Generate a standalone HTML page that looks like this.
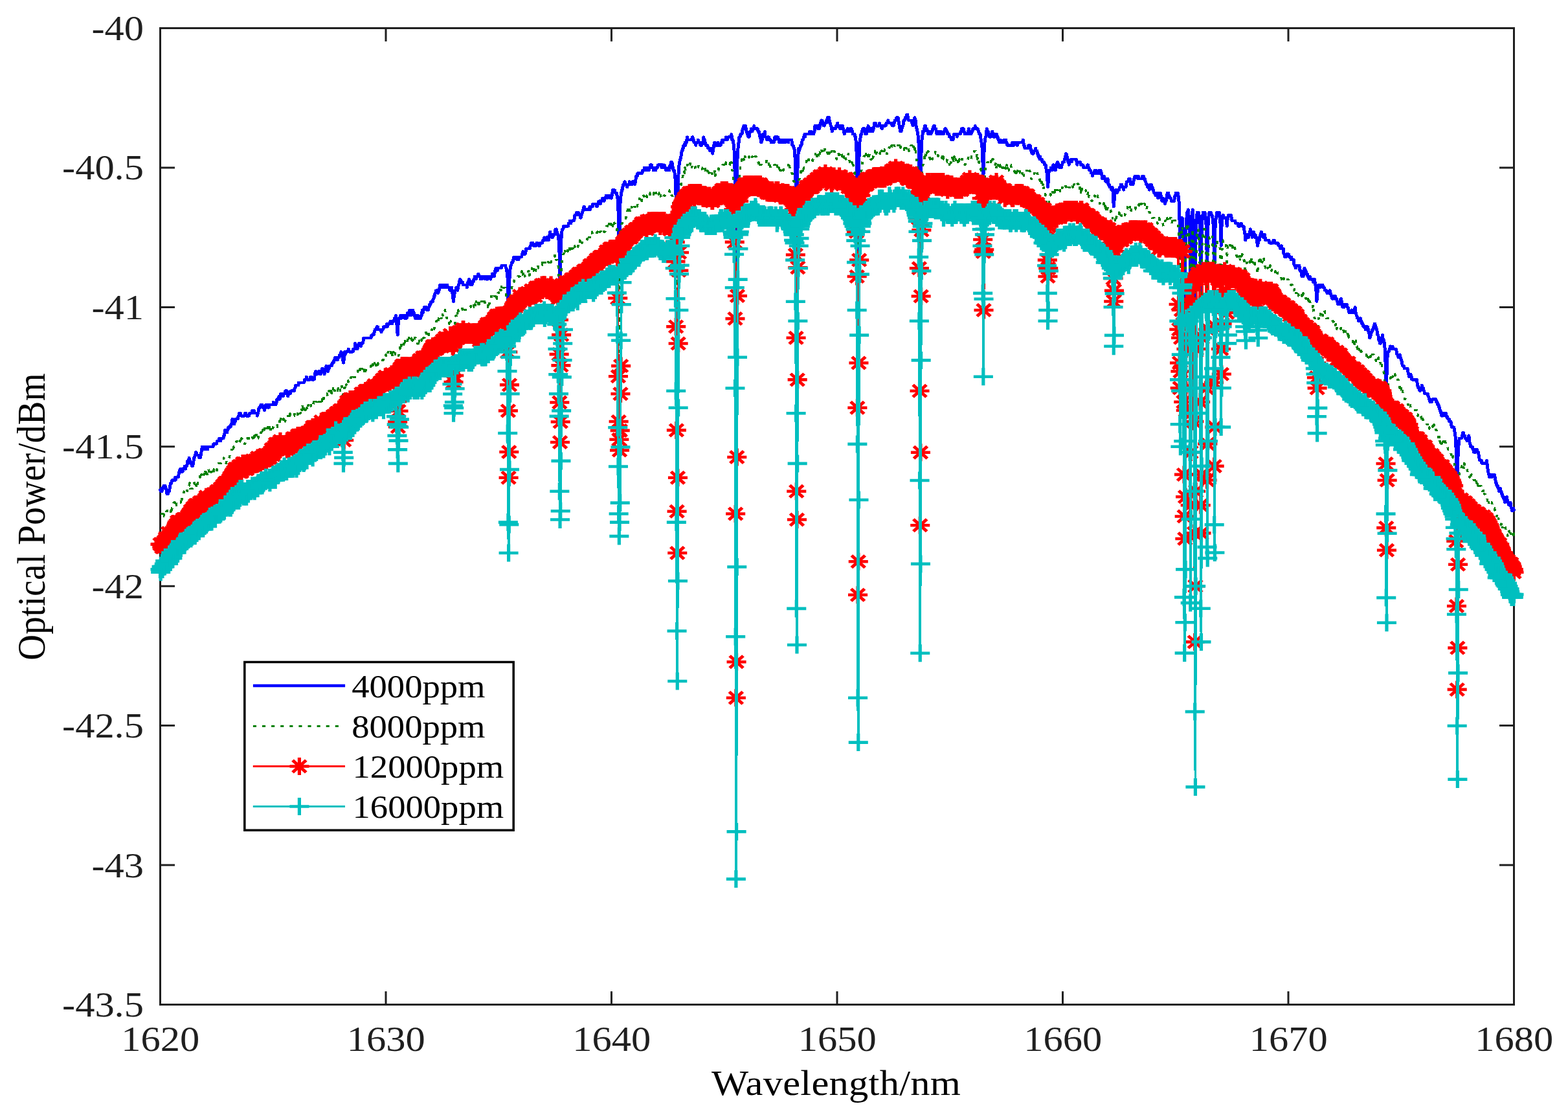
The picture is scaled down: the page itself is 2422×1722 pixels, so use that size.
<!DOCTYPE html>
<html lang="en"><head><meta charset="utf-8"><title>Optical Power vs Wavelength</title>
<style>html,body{margin:0;padding:0;background:#fff}svg{display:block}text{font-family:'Liberation Serif',serif}</style></head><body>
<svg width="2422" height="1722" viewBox="0 0 2422 1722">
<rect width="2422" height="1722" fill="#fff"/>
<g stroke="#1f1f1f" stroke-width="3" fill="none" stroke-linecap="butt">
<rect x="247.5" y="43.5" width="2091.0" height="1508.0"/>
<path d="M596.0 1551.5v-20.5M596.0 43.5v20.5M944.5 1551.5v-20.5M944.5 43.5v20.5M1293.0 1551.5v-20.5M1293.0 43.5v20.5M1641.5 1551.5v-20.5M1641.5 43.5v20.5M1990.0 1551.5v-20.5M1990.0 43.5v20.5M247.5 258.9h22.5M2338.5 258.9h-22.5M247.5 474.4h22.5M2338.5 474.4h-22.5M247.5 689.8h22.5M2338.5 689.8h-22.5M247.5 905.2h22.5M2338.5 905.2h-22.5M247.5 1120.6h22.5M2338.5 1120.6h-22.5M247.5 1336.1h22.5M2338.5 1336.1h-22.5"/>
</g>
<g fill="#1f1f1f" font-size="55">
<text transform="translate(247.8 1622.5) scale(1.100 1)" text-anchor="middle">1620</text>
<text transform="translate(596.3 1622.5) scale(1.100 1)" text-anchor="middle">1630</text>
<text transform="translate(944.8 1622.5) scale(1.100 1)" text-anchor="middle">1640</text>
<text transform="translate(1293.3 1622.5) scale(1.100 1)" text-anchor="middle">1650</text>
<text transform="translate(1641.8 1622.5) scale(1.100 1)" text-anchor="middle">1660</text>
<text transform="translate(1990.3 1622.5) scale(1.100 1)" text-anchor="middle">1670</text>
<text transform="translate(2338.8 1622.5) scale(1.100 1)" text-anchor="middle">1680</text>
<text transform="translate(222 62.0) scale(1.100 1)" text-anchor="end">-40</text>
<text transform="translate(222 277.4) scale(1.100 1)" text-anchor="end">-40.5</text>
<text transform="translate(222 492.9) scale(1.100 1)" text-anchor="end">-41</text>
<text transform="translate(222 708.3) scale(1.100 1)" text-anchor="end">-41.5</text>
<text transform="translate(222 923.7) scale(1.100 1)" text-anchor="end">-42</text>
<text transform="translate(222 1139.1) scale(1.100 1)" text-anchor="end">-42.5</text>
<text transform="translate(222 1354.6) scale(1.100 1)" text-anchor="end">-43</text>
<text transform="translate(222 1570.0) scale(1.100 1)" text-anchor="end">-43.5</text>
</g>
<g fill="#000" font-size="55">
<text transform="translate(1291.6 1691.3) scale(1.100 1)" text-anchor="middle" letter-spacing="0.25">Wavelength/nm</text>
<text transform="translate(69.2 798) scale(1.130 1) rotate(-90)" text-anchor="middle" letter-spacing="0.3">Optical Power/dBm</text>
</g>
<defs><g id="mP"><path d="M-13.3 0H13.3M0 -13.5V13.5" stroke="#00bfbf" stroke-width="4.6" fill="none"/></g><g id="mA"><path d="M-13.3 0H13.3M0 -13.5V13.5M-9.2 -9.4L9.2 9.4M-9.2 9.4L9.2 -9.4" stroke="#f00" stroke-width="4.6" fill="none"/></g><marker id="kP" markerUnits="userSpaceOnUse" markerWidth="34" markerHeight="32" refX="0" refY="0" viewBox="-17 -16 34 32" overflow="visible"><path d="M-13.3 0H13.3M0 -13.5V13.5" stroke="#00bfbf" stroke-width="4.6" fill="none"/></marker><marker id="kA" markerUnits="userSpaceOnUse" markerWidth="34" markerHeight="32" refX="0" refY="0" viewBox="-17 -16 34 32" overflow="visible"><path d="M-13.3 0H13.3M0 -13.5V13.5M-9.2 -9.4L9.2 9.4M-9.2 9.4L9.2 -9.4" stroke="#f00" stroke-width="4.6" fill="none"/></marker></defs>
<g fill="none" stroke-linejoin="round" shape-rendering="crispEdges" transform="scale(1.130 1)">
<polyline stroke="#00f" stroke-width="4.4" points="219.03,754.4 219.64,758.7 220.26,758.7 220.88,754.4 221.49,758.7 222.11,754.4 222.73,754.4 223.34,754.4 223.96,750.1 224.58,750.1 225.19,754.4 225.81,750.1 226.43,754.4 227.05,754.4 227.66,758.7 228.28,763.0 228.90,763.0 229.51,763.0 230.13,758.7 230.75,758.7 231.36,758.7 231.98,754.4 232.60,750.1 233.21,745.8 233.83,745.8 234.45,745.8 235.06,741.5 235.68,741.5 236.30,741.5 236.91,741.5 237.53,741.5 238.15,741.5 238.76,741.5 239.38,737.2 240.00,741.5 240.62,737.2 241.23,737.2 241.85,737.2 242.47,737.2 243.08,737.2 243.70,737.2 244.32,732.9 244.93,728.6 245.55,728.6 246.17,724.3 246.78,724.3 247.40,724.3 248.02,728.6 248.63,728.6 249.25,724.3 249.87,728.6 250.48,724.3 251.10,724.3 251.72,724.3 252.33,719.9 252.95,719.9 253.57,724.3 254.18,719.9 254.80,719.9 255.42,719.9 256.04,715.6 256.65,711.3 257.27,711.3 257.89,711.3 258.50,707.0 259.12,711.3 259.74,711.3 260.35,715.6 260.97,715.6 261.59,715.6 262.20,719.9 262.82,719.9 263.44,719.9 264.05,715.6 264.67,711.3 265.29,707.0 265.90,707.0 266.52,702.7 267.14,702.7 267.75,698.4 268.37,698.4 268.99,702.7 269.61,702.7 270.22,702.7 270.84,702.7 271.46,702.7 272.07,707.0 272.69,707.0 273.31,707.0 273.92,707.0 274.54,702.7 275.16,698.4 275.77,694.1 276.39,689.8 277.01,689.8 277.62,694.1 278.24,694.1 278.86,694.1 279.47,694.1 280.09,694.1 280.71,689.8 281.32,689.8 281.94,694.1 282.56,694.1 283.18,689.8 283.79,694.1 284.41,689.8 285.03,689.8 285.64,689.8 286.26,689.8 286.88,689.8 287.49,689.8 288.11,689.8 288.73,689.8 289.34,689.8 289.96,689.8 290.58,689.8 291.19,689.8 291.81,685.5 292.43,685.5 293.04,685.5 293.66,685.5 294.28,685.5 294.89,685.5 295.51,685.5 296.13,685.5 296.75,681.2 297.36,681.2 297.98,681.2 298.60,681.2 299.21,681.2 299.83,676.9 300.45,676.9 301.06,681.2 301.68,681.2 302.30,676.9 302.91,676.9 303.53,676.9 304.15,676.9 304.76,676.9 305.38,676.9 306.00,672.6 306.61,672.6 307.23,668.2 307.85,663.9 308.46,663.9 309.08,663.9 309.70,663.9 310.32,668.2 310.93,663.9 311.55,663.9 312.17,659.6 312.78,659.6 313.40,659.6 314.02,659.6 314.63,659.6 315.25,659.6 315.87,655.3 316.48,655.3 317.10,651.0 317.72,646.7 318.33,651.0 318.95,651.0 319.57,651.0 320.18,655.3 320.80,651.0 321.42,651.0 322.03,646.7 322.65,646.7 323.27,646.7 323.88,646.7 324.50,646.7 325.12,646.7 325.74,642.4 326.35,642.4 326.97,638.1 327.59,638.1 328.20,638.1 328.82,638.1 329.44,642.4 330.05,642.4 330.67,642.4 331.29,642.4 331.90,642.4 332.52,642.4 333.14,642.4 333.75,642.4 334.37,642.4 334.99,638.1 335.60,638.1 336.22,638.1 336.84,642.4 337.45,642.4 338.07,642.4 338.69,642.4 339.31,642.4 339.92,642.4 340.54,642.4 341.16,638.1 341.77,638.1 342.39,638.1 343.01,638.1 343.62,638.1 344.24,638.1 344.86,633.8 345.47,633.8 346.09,638.1 346.71,633.8 347.32,633.8 347.94,638.1 348.56,638.1 349.17,638.1 349.79,638.1 350.41,638.1 351.02,638.1 351.64,642.4 352.26,638.1 352.88,638.1 353.49,633.8 354.11,629.5 354.73,629.5 355.34,629.5 355.96,629.5 356.58,625.2 357.19,625.2 357.81,625.2 358.43,625.2 359.04,629.5 359.66,629.5 360.28,629.5 360.89,629.5 361.51,633.8 362.13,629.5 362.74,629.5 363.36,625.2 363.98,629.5 364.59,625.2 365.21,625.2 365.83,625.2 366.45,629.5 367.06,629.5 367.68,629.5 368.30,625.2 368.91,625.2 369.53,625.2 370.15,625.2 370.76,625.2 371.38,625.2 372.00,625.2 372.61,625.2 373.23,625.2 373.85,620.8 374.46,625.2 375.08,625.2 375.70,625.2 376.31,625.2 376.93,625.2 377.55,620.8 378.16,620.8 378.78,616.5 379.40,616.5 380.02,616.5 380.63,616.5 381.25,612.2 381.87,616.5 382.48,616.5 383.10,612.2 383.72,607.9 384.33,607.9 384.95,607.9 385.57,607.9 386.18,607.9 386.80,612.2 387.42,607.9 388.03,607.9 388.65,607.9 389.27,607.9 389.88,603.6 390.50,603.6 391.12,603.6 391.73,603.6 392.35,603.6 392.97,607.9 393.58,612.2 394.20,607.9 394.82,607.9 395.44,607.9 396.05,607.9 396.67,607.9 397.29,603.6 397.90,603.6 398.52,603.6 399.14,603.6 399.75,603.6 400.37,603.6 400.99,603.6 401.60,603.6 402.22,603.6 402.84,599.3 403.45,599.3 404.07,595.0 404.69,595.0 405.30,595.0 405.92,595.0 406.54,595.0 407.15,595.0 407.77,595.0 408.39,590.7 409.01,590.7 409.62,590.7 410.24,590.7 410.86,590.7 411.47,590.7 412.09,590.7 412.71,590.7 413.32,590.7 413.94,590.7 414.56,590.7 415.17,590.7 415.79,590.7 416.41,586.4 417.02,586.4 417.64,586.4 418.26,586.4 418.87,582.1 419.49,586.4 420.11,586.4 420.72,586.4 421.34,586.4 421.96,586.4 422.58,586.4 423.19,586.4 423.81,586.4 424.43,582.1 425.04,586.4 425.66,586.4 426.28,582.1 426.89,586.4 427.51,586.4 428.13,586.4 428.74,586.4 429.36,586.4 429.98,582.1 430.59,577.8 431.21,573.5 431.83,573.5 432.44,577.8 433.06,577.8 433.68,577.8 434.29,577.8 434.91,573.5 435.53,573.5 436.15,573.5 436.76,573.5 437.38,573.5 438.00,577.8 438.61,577.8 439.23,573.5 439.85,573.5 440.46,569.1 441.08,573.5 441.70,573.5 442.31,573.5 442.93,573.5 443.55,577.8 444.16,573.5 444.78,569.1 445.40,569.1 446.01,564.8 446.63,569.1 447.25,573.5 447.86,569.1 448.48,573.5 449.10,569.1 449.72,569.1 450.33,564.8 450.95,564.8 451.57,564.8 452.18,564.8 452.80,564.8 453.42,564.8 454.03,560.5 454.65,560.5 455.27,560.5 455.88,560.5 456.50,556.2 457.12,556.2 457.73,556.2 458.35,551.9 458.97,556.2 459.58,556.2 460.20,556.2 460.82,556.2 461.43,556.2 462.05,551.9 462.67,551.9 463.28,551.9 463.90,551.9 464.52,547.6 465.14,547.6 465.75,547.6 466.37,543.3 466.99,547.6 467.60,547.6 468.22,551.9 468.84,556.2 469.45,560.5 470.07,556.2 470.69,551.9 471.30,543.3 471.92,547.6 472.54,543.3 473.15,543.3 473.77,543.3 474.39,543.3 475.00,543.3 475.62,543.3 476.24,539.0 476.85,543.3 477.47,543.3 478.09,543.3 478.71,543.3 479.32,543.3 479.94,543.3 480.56,543.3 481.17,543.3 481.79,543.3 482.41,543.3 483.02,539.0 483.64,539.0 484.26,539.0 484.87,539.0 485.49,530.4 486.11,534.7 486.72,534.7 487.34,539.0 487.96,539.0 488.57,539.0 489.19,534.7 489.81,534.7 490.42,530.4 491.04,530.4 491.66,530.4 492.28,530.4 492.89,534.7 493.51,534.7 494.13,530.4 494.74,530.4 495.36,530.4 495.98,530.4 496.59,526.1 497.21,521.8 497.83,521.8 498.44,521.8 499.06,521.8 499.68,521.8 500.29,521.8 500.91,521.8 501.53,521.8 502.14,521.8 502.76,521.8 503.38,521.8 503.99,521.8 504.61,521.8 505.23,521.8 505.85,521.8 506.46,521.8 507.08,521.8 507.70,517.4 508.31,517.4 508.93,517.4 509.55,517.4 510.16,517.4 510.78,517.4 511.40,513.1 512.01,513.1 512.63,508.8 513.25,508.8 513.86,508.8 514.48,508.8 515.10,504.5 515.71,504.5 516.33,504.5 516.95,508.8 517.56,508.8 518.18,508.8 518.80,508.8 519.42,508.8 520.03,508.8 520.65,508.8 521.27,513.1 521.88,508.8 522.50,508.8 523.12,508.8 523.73,508.8 524.35,504.5 524.97,504.5 525.58,504.5 526.20,504.5 526.82,504.5 527.43,504.5 528.05,504.5 528.67,500.2 529.28,504.5 529.90,504.5 530.52,500.2 531.13,500.2 531.75,500.2 532.37,500.2 532.98,500.2 533.60,495.9 534.22,495.9 534.84,495.9 535.45,495.9 536.07,500.2 536.69,495.9 537.30,495.9 537.92,495.9 538.54,495.9 539.15,491.6 539.77,491.6 540.39,491.6 541.00,487.3 541.62,495.9 542.24,500.2 542.85,504.5 543.47,517.4 544.09,504.5 544.70,495.9 545.32,491.6 545.94,491.6 546.55,491.6 547.17,487.3 547.79,487.3 548.41,487.3 549.02,491.6 549.64,487.3 550.26,487.3 550.87,487.3 551.49,487.3 552.11,487.3 552.72,487.3 553.34,491.6 553.96,487.3 554.57,491.6 555.19,491.6 555.81,491.6 556.42,487.3 557.04,483.0 557.66,483.0 558.27,487.3 558.89,483.0 559.51,483.0 560.12,478.7 560.74,483.0 561.36,483.0 561.98,487.3 562.59,483.0 563.21,478.7 563.83,478.7 564.44,478.7 565.06,483.0 565.68,483.0 566.29,487.3 566.91,487.3 567.53,491.6 568.14,491.6 568.76,491.6 569.38,487.3 569.99,491.6 570.61,491.6 571.23,487.3 571.84,491.6 572.46,491.6 573.08,491.6 573.69,491.6 574.31,491.6 574.93,491.6 575.55,487.3 576.16,487.3 576.78,483.0 577.40,478.7 578.01,483.0 578.63,478.7 579.25,478.7 579.86,474.4 580.48,474.4 581.10,474.4 581.71,474.4 582.33,474.4 582.95,474.4 583.56,478.7 584.18,478.7 584.80,478.7 585.41,478.7 586.03,474.4 586.65,474.4 587.26,470.0 587.88,470.0 588.50,470.0 589.12,465.7 589.73,465.7 590.35,465.7 590.97,465.7 591.58,465.7 592.20,461.4 592.82,461.4 593.43,457.1 594.05,457.1 594.67,452.8 595.28,452.8 595.90,448.5 596.52,448.5 597.13,448.5 597.75,448.5 598.37,448.5 598.98,452.8 599.60,448.5 600.22,448.5 600.83,444.2 601.45,439.9 602.07,439.9 602.68,439.9 603.30,439.9 603.92,439.9 604.54,444.2 605.15,439.9 605.77,439.9 606.39,444.2 607.00,444.2 607.62,439.9 608.24,444.2 608.85,444.2 609.47,444.2 610.09,444.2 610.70,439.9 611.32,439.9 611.94,444.2 612.55,444.2 613.17,444.2 613.79,444.2 614.40,444.2 615.02,448.5 615.64,448.5 616.25,448.5 616.87,444.2 617.49,444.2 618.11,452.8 618.72,452.8 619.34,461.4 619.96,465.7 620.57,457.1 621.19,452.8 621.81,452.8 622.42,448.5 623.04,448.5 623.66,444.2 624.27,444.2 624.89,444.2 625.51,448.5 626.12,444.2 626.74,439.9 627.36,439.9 627.97,435.6 628.59,431.3 629.21,431.3 629.82,435.6 630.44,435.6 631.06,435.6 631.68,435.6 632.29,435.6 632.91,439.9 633.53,439.9 634.14,439.9 634.76,439.9 635.38,439.9 635.99,439.9 636.61,439.9 637.23,439.9 637.84,439.9 638.46,444.2 639.08,439.9 639.69,435.6 640.31,435.6 640.93,431.3 641.54,431.3 642.16,435.6 642.78,439.9 643.39,439.9 644.01,439.9 644.63,435.6 645.25,439.9 645.86,435.6 646.48,435.6 647.10,435.6 647.71,431.3 648.33,431.3 648.95,427.0 649.56,427.0 650.18,431.3 650.80,431.3 651.41,427.0 652.03,427.0 652.65,427.0 653.26,427.0 653.88,422.7 654.50,427.0 655.11,427.0 655.73,427.0 656.35,427.0 656.96,431.3 657.58,427.0 658.20,431.3 658.82,431.3 659.43,427.0 660.05,427.0 660.67,427.0 661.28,427.0 661.90,427.0 662.52,427.0 663.13,431.3 663.75,427.0 664.37,431.3 664.98,431.3 665.60,431.3 666.22,427.0 666.83,431.3 667.45,427.0 668.07,427.0 668.68,427.0 669.30,427.0 669.92,427.0 670.53,431.3 671.15,427.0 671.77,427.0 672.38,427.0 673.00,422.7 673.62,427.0 674.24,427.0 674.85,422.7 675.47,427.0 676.09,422.7 676.70,418.3 677.32,418.3 677.94,414.0 678.55,418.3 679.17,418.3 679.79,418.3 680.40,414.0 681.02,414.0 681.64,414.0 682.25,414.0 682.87,414.0 683.49,414.0 684.10,414.0 684.72,414.0 685.34,414.0 685.95,409.7 686.57,409.7 687.19,409.7 687.81,409.7 688.42,409.7 689.04,409.7 689.66,409.7 690.27,409.7 690.89,409.7 691.51,414.0 692.12,414.0 692.74,418.3 693.36,422.7 693.97,431.3 694.59,461.4 695.21,491.6 695.82,461.4 696.44,431.3 697.06,418.3 697.67,414.0 698.29,409.7 698.91,409.7 699.52,405.4 700.14,405.4 700.76,405.4 701.38,401.1 701.99,401.1 702.61,396.8 703.23,396.8 703.84,396.8 704.46,396.8 705.08,396.8 705.69,396.8 706.31,396.8 706.93,401.1 707.54,401.1 708.16,401.1 708.78,401.1 709.39,396.8 710.01,396.8 710.63,396.8 711.24,396.8 711.86,396.8 712.48,396.8 713.09,396.8 713.71,392.5 714.33,392.5 714.95,388.2 715.56,392.5 716.18,392.5 716.80,392.5 717.41,392.5 718.03,392.5 718.65,388.2 719.26,383.9 719.88,383.9 720.50,383.9 721.11,383.9 721.73,383.9 722.35,383.9 722.96,383.9 723.58,383.9 724.20,383.9 724.81,379.6 725.43,379.6 726.05,375.3 726.66,375.3 727.28,375.3 727.90,375.3 728.52,375.3 729.13,379.6 729.75,379.6 730.37,379.6 730.98,379.6 731.60,379.6 732.22,379.6 732.83,379.6 733.45,375.3 734.07,375.3 734.68,375.3 735.30,375.3 735.92,379.6 736.53,379.6 737.15,379.6 737.77,379.6 738.38,375.3 739.00,375.3 739.62,375.3 740.23,375.3 740.85,375.3 741.47,375.3 742.08,371.0 742.70,371.0 743.32,371.0 743.94,366.6 744.55,371.0 745.17,371.0 745.79,371.0 746.40,371.0 747.02,366.6 747.64,371.0 748.25,366.6 748.87,371.0 749.49,371.0 750.10,371.0 750.72,366.6 751.34,362.3 751.95,358.0 752.57,362.3 753.19,362.3 753.80,362.3 754.42,366.6 755.04,362.3 755.65,366.6 756.27,362.3 756.89,362.3 757.51,362.3 758.12,362.3 758.74,358.0 759.36,353.7 759.97,358.0 760.59,353.7 761.21,358.0 761.82,362.3 762.44,362.3 763.06,362.3 763.67,371.0 764.29,375.3 764.91,405.4 765.52,435.6 766.14,401.1 766.76,375.3 767.37,366.6 767.99,358.0 768.61,353.7 769.22,353.7 769.84,353.7 770.46,349.4 771.08,349.4 771.69,349.4 772.31,349.4 772.93,349.4 773.54,349.4 774.16,349.4 774.78,349.4 775.39,349.4 776.01,349.4 776.63,349.4 777.24,345.1 777.86,345.1 778.48,345.1 779.09,340.8 779.71,340.8 780.33,345.1 780.94,340.8 781.56,340.8 782.18,340.8 782.79,340.8 783.41,340.8 784.03,340.8 784.65,340.8 785.26,336.5 785.88,332.2 786.50,332.2 787.11,332.2 787.73,332.2 788.35,327.9 788.96,332.2 789.58,332.2 790.20,327.9 790.81,327.9 791.43,332.2 792.05,332.2 792.66,332.2 793.28,336.5 793.90,336.5 794.51,332.2 795.13,332.2 795.75,327.9 796.36,327.9 796.98,323.6 797.60,323.6 798.22,319.2 798.83,319.2 799.45,323.6 800.07,323.6 800.68,323.6 801.30,323.6 801.92,323.6 802.53,323.6 803.15,323.6 803.77,323.6 804.38,323.6 805.00,323.6 805.62,323.6 806.23,319.2 806.85,323.6 807.47,319.2 808.08,319.2 808.70,319.2 809.32,319.2 809.93,319.2 810.55,314.9 811.17,314.9 811.78,314.9 812.40,314.9 813.02,314.9 813.64,314.9 814.25,314.9 814.87,314.9 815.49,319.2 816.10,319.2 816.72,314.9 817.34,314.9 817.95,314.9 818.57,310.6 819.19,310.6 819.80,314.9 820.42,310.6 821.04,314.9 821.65,310.6 822.27,310.6 822.89,310.6 823.50,306.3 824.12,306.3 824.74,306.3 825.35,306.3 825.97,310.6 826.59,306.3 827.21,306.3 827.82,306.3 828.44,302.0 829.06,306.3 829.67,302.0 830.29,306.3 830.91,302.0 831.52,302.0 832.14,302.0 832.76,302.0 833.37,302.0 833.99,302.0 834.61,306.3 835.22,302.0 835.84,306.3 836.46,302.0 837.07,297.7 837.69,293.4 838.31,293.4 838.92,293.4 839.54,293.4 840.16,293.4 840.78,297.7 841.39,297.7 842.01,297.7 842.63,297.7 843.24,302.0 843.86,302.0 844.48,310.6 845.09,323.6 845.71,358.0 846.33,392.5 846.94,358.0 847.56,319.2 848.18,306.3 848.79,302.0 849.41,297.7 850.03,293.4 850.64,293.4 851.26,289.1 851.88,284.8 852.49,284.8 853.11,284.8 853.73,280.5 854.35,280.5 854.96,284.8 855.58,284.8 856.20,284.8 856.81,284.8 857.43,289.1 858.05,284.8 858.66,284.8 859.28,284.8 859.90,284.8 860.51,280.5 861.13,284.8 861.75,284.8 862.36,284.8 862.98,284.8 863.60,284.8 864.21,280.5 864.83,280.5 865.45,280.5 866.06,280.5 866.68,280.5 867.30,280.5 867.92,284.8 868.53,280.5 869.15,276.2 869.77,271.9 870.38,271.9 871.00,271.9 871.62,267.5 872.23,267.5 872.85,267.5 873.47,267.5 874.08,267.5 874.70,267.5 875.32,267.5 875.93,267.5 876.55,267.5 877.17,267.5 877.78,267.5 878.40,263.2 879.02,263.2 879.63,263.2 880.25,263.2 880.87,258.9 881.48,258.9 882.10,263.2 882.72,263.2 883.34,263.2 883.95,258.9 884.57,263.2 885.19,258.9 885.80,263.2 886.42,258.9 887.04,263.2 887.65,258.9 888.27,258.9 888.89,254.6 889.50,254.6 890.12,254.6 890.74,254.6 891.35,258.9 891.97,258.9 892.59,258.9 893.20,263.2 893.82,258.9 894.44,258.9 895.05,263.2 895.67,258.9 896.29,263.2 896.91,258.9 897.52,258.9 898.14,258.9 898.76,258.9 899.37,254.6 899.99,254.6 900.61,254.6 901.22,254.6 901.84,254.6 902.46,254.6 903.07,254.6 903.69,254.6 904.31,258.9 904.92,254.6 905.54,254.6 906.16,254.6 906.77,258.9 907.39,254.6 908.01,254.6 908.62,258.9 909.24,258.9 909.86,258.9 910.48,263.2 911.09,263.2 911.71,263.2 912.33,263.2 912.94,263.2 913.56,263.2 914.18,258.9 914.79,263.2 915.41,258.9 916.03,254.6 916.64,254.6 917.26,250.3 917.88,254.6 918.49,250.3 919.11,254.6 919.73,258.9 920.34,263.2 920.96,263.2 921.58,263.2 922.19,267.5 922.81,271.9 923.43,284.8 924.05,306.3 924.66,362.3 925.28,427.0 925.90,358.0 926.51,302.0 927.13,276.2 927.75,263.2 928.36,254.6 928.98,250.3 929.60,246.0 930.21,246.0 930.83,241.7 931.45,237.4 932.06,233.1 932.68,233.1 933.30,228.8 933.91,228.8 934.53,224.5 935.15,224.5 935.76,224.5 936.38,220.2 937.00,224.5 937.62,220.2 938.23,220.2 938.85,215.8 939.47,211.5 940.08,215.8 940.70,215.8 941.32,215.8 941.93,215.8 942.55,215.8 943.17,215.8 943.78,215.8 944.40,215.8 945.02,215.8 945.63,215.8 946.25,211.5 946.87,211.5 947.48,215.8 948.10,215.8 948.72,220.2 949.33,220.2 949.95,220.2 950.57,220.2 951.18,224.5 951.80,220.2 952.42,220.2 953.04,220.2 953.65,220.2 954.27,215.8 954.89,220.2 955.50,220.2 956.12,220.2 956.74,220.2 957.35,224.5 957.97,224.5 958.59,224.5 959.20,224.5 959.82,220.2 960.44,220.2 961.05,220.2 961.67,211.5 962.29,215.8 962.90,215.8 963.52,220.2 964.14,220.2 964.75,224.5 965.37,224.5 965.99,224.5 966.61,224.5 967.22,224.5 967.84,228.8 968.46,228.8 969.07,228.8 969.69,228.8 970.31,233.1 970.92,233.1 971.54,228.8 972.16,233.1 972.77,228.8 973.39,233.1 974.01,237.4 974.62,233.1 975.24,228.8 975.86,224.5 976.47,220.2 977.09,224.5 977.71,220.2 978.32,224.5 978.94,224.5 979.56,224.5 980.18,224.5 980.79,224.5 981.41,220.2 982.03,224.5 982.64,224.5 983.26,224.5 983.88,224.5 984.49,224.5 985.11,224.5 985.73,220.2 986.34,220.2 986.96,220.2 987.58,215.8 988.19,220.2 988.81,215.8 989.43,215.8 990.04,215.8 990.66,215.8 991.28,215.8 991.89,215.8 992.51,211.5 993.13,215.8 993.75,215.8 994.36,215.8 994.98,211.5 995.60,211.5 996.21,211.5 996.83,211.5 997.45,211.5 998.06,211.5 998.68,211.5 999.30,211.5 999.91,207.2 1000.53,215.8 1001.15,215.8 1001.76,215.8 1002.38,220.2 1003.00,224.5 1003.61,233.1 1004.23,250.3 1004.85,284.8 1005.46,366.6 1006.08,461.4 1006.70,366.6 1007.32,284.8 1007.93,246.0 1008.55,233.1 1009.17,224.5 1009.78,220.2 1010.40,211.5 1011.02,211.5 1011.63,211.5 1012.25,207.2 1012.87,207.2 1013.48,207.2 1014.10,207.2 1014.72,202.9 1015.33,198.6 1015.95,198.6 1016.57,194.3 1017.18,194.3 1017.80,194.3 1018.42,194.3 1019.03,194.3 1019.65,198.6 1020.27,202.9 1020.88,202.9 1021.50,207.2 1022.12,207.2 1022.74,211.5 1023.35,211.5 1023.97,211.5 1024.59,207.2 1025.20,202.9 1025.82,202.9 1026.44,202.9 1027.05,198.6 1027.67,202.9 1028.29,202.9 1028.90,198.6 1029.52,198.6 1030.14,198.6 1030.75,194.3 1031.37,198.6 1031.99,198.6 1032.60,198.6 1033.22,198.6 1033.84,198.6 1034.45,198.6 1035.07,198.6 1035.69,198.6 1036.31,202.9 1036.92,202.9 1037.54,202.9 1038.16,207.2 1038.77,211.5 1039.39,211.5 1040.01,215.8 1040.62,220.2 1041.24,215.8 1041.86,215.8 1042.47,211.5 1043.09,207.2 1043.71,207.2 1044.32,207.2 1044.94,207.2 1045.56,202.9 1046.17,211.5 1046.79,211.5 1047.41,211.5 1048.02,215.8 1048.64,215.8 1049.26,211.5 1049.88,211.5 1050.49,211.5 1051.11,211.5 1051.73,215.8 1052.34,215.8 1052.96,215.8 1053.58,215.8 1054.19,220.2 1054.81,220.2 1055.43,220.2 1056.04,220.2 1056.66,220.2 1057.28,220.2 1057.89,220.2 1058.51,215.8 1059.13,211.5 1059.74,215.8 1060.36,211.5 1060.98,211.5 1061.59,211.5 1062.21,211.5 1062.83,211.5 1063.45,211.5 1064.06,215.8 1064.68,215.8 1065.30,220.2 1065.91,215.8 1066.53,220.2 1067.15,215.8 1067.76,215.8 1068.38,215.8 1069.00,215.8 1069.61,215.8 1070.23,220.2 1070.85,215.8 1071.46,215.8 1072.08,215.8 1072.70,215.8 1073.31,220.2 1073.93,215.8 1074.55,215.8 1075.16,215.8 1075.78,215.8 1076.40,215.8 1077.02,215.8 1077.63,220.2 1078.25,215.8 1078.87,215.8 1079.48,215.8 1080.10,215.8 1080.72,215.8 1081.33,215.8 1081.95,215.8 1082.57,220.2 1083.18,224.5 1083.80,224.5 1084.42,224.5 1085.03,228.8 1085.65,228.8 1086.27,233.1 1086.88,246.0 1087.50,267.5 1088.12,323.6 1088.73,383.9 1089.35,323.6 1089.97,271.9 1090.58,250.3 1091.20,237.4 1091.82,228.8 1092.44,233.1 1093.05,228.8 1093.67,228.8 1094.29,224.5 1094.90,224.5 1095.52,224.5 1096.14,220.2 1096.75,215.8 1097.37,215.8 1097.99,215.8 1098.60,211.5 1099.22,211.5 1099.84,207.2 1100.45,211.5 1101.07,207.2 1101.69,207.2 1102.30,207.2 1102.92,207.2 1103.54,207.2 1104.15,207.2 1104.77,207.2 1105.39,207.2 1106.01,207.2 1106.62,202.9 1107.24,207.2 1107.86,202.9 1108.47,207.2 1109.09,202.9 1109.71,207.2 1110.32,207.2 1110.94,207.2 1111.56,207.2 1112.17,207.2 1112.79,202.9 1113.41,202.9 1114.02,194.3 1114.64,194.3 1115.26,194.3 1115.87,194.3 1116.49,194.3 1117.11,194.3 1117.72,198.6 1118.34,198.6 1118.96,198.6 1119.58,198.6 1120.19,198.6 1120.81,194.3 1121.43,190.0 1122.04,190.0 1122.66,185.7 1123.28,190.0 1123.89,185.7 1124.51,190.0 1125.13,190.0 1125.74,194.3 1126.36,190.0 1126.98,194.3 1127.59,190.0 1128.21,190.0 1128.83,190.0 1129.44,190.0 1130.06,185.7 1130.68,185.7 1131.29,181.4 1131.91,181.4 1132.53,181.4 1133.15,181.4 1133.76,185.7 1134.38,190.0 1135.00,190.0 1135.61,194.3 1136.23,194.3 1136.85,198.6 1137.46,202.9 1138.08,198.6 1138.70,198.6 1139.31,198.6 1139.93,198.6 1140.55,198.6 1141.16,198.6 1141.78,198.6 1142.40,198.6 1143.01,194.3 1143.63,194.3 1144.25,194.3 1144.86,190.0 1145.48,194.3 1146.10,194.3 1146.72,194.3 1147.33,194.3 1147.95,198.6 1148.57,198.6 1149.18,198.6 1149.80,194.3 1150.42,198.6 1151.03,194.3 1151.65,194.3 1152.27,198.6 1152.88,198.6 1153.50,202.9 1154.12,207.2 1154.73,202.9 1155.35,202.9 1155.97,202.9 1156.58,202.9 1157.20,202.9 1157.82,202.9 1158.43,198.6 1159.05,202.9 1159.67,202.9 1160.28,198.6 1160.90,198.6 1161.52,202.9 1162.14,198.6 1162.75,198.6 1163.37,198.6 1163.99,198.6 1164.60,202.9 1165.22,202.9 1165.84,207.2 1166.45,207.2 1167.07,207.2 1167.69,207.2 1168.30,207.2 1168.92,211.5 1169.54,211.5 1170.15,220.2 1170.77,233.1 1171.39,263.2 1172.00,327.9 1172.62,405.4 1173.24,327.9 1173.85,263.2 1174.47,237.4 1175.09,220.2 1175.71,215.8 1176.32,211.5 1176.94,207.2 1177.56,207.2 1178.17,202.9 1178.79,202.9 1179.41,198.6 1180.02,198.6 1180.64,198.6 1181.26,198.6 1181.87,198.6 1182.49,202.9 1183.11,207.2 1183.72,207.2 1184.34,207.2 1184.96,202.9 1185.57,198.6 1186.19,198.6 1186.81,194.3 1187.42,198.6 1188.04,198.6 1188.66,202.9 1189.28,202.9 1189.89,198.6 1190.51,198.6 1191.13,198.6 1191.74,198.6 1192.36,198.6 1192.98,202.9 1193.59,198.6 1194.21,198.6 1194.83,194.3 1195.44,190.0 1196.06,190.0 1196.68,190.0 1197.29,194.3 1197.91,194.3 1198.53,194.3 1199.14,194.3 1199.76,194.3 1200.38,194.3 1200.99,194.3 1201.61,194.3 1202.23,190.0 1202.85,194.3 1203.46,194.3 1204.08,194.3 1204.70,194.3 1205.31,198.6 1205.93,198.6 1206.55,194.3 1207.16,194.3 1207.78,194.3 1208.40,194.3 1209.01,194.3 1209.63,194.3 1210.25,194.3 1210.86,194.3 1211.48,190.0 1212.10,190.0 1212.71,190.0 1213.33,190.0 1213.95,185.7 1214.56,190.0 1215.18,190.0 1215.80,190.0 1216.42,190.0 1217.03,190.0 1217.65,190.0 1218.27,190.0 1218.88,190.0 1219.50,194.3 1220.12,190.0 1220.73,194.3 1221.35,194.3 1221.97,190.0 1222.58,190.0 1223.20,185.7 1223.82,185.7 1224.43,185.7 1225.05,185.7 1225.67,181.4 1226.28,185.7 1226.90,181.4 1227.52,181.4 1228.13,185.7 1228.75,190.0 1229.37,194.3 1229.98,198.6 1230.60,202.9 1231.22,202.9 1231.84,202.9 1232.45,198.6 1233.07,198.6 1233.69,194.3 1234.30,194.3 1234.92,190.0 1235.54,185.7 1236.15,185.7 1236.77,185.7 1237.39,181.4 1238.00,181.4 1238.62,181.4 1239.24,177.1 1239.85,181.4 1240.47,177.1 1241.09,181.4 1241.70,185.7 1242.32,185.7 1242.94,185.7 1243.55,185.7 1244.17,185.7 1244.79,185.7 1245.41,185.7 1246.02,185.7 1246.64,190.0 1247.26,190.0 1247.87,194.3 1248.49,190.0 1249.11,185.7 1249.72,185.7 1250.34,181.4 1250.96,185.7 1251.57,185.7 1252.19,194.3 1252.81,198.6 1253.42,198.6 1254.04,202.9 1254.66,207.2 1255.27,211.5 1255.89,224.5 1256.51,246.0 1257.12,306.3 1257.74,371.0 1258.36,306.3 1258.98,250.3 1259.59,224.5 1260.21,215.8 1260.83,211.5 1261.44,202.9 1262.06,202.9 1262.68,202.9 1263.29,202.9 1263.91,194.3 1264.53,198.6 1265.14,194.3 1265.76,198.6 1266.38,198.6 1266.99,198.6 1267.61,202.9 1268.23,202.9 1268.84,207.2 1269.46,202.9 1270.08,207.2 1270.69,202.9 1271.31,207.2 1271.93,207.2 1272.55,207.2 1273.16,202.9 1273.78,202.9 1274.40,202.9 1275.01,198.6 1275.63,198.6 1276.25,194.3 1276.86,198.6 1277.48,194.3 1278.10,198.6 1278.71,198.6 1279.33,198.6 1279.95,202.9 1280.56,207.2 1281.18,202.9 1281.80,202.9 1282.41,207.2 1283.03,202.9 1283.65,202.9 1284.26,207.2 1284.88,202.9 1285.50,207.2 1286.12,202.9 1286.73,207.2 1287.35,207.2 1287.97,207.2 1288.58,207.2 1289.20,207.2 1289.82,207.2 1290.43,202.9 1291.05,202.9 1291.67,198.6 1292.28,198.6 1292.90,198.6 1293.52,202.9 1294.13,202.9 1294.75,202.9 1295.37,207.2 1295.98,207.2 1296.60,207.2 1297.22,207.2 1297.83,211.5 1298.45,211.5 1299.07,211.5 1299.68,211.5 1300.30,215.8 1300.92,215.8 1301.54,215.8 1302.15,215.8 1302.77,215.8 1303.39,211.5 1304.00,207.2 1304.62,207.2 1305.24,207.2 1305.85,207.2 1306.47,207.2 1307.09,207.2 1307.70,207.2 1308.32,211.5 1308.94,207.2 1309.55,207.2 1310.17,207.2 1310.79,207.2 1311.40,207.2 1312.02,207.2 1312.64,207.2 1313.25,202.9 1313.87,202.9 1314.49,198.6 1315.11,202.9 1315.72,198.6 1316.34,198.6 1316.96,198.6 1317.57,202.9 1318.19,202.9 1318.81,207.2 1319.42,207.2 1320.04,207.2 1320.66,207.2 1321.27,207.2 1321.89,207.2 1322.51,207.2 1323.12,202.9 1323.74,202.9 1324.36,198.6 1324.97,202.9 1325.59,207.2 1326.21,207.2 1326.82,207.2 1327.44,207.2 1328.06,202.9 1328.68,202.9 1329.29,202.9 1329.91,198.6 1330.53,198.6 1331.14,198.6 1331.76,198.6 1332.38,198.6 1332.99,194.3 1333.61,198.6 1334.23,198.6 1334.84,198.6 1335.46,198.6 1336.08,198.6 1336.69,198.6 1337.31,202.9 1337.93,202.9 1338.54,207.2 1339.16,207.2 1339.78,207.2 1340.39,211.5 1341.01,215.8 1341.63,220.2 1342.25,224.5 1342.86,233.1 1343.48,254.6 1344.10,276.2 1344.71,250.3 1345.33,228.8 1345.95,220.2 1346.56,215.8 1347.18,211.5 1347.80,211.5 1348.41,202.9 1349.03,198.6 1349.65,202.9 1350.26,202.9 1350.88,202.9 1351.50,207.2 1352.11,207.2 1352.73,211.5 1353.35,211.5 1353.96,211.5 1354.58,211.5 1355.20,207.2 1355.82,207.2 1356.43,202.9 1357.05,207.2 1357.67,207.2 1358.28,211.5 1358.90,211.5 1359.52,211.5 1360.13,207.2 1360.75,207.2 1361.37,211.5 1361.98,211.5 1362.60,207.2 1363.22,211.5 1363.83,211.5 1364.45,215.8 1365.07,215.8 1365.68,215.8 1366.30,220.2 1366.92,220.2 1367.53,215.8 1368.15,220.2 1368.77,220.2 1369.38,220.2 1370.00,220.2 1370.62,220.2 1371.24,220.2 1371.85,220.2 1372.47,215.8 1373.09,215.8 1373.70,220.2 1374.32,215.8 1374.94,215.8 1375.55,220.2 1376.17,220.2 1376.79,224.5 1377.40,224.5 1378.02,224.5 1378.64,224.5 1379.25,224.5 1379.87,224.5 1380.49,224.5 1381.10,224.5 1381.72,224.5 1382.34,224.5 1382.95,224.5 1383.57,220.2 1384.19,224.5 1384.81,220.2 1385.42,224.5 1386.04,224.5 1386.66,220.2 1387.27,220.2 1387.89,220.2 1388.51,220.2 1389.12,220.2 1389.74,220.2 1390.36,224.5 1390.97,224.5 1391.59,220.2 1392.21,220.2 1392.82,220.2 1393.44,220.2 1394.06,220.2 1394.67,220.2 1395.29,220.2 1395.91,220.2 1396.52,220.2 1397.14,220.2 1397.76,220.2 1398.38,215.8 1398.99,220.2 1399.61,224.5 1400.23,224.5 1400.84,228.8 1401.46,228.8 1402.08,228.8 1402.69,228.8 1403.31,228.8 1403.93,228.8 1404.54,228.8 1405.16,228.8 1405.78,224.5 1406.39,224.5 1407.01,224.5 1407.63,224.5 1408.24,224.5 1408.86,228.8 1409.48,233.1 1410.09,233.1 1410.71,237.4 1411.33,237.4 1411.95,237.4 1412.56,237.4 1413.18,233.1 1413.80,233.1 1414.41,233.1 1415.03,233.1 1415.65,228.8 1416.26,233.1 1416.88,233.1 1417.50,233.1 1418.11,237.4 1418.73,237.4 1419.35,241.7 1419.96,241.7 1420.58,241.7 1421.20,246.0 1421.81,241.7 1422.43,246.0 1423.05,246.0 1423.66,246.0 1424.28,246.0 1424.90,250.3 1425.52,250.3 1426.13,250.3 1426.75,250.3 1427.37,250.3 1427.98,254.6 1428.60,254.6 1429.22,254.6 1429.83,258.9 1430.45,263.2 1431.07,267.5 1431.68,276.2 1432.30,289.1 1432.92,280.5 1433.53,267.5 1434.15,263.2 1434.77,263.2 1435.38,263.2 1436.00,263.2 1436.62,258.9 1437.23,258.9 1437.85,263.2 1438.47,258.9 1439.08,258.9 1439.70,254.6 1440.32,254.6 1440.94,258.9 1441.55,258.9 1442.17,263.2 1442.79,263.2 1443.40,258.9 1444.02,258.9 1444.64,254.6 1445.25,250.3 1445.87,250.3 1446.49,254.6 1447.10,254.6 1447.72,254.6 1448.34,258.9 1448.95,258.9 1449.57,258.9 1450.19,258.9 1450.80,258.9 1451.42,254.6 1452.04,254.6 1452.65,250.3 1453.27,250.3 1453.89,250.3 1454.51,250.3 1455.12,246.0 1455.74,246.0 1456.36,241.7 1456.97,237.4 1457.59,237.4 1458.21,241.7 1458.82,241.7 1459.44,246.0 1460.06,250.3 1460.67,250.3 1461.29,254.6 1461.91,250.3 1462.52,250.3 1463.14,250.3 1463.76,250.3 1464.37,246.0 1464.99,250.3 1465.61,246.0 1466.22,246.0 1466.84,246.0 1467.46,246.0 1468.08,246.0 1468.69,246.0 1469.31,246.0 1469.93,246.0 1470.54,246.0 1471.16,246.0 1471.78,250.3 1472.39,254.6 1473.01,250.3 1473.63,250.3 1474.24,250.3 1474.86,250.3 1475.48,250.3 1476.09,250.3 1476.71,250.3 1477.33,254.6 1477.94,254.6 1478.56,254.6 1479.18,254.6 1479.79,254.6 1480.41,254.6 1481.03,258.9 1481.65,258.9 1482.26,258.9 1482.88,258.9 1483.50,258.9 1484.11,258.9 1484.73,258.9 1485.35,258.9 1485.96,258.9 1486.58,254.6 1487.20,254.6 1487.81,258.9 1488.43,258.9 1489.05,263.2 1489.66,263.2 1490.28,263.2 1490.90,263.2 1491.51,267.5 1492.13,267.5 1492.75,267.5 1493.36,271.9 1493.98,267.5 1494.60,267.5 1495.22,267.5 1495.83,267.5 1496.45,263.2 1497.07,267.5 1497.68,267.5 1498.30,267.5 1498.92,263.2 1499.53,267.5 1500.15,267.5 1500.77,267.5 1501.38,267.5 1502.00,267.5 1502.62,263.2 1503.23,267.5 1503.85,263.2 1504.47,263.2 1505.08,267.5 1505.70,267.5 1506.32,271.9 1506.93,276.2 1507.55,271.9 1508.17,271.9 1508.78,271.9 1509.40,271.9 1510.02,276.2 1510.64,276.2 1511.25,280.5 1511.87,280.5 1512.49,280.5 1513.10,280.5 1513.72,280.5 1514.34,276.2 1514.95,284.8 1515.57,284.8 1516.19,284.8 1516.80,289.1 1517.42,289.1 1518.04,289.1 1518.65,289.1 1519.27,293.4 1519.89,289.1 1520.50,289.1 1521.12,293.4 1521.74,306.3 1522.35,319.2 1522.97,310.6 1523.59,302.0 1524.21,297.7 1524.82,293.4 1525.44,293.4 1526.06,297.7 1526.67,297.7 1527.29,297.7 1527.91,293.4 1528.52,293.4 1529.14,293.4 1529.76,293.4 1530.37,289.1 1530.99,289.1 1531.61,289.1 1532.22,284.8 1532.84,289.1 1533.46,284.8 1534.07,289.1 1534.69,289.1 1535.31,289.1 1535.92,293.4 1536.54,289.1 1537.16,289.1 1537.78,289.1 1538.39,289.1 1539.01,289.1 1539.63,284.8 1540.24,280.5 1540.86,280.5 1541.48,280.5 1542.09,280.5 1542.71,276.2 1543.33,276.2 1543.94,280.5 1544.56,276.2 1545.18,280.5 1545.79,284.8 1546.41,280.5 1547.03,284.8 1547.64,284.8 1548.26,284.8 1548.88,284.8 1549.49,280.5 1550.11,276.2 1550.73,276.2 1551.35,271.9 1551.96,271.9 1552.58,271.9 1553.20,271.9 1553.81,271.9 1554.43,271.9 1555.05,271.9 1555.66,276.2 1556.28,271.9 1556.90,276.2 1557.51,276.2 1558.13,276.2 1558.75,276.2 1559.36,276.2 1559.98,276.2 1560.60,276.2 1561.21,276.2 1561.83,271.9 1562.45,276.2 1563.06,271.9 1563.68,276.2 1564.30,276.2 1564.92,276.2 1565.53,280.5 1566.15,280.5 1566.77,284.8 1567.38,284.8 1568.00,284.8 1568.62,289.1 1569.23,289.1 1569.85,289.1 1570.47,289.1 1571.08,293.4 1571.70,289.1 1572.32,284.8 1572.93,284.8 1573.55,284.8 1574.17,289.1 1574.78,289.1 1575.40,289.1 1576.02,293.4 1576.63,293.4 1577.25,297.7 1577.87,297.7 1578.48,297.7 1579.10,297.7 1579.72,302.0 1580.34,302.0 1580.95,297.7 1581.57,297.7 1582.19,302.0 1582.80,306.3 1583.42,306.3 1584.04,302.0 1584.65,302.0 1585.27,297.7 1585.89,297.7 1586.50,302.0 1587.12,302.0 1587.74,306.3 1588.35,310.6 1588.97,310.6 1589.59,310.6 1590.20,306.3 1590.82,310.6 1591.44,310.6 1592.05,310.6 1592.67,314.9 1593.29,310.6 1593.91,310.6 1594.52,306.3 1595.14,302.0 1595.76,297.7 1596.37,297.7 1596.99,297.7 1597.61,302.0 1598.22,302.0 1598.84,306.3 1599.46,306.3 1600.07,306.3 1600.69,306.3 1601.31,310.6 1601.92,310.6 1602.54,310.6 1603.16,310.6 1603.77,310.6 1604.39,310.6 1605.01,310.6 1605.62,306.3 1606.24,302.0 1606.86,302.0 1607.48,297.7 1608.09,297.7 1608.71,297.7 1609.33,297.7 1609.94,297.7 1610.56,302.0 1611.18,306.3 1611.79,314.9 1612.41,340.8 1613.03,375.3 1613.64,349.4 1614.26,336.5 1614.88,336.5 1615.49,340.8 1616.11,336.5 1616.73,349.4 1617.34,358.0 1617.96,375.3 1618.58,414.0 1619.19,483.0 1619.81,414.0 1620.43,375.3 1621.05,358.0 1621.66,349.4 1622.28,332.2 1622.90,327.9 1623.51,327.9 1624.13,323.6 1624.75,332.2 1625.36,336.5 1625.98,345.1 1626.60,379.6 1627.21,435.6 1627.83,379.6 1628.45,345.1 1629.06,336.5 1629.68,332.2 1630.30,323.6 1630.91,336.5 1631.53,345.1 1632.15,362.3 1632.76,418.3 1633.38,508.8 1634.00,418.3 1634.62,362.3 1635.23,345.1 1635.85,336.5 1636.47,327.9 1637.08,327.9 1637.70,327.9 1638.32,327.9 1638.93,332.2 1639.55,340.8 1640.17,353.7 1640.78,392.5 1641.40,457.1 1642.02,392.5 1642.63,353.7 1643.25,340.8 1643.87,336.5 1644.48,327.9 1645.10,327.9 1645.72,327.9 1646.33,327.9 1646.95,327.9 1647.57,332.2 1648.18,336.5 1648.80,349.4 1649.42,375.3 1650.04,427.0 1650.65,375.3 1651.27,349.4 1651.89,336.5 1652.50,332.2 1653.12,327.9 1653.74,327.9 1654.35,327.9 1654.97,327.9 1655.59,332.2 1656.20,332.2 1656.82,332.2 1657.44,336.5 1658.05,340.8 1658.67,349.4 1659.29,379.6 1659.90,427.0 1660.52,379.6 1661.14,349.4 1661.75,340.8 1662.37,336.5 1662.99,332.2 1663.61,327.9 1664.22,327.9 1664.84,327.9 1665.46,327.9 1666.07,327.9 1666.69,327.9 1667.31,336.5 1667.92,340.8 1668.54,353.7 1669.16,379.6 1669.77,353.7 1670.39,340.8 1671.01,336.5 1671.62,332.2 1672.24,332.2 1672.86,336.5 1673.47,336.5 1674.09,336.5 1674.71,336.5 1675.32,336.5 1675.94,336.5 1676.56,340.8 1677.18,349.4 1677.79,340.8 1678.41,336.5 1679.03,332.2 1679.64,332.2 1680.26,332.2 1680.88,332.2 1681.49,332.2 1682.11,332.2 1682.73,332.2 1683.34,336.5 1683.96,340.8 1684.58,340.8 1685.19,340.8 1685.81,340.8 1686.43,340.8 1687.04,340.8 1687.66,340.8 1688.28,340.8 1688.89,345.1 1689.51,345.1 1690.13,345.1 1690.75,345.1 1691.36,345.1 1691.98,345.1 1692.60,349.4 1693.21,349.4 1693.83,349.4 1694.45,349.4 1695.06,349.4 1695.68,349.4 1696.30,345.1 1696.91,345.1 1697.53,349.4 1698.15,349.4 1698.76,349.4 1699.38,349.4 1700.00,349.4 1700.61,353.7 1701.23,358.0 1701.85,362.3 1702.46,371.0 1703.08,366.6 1703.70,366.6 1704.32,362.3 1704.93,362.3 1705.55,362.3 1706.17,366.6 1706.78,366.6 1707.40,362.3 1708.02,362.3 1708.63,358.0 1709.25,353.7 1709.87,358.0 1710.48,358.0 1711.10,362.3 1711.72,366.6 1712.33,362.3 1712.95,362.3 1713.57,358.0 1714.18,362.3 1714.80,362.3 1715.42,366.6 1716.03,362.3 1716.65,366.6 1717.27,366.6 1717.88,366.6 1718.50,375.3 1719.12,379.6 1719.74,375.3 1720.35,366.6 1720.97,366.6 1721.59,371.0 1722.20,366.6 1722.82,362.3 1723.44,362.3 1724.05,358.0 1724.67,362.3 1725.29,362.3 1725.90,362.3 1726.52,366.6 1727.14,366.6 1727.75,366.6 1728.37,366.6 1728.99,362.3 1729.60,371.0 1730.22,371.0 1730.84,371.0 1731.45,371.0 1732.07,371.0 1732.69,371.0 1733.31,371.0 1733.92,371.0 1734.54,371.0 1735.16,375.3 1735.77,375.3 1736.39,375.3 1737.01,375.3 1737.62,375.3 1738.24,375.3 1738.86,375.3 1739.47,375.3 1740.09,375.3 1740.71,371.0 1741.32,375.3 1741.94,371.0 1742.56,375.3 1743.17,375.3 1743.79,375.3 1744.41,375.3 1745.02,375.3 1745.64,375.3 1746.26,375.3 1746.88,375.3 1747.49,379.6 1748.11,379.6 1748.73,379.6 1749.34,379.6 1749.96,383.9 1750.58,379.6 1751.19,383.9 1751.81,379.6 1752.43,383.9 1753.04,383.9 1753.66,383.9 1754.28,383.9 1754.89,392.5 1755.51,392.5 1756.13,396.8 1756.74,396.8 1757.36,396.8 1757.98,396.8 1758.59,392.5 1759.21,392.5 1759.83,392.5 1760.45,392.5 1761.06,392.5 1761.68,392.5 1762.30,396.8 1762.91,396.8 1763.53,396.8 1764.15,396.8 1764.76,401.1 1765.38,396.8 1766.00,401.1 1766.61,401.1 1767.23,401.1 1767.85,401.1 1768.46,401.1 1769.08,409.7 1769.70,409.7 1770.31,409.7 1770.93,414.0 1771.55,414.0 1772.16,409.7 1772.78,409.7 1773.40,409.7 1774.02,409.7 1774.63,409.7 1775.25,409.7 1775.87,409.7 1776.48,414.0 1777.10,418.3 1777.72,418.3 1778.33,418.3 1778.95,422.7 1779.57,427.0 1780.18,427.0 1780.80,427.0 1781.42,427.0 1782.03,422.7 1782.65,418.3 1783.27,414.0 1783.88,418.3 1784.50,418.3 1785.12,418.3 1785.73,422.7 1786.35,422.7 1786.97,422.7 1787.58,427.0 1788.20,427.0 1788.82,427.0 1789.44,431.3 1790.05,431.3 1790.67,427.0 1791.29,431.3 1791.90,431.3 1792.52,431.3 1793.14,431.3 1793.75,431.3 1794.37,431.3 1794.99,435.6 1795.60,435.6 1796.22,435.6 1796.84,431.3 1797.45,435.6 1798.07,439.9 1798.69,444.2 1799.30,452.8 1799.92,465.7 1800.54,457.1 1801.15,448.5 1801.77,444.2 1802.39,439.9 1803.01,444.2 1803.62,439.9 1804.24,444.2 1804.86,439.9 1805.47,439.9 1806.09,439.9 1806.71,439.9 1807.32,439.9 1807.94,439.9 1808.56,444.2 1809.17,444.2 1809.79,444.2 1810.41,444.2 1811.02,448.5 1811.64,448.5 1812.26,448.5 1812.87,448.5 1813.49,448.5 1814.11,452.8 1814.72,452.8 1815.34,452.8 1815.96,452.8 1816.58,452.8 1817.19,452.8 1817.81,448.5 1818.43,452.8 1819.04,452.8 1819.66,457.1 1820.28,457.1 1820.89,461.4 1821.51,461.4 1822.13,461.4 1822.74,461.4 1823.36,457.1 1823.98,461.4 1824.59,457.1 1825.21,457.1 1825.83,461.4 1826.44,461.4 1827.06,461.4 1827.68,465.7 1828.29,465.7 1828.91,470.0 1829.53,470.0 1830.15,470.0 1830.76,470.0 1831.38,465.7 1832.00,465.7 1832.61,461.4 1833.23,461.4 1833.85,465.7 1834.46,470.0 1835.08,474.4 1835.70,470.0 1836.31,474.4 1836.93,474.4 1837.55,474.4 1838.16,470.0 1838.78,470.0 1839.40,470.0 1840.01,470.0 1840.63,470.0 1841.25,470.0 1841.86,474.4 1842.48,474.4 1843.10,478.7 1843.72,478.7 1844.33,483.0 1844.95,483.0 1845.57,483.0 1846.18,483.0 1846.80,483.0 1847.42,478.7 1848.03,483.0 1848.65,483.0 1849.27,483.0 1849.88,483.0 1850.50,478.7 1851.12,478.7 1851.73,478.7 1852.35,474.4 1852.97,483.0 1853.58,483.0 1854.20,487.3 1854.82,487.3 1855.43,491.6 1856.05,491.6 1856.67,491.6 1857.28,495.9 1857.90,495.9 1858.52,491.6 1859.14,491.6 1859.75,491.6 1860.37,495.9 1860.99,495.9 1861.60,500.2 1862.22,500.2 1862.84,500.2 1863.45,504.5 1864.07,504.5 1864.69,504.5 1865.30,504.5 1865.92,504.5 1866.54,508.8 1867.15,504.5 1867.77,504.5 1868.39,504.5 1869.00,504.5 1869.62,504.5 1870.24,508.8 1870.85,513.1 1871.47,513.1 1872.09,521.8 1872.71,521.8 1873.32,517.4 1873.94,517.4 1874.56,513.1 1875.17,513.1 1875.79,508.8 1876.41,508.8 1877.02,508.8 1877.64,504.5 1878.26,504.5 1878.87,500.2 1879.49,500.2 1880.11,504.5 1880.72,504.5 1881.34,508.8 1881.96,508.8 1882.57,513.1 1883.19,517.4 1883.81,517.4 1884.42,521.8 1885.04,526.1 1885.66,526.1 1886.28,530.4 1886.89,530.4 1887.51,530.4 1888.13,526.1 1888.74,521.8 1889.36,521.8 1889.98,517.4 1890.59,526.1 1891.21,526.1 1891.83,526.1 1892.44,530.4 1893.06,539.0 1893.68,551.9 1894.29,582.1 1894.91,607.9 1895.53,582.1 1896.14,556.2 1896.76,547.6 1897.38,543.3 1897.99,543.3 1898.61,543.3 1899.23,539.0 1899.85,539.0 1900.46,534.7 1901.08,539.0 1901.70,534.7 1902.31,534.7 1902.93,534.7 1903.55,534.7 1904.16,539.0 1904.78,539.0 1905.40,539.0 1906.01,539.0 1906.63,539.0 1907.25,539.0 1907.86,539.0 1908.48,539.0 1909.10,543.3 1909.71,547.6 1910.33,547.6 1910.95,547.6 1911.56,551.9 1912.18,551.9 1912.80,551.9 1913.42,547.6 1914.03,551.9 1914.65,551.9 1915.27,556.2 1915.88,556.2 1916.50,560.5 1917.12,564.8 1917.73,564.8 1918.35,564.8 1918.97,564.8 1919.58,569.1 1920.20,569.1 1920.82,569.1 1921.43,569.1 1922.05,569.1 1922.67,569.1 1923.28,569.1 1923.90,569.1 1924.52,573.5 1925.13,577.8 1925.75,577.8 1926.37,582.1 1926.98,582.1 1927.60,582.1 1928.22,577.8 1928.84,582.1 1929.45,582.1 1930.07,586.4 1930.69,586.4 1931.30,586.4 1931.92,586.4 1932.54,586.4 1933.15,586.4 1933.77,586.4 1934.39,586.4 1935.00,586.4 1935.62,586.4 1936.24,586.4 1936.85,586.4 1937.47,595.0 1938.09,595.0 1938.70,599.3 1939.32,599.3 1939.94,599.3 1940.55,603.6 1941.17,603.6 1941.79,603.6 1942.41,599.3 1943.02,599.3 1943.64,595.0 1944.26,599.3 1944.87,599.3 1945.49,599.3 1946.11,603.6 1946.72,603.6 1947.34,607.9 1947.96,607.9 1948.57,607.9 1949.19,607.9 1949.81,607.9 1950.42,607.9 1951.04,607.9 1951.66,607.9 1952.27,612.2 1952.89,612.2 1953.51,616.5 1954.12,616.5 1954.74,620.8 1955.36,616.5 1955.98,620.8 1956.59,620.8 1957.21,620.8 1957.83,616.5 1958.44,616.5 1959.06,616.5 1959.68,616.5 1960.29,616.5 1960.91,616.5 1961.53,616.5 1962.14,616.5 1962.76,616.5 1963.38,620.8 1963.99,620.8 1964.61,620.8 1965.23,625.2 1965.84,625.2 1966.46,625.2 1967.08,629.5 1967.69,629.5 1968.31,633.8 1968.93,633.8 1969.55,638.1 1970.16,638.1 1970.78,642.4 1971.40,638.1 1972.01,642.4 1972.63,638.1 1973.25,638.1 1973.86,638.1 1974.48,638.1 1975.10,638.1 1975.71,642.4 1976.33,638.1 1976.95,642.4 1977.56,642.4 1978.18,642.4 1978.80,646.7 1979.41,646.7 1980.03,646.7 1980.65,646.7 1981.26,651.0 1981.88,651.0 1982.50,651.0 1983.12,651.0 1983.73,655.3 1984.35,659.6 1984.97,659.6 1985.58,659.6 1986.20,659.6 1986.82,659.6 1987.43,659.6 1988.05,663.9 1988.67,668.2 1989.28,672.6 1989.90,681.2 1990.52,698.4 1991.13,732.9 1991.75,771.6 1992.37,737.2 1992.98,702.7 1993.60,689.8 1994.22,685.5 1994.83,676.9 1995.45,676.9 1996.07,676.9 1996.68,676.9 1997.30,676.9 1997.92,676.9 1998.54,672.6 1999.15,672.6 1999.77,668.2 2000.39,668.2 2001.00,672.6 2001.62,672.6 2002.24,672.6 2002.85,676.9 2003.47,676.9 2004.09,676.9 2004.70,676.9 2005.32,681.2 2005.94,676.9 2006.55,676.9 2007.17,676.9 2007.79,672.6 2008.40,676.9 2009.02,685.5 2009.64,685.5 2010.25,689.8 2010.87,689.8 2011.49,689.8 2012.11,689.8 2012.72,689.8 2013.34,694.1 2013.96,694.1 2014.57,698.4 2015.19,698.4 2015.81,698.4 2016.42,698.4 2017.04,698.4 2017.66,694.1 2018.27,694.1 2018.89,694.1 2019.51,698.4 2020.12,698.4 2020.74,698.4 2021.36,702.7 2021.97,707.0 2022.59,711.3 2023.21,711.3 2023.82,711.3 2024.44,711.3 2025.06,711.3 2025.68,715.6 2026.29,715.6 2026.91,715.6 2027.53,715.6 2028.14,715.6 2028.76,715.6 2029.38,715.6 2029.99,715.6 2030.61,715.6 2031.23,715.6 2031.84,715.6 2032.46,711.3 2033.08,719.9 2033.69,724.3 2034.31,728.6 2034.93,732.9 2035.54,732.9 2036.16,737.2 2036.78,737.2 2037.39,732.9 2038.01,732.9 2038.63,732.9 2039.25,737.2 2039.86,732.9 2040.48,732.9 2041.10,732.9 2041.71,732.9 2042.33,732.9 2042.95,732.9 2043.56,737.2 2044.18,741.5 2044.80,745.8 2045.41,745.8 2046.03,750.1 2046.65,750.1 2047.26,750.1 2047.88,754.4 2048.50,754.4 2049.11,758.7 2049.73,754.4 2050.35,758.7 2050.96,754.4 2051.58,758.7 2052.20,758.7 2052.82,763.0 2053.43,763.0 2054.05,767.3 2054.67,767.3 2055.28,767.3 2055.90,771.6 2056.52,771.6 2057.13,776.0 2057.75,771.6 2058.37,771.6 2058.98,771.6 2059.60,767.3 2060.22,771.6 2060.83,776.0 2061.45,776.0 2062.07,776.0 2062.68,780.3 2063.30,776.0 2063.92,776.0 2064.53,776.0 2065.15,780.3 2065.77,784.6 2066.38,784.6 2067.00,788.9 2067.62,788.9 2068.24,788.9 2068.85,784.6 2069.47,788.9"/>
<polyline stroke="#008000" stroke-width="3.2" stroke-dasharray="4.5 8" points="219.03,793.2 219.64,793.2 220.26,793.2 220.88,793.2 221.49,793.2 222.11,793.2 222.73,793.2 223.34,797.5 223.96,793.2 224.58,797.5 225.19,797.5 225.81,793.2 226.43,793.2 227.05,793.2 227.66,788.9 228.28,788.9 228.90,788.9 229.51,788.9 230.13,788.9 230.75,788.9 231.36,788.9 231.98,788.9 232.60,788.9 233.21,793.2 233.83,784.6 234.45,788.9 235.06,784.6 235.68,784.6 236.30,780.3 236.91,780.3 237.53,776.0 238.15,776.0 238.76,776.0 239.38,776.0 240.00,780.3 240.62,776.0 241.23,780.3 241.85,780.3 242.47,780.3 243.08,780.3 243.70,780.3 244.32,780.3 244.93,776.0 245.55,776.0 246.17,776.0 246.78,776.0 247.40,776.0 248.02,767.3 248.63,771.6 249.25,767.3 249.87,763.0 250.48,763.0 251.10,763.0 251.72,758.7 252.33,754.4 252.95,754.4 253.57,754.4 254.18,754.4 254.80,754.4 255.42,754.4 256.04,758.7 256.65,754.4 257.27,750.1 257.89,750.1 258.50,750.1 259.12,745.8 259.74,754.4 260.35,754.4 260.97,754.4 261.59,754.4 262.20,754.4 262.82,754.4 263.44,754.4 264.05,750.1 264.67,750.1 265.29,745.8 265.90,745.8 266.52,750.1 267.14,745.8 267.75,750.1 268.37,750.1 268.99,754.4 269.61,750.1 270.22,745.8 270.84,745.8 271.46,745.8 272.07,741.5 272.69,741.5 273.31,737.2 273.92,732.9 274.54,737.2 275.16,732.9 275.77,732.9 276.39,732.9 277.01,732.9 277.62,728.6 278.24,732.9 278.86,732.9 279.47,732.9 280.09,724.3 280.71,728.6 281.32,728.6 281.94,732.9 282.56,728.6 283.18,732.9 283.79,728.6 284.41,728.6 285.03,724.3 285.64,728.6 286.26,724.3 286.88,724.3 287.49,724.3 288.11,728.6 288.73,728.6 289.34,728.6 289.96,732.9 290.58,728.6 291.19,728.6 291.81,728.6 292.43,724.3 293.04,724.3 293.66,724.3 294.28,724.3 294.89,724.3 295.51,724.3 296.13,728.6 296.75,724.3 297.36,719.9 297.98,719.9 298.60,715.6 299.21,715.6 299.83,715.6 300.45,715.6 301.06,715.6 301.68,715.6 302.30,715.6 302.91,711.3 303.53,711.3 304.15,711.3 304.76,711.3 305.38,711.3 306.00,707.0 306.61,711.3 307.23,711.3 307.85,711.3 308.46,711.3 309.08,715.6 309.70,711.3 310.32,711.3 310.93,707.0 311.55,707.0 312.17,707.0 312.78,707.0 313.40,707.0 314.02,702.7 314.63,702.7 315.25,698.4 315.87,698.4 316.48,694.1 317.10,694.1 317.72,694.1 318.33,689.8 318.95,694.1 319.57,689.8 320.18,689.8 320.80,689.8 321.42,689.8 322.03,689.8 322.65,685.5 323.27,681.2 323.88,681.2 324.50,681.2 325.12,685.5 325.74,685.5 326.35,685.5 326.97,685.5 327.59,685.5 328.20,681.2 328.82,676.9 329.44,681.2 330.05,676.9 330.67,676.9 331.29,681.2 331.90,681.2 332.52,681.2 333.14,681.2 333.75,681.2 334.37,685.5 334.99,685.5 335.60,681.2 336.22,681.2 336.84,681.2 337.45,676.9 338.07,676.9 338.69,676.9 339.31,676.9 339.92,676.9 340.54,676.9 341.16,676.9 341.77,676.9 342.39,676.9 343.01,676.9 343.62,676.9 344.24,672.6 344.86,672.6 345.47,676.9 346.09,676.9 346.71,672.6 347.32,676.9 347.94,672.6 348.56,676.9 349.17,672.6 349.79,672.6 350.41,672.6 351.02,668.2 351.64,672.6 352.26,672.6 352.88,672.6 353.49,676.9 354.11,676.9 354.73,676.9 355.34,672.6 355.96,672.6 356.58,668.2 357.19,668.2 357.81,663.9 358.43,668.2 359.04,663.9 359.66,663.9 360.28,668.2 360.89,663.9 361.51,663.9 362.13,659.6 362.74,663.9 363.36,663.9 363.98,663.9 364.59,663.9 365.21,663.9 365.83,659.6 366.45,663.9 367.06,663.9 367.68,663.9 368.30,659.6 368.91,663.9 369.53,668.2 370.15,663.9 370.76,659.6 371.38,659.6 372.00,659.6 372.61,663.9 373.23,659.6 373.85,659.6 374.46,655.3 375.08,655.3 375.70,655.3 376.31,655.3 376.93,655.3 377.55,655.3 378.16,655.3 378.78,655.3 379.40,659.6 380.02,655.3 380.63,655.3 381.25,655.3 381.87,655.3 382.48,646.7 383.10,651.0 383.72,646.7 384.33,646.7 384.95,646.7 385.57,642.4 386.18,642.4 386.80,646.7 387.42,646.7 388.03,651.0 388.65,651.0 389.27,646.7 389.88,651.0 390.50,646.7 391.12,646.7 391.73,642.4 392.35,642.4 392.97,642.4 393.58,642.4 394.20,642.4 394.82,642.4 395.44,642.4 396.05,646.7 396.67,638.1 397.29,638.1 397.90,638.1 398.52,638.1 399.14,638.1 399.75,638.1 400.37,642.4 400.99,642.4 401.60,642.4 402.22,642.4 402.84,638.1 403.45,638.1 404.07,638.1 404.69,638.1 405.30,638.1 405.92,638.1 406.54,642.4 407.15,638.1 407.77,638.1 408.39,638.1 409.01,642.4 409.62,642.4 410.24,638.1 410.86,638.1 411.47,633.8 412.09,629.5 412.71,633.8 413.32,625.2 413.94,629.5 414.56,625.2 415.17,625.2 415.79,633.8 416.41,629.5 417.02,629.5 417.64,633.8 418.26,629.5 418.87,633.8 419.49,629.5 420.11,633.8 420.72,629.5 421.34,625.2 421.96,625.2 422.58,625.2 423.19,625.2 423.81,625.2 424.43,629.5 425.04,625.2 425.66,629.5 426.28,629.5 426.89,629.5 427.51,625.2 428.13,625.2 428.74,620.8 429.36,625.2 429.98,625.2 430.59,620.8 431.21,620.8 431.83,620.8 432.44,620.8 433.06,620.8 433.68,620.8 434.29,616.5 434.91,616.5 435.53,616.5 436.15,616.5 436.76,620.8 437.38,620.8 438.00,620.8 438.61,620.8 439.23,616.5 439.85,620.8 440.46,616.5 441.08,616.5 441.70,612.2 442.31,616.5 442.93,612.2 443.55,612.2 444.16,612.2 444.78,612.2 445.40,612.2 446.01,607.9 446.63,607.9 447.25,607.9 447.86,612.2 448.48,607.9 449.10,607.9 449.72,603.6 450.33,603.6 450.95,603.6 451.57,603.6 452.18,607.9 452.80,603.6 453.42,607.9 454.03,603.6 454.65,603.6 455.27,599.3 455.88,603.6 456.50,599.3 457.12,603.6 457.73,603.6 458.35,599.3 458.97,603.6 459.58,603.6 460.20,603.6 460.82,603.6 461.43,603.6 462.05,595.0 462.67,603.6 463.28,599.3 463.90,599.3 464.52,599.3 465.14,603.6 465.75,599.3 466.37,595.0 466.99,595.0 467.60,599.3 468.22,603.6 468.84,607.9 469.45,616.5 470.07,607.9 470.69,599.3 471.30,599.3 471.92,595.0 472.54,590.7 473.15,595.0 473.77,590.7 474.39,590.7 475.00,590.7 475.62,586.4 476.24,590.7 476.85,590.7 477.47,590.7 478.09,586.4 478.71,586.4 479.32,586.4 479.94,582.1 480.56,582.1 481.17,582.1 481.79,582.1 482.41,577.8 483.02,582.1 483.64,582.1 484.26,582.1 484.87,582.1 485.49,582.1 486.11,582.1 486.72,582.1 487.34,582.1 487.96,577.8 488.57,577.8 489.19,573.5 489.81,569.1 490.42,569.1 491.04,569.1 491.66,573.5 492.28,569.1 492.89,573.5 493.51,569.1 494.13,569.1 494.74,569.1 495.36,569.1 495.98,573.5 496.59,573.5 497.21,569.1 497.83,573.5 498.44,569.1 499.06,569.1 499.68,573.5 500.29,569.1 500.91,569.1 501.53,569.1 502.14,569.1 502.76,569.1 503.38,569.1 503.99,569.1 504.61,569.1 505.23,569.1 505.85,569.1 506.46,569.1 507.08,564.8 507.70,564.8 508.31,569.1 508.93,564.8 509.55,564.8 510.16,560.5 510.78,564.8 511.40,564.8 512.01,560.5 512.63,564.8 513.25,560.5 513.86,564.8 514.48,564.8 515.10,560.5 515.71,564.8 516.33,564.8 516.95,560.5 517.56,560.5 518.18,560.5 518.80,560.5 519.42,560.5 520.03,556.2 520.65,556.2 521.27,556.2 521.88,556.2 522.50,556.2 523.12,556.2 523.73,556.2 524.35,551.9 524.97,551.9 525.58,551.9 526.20,551.9 526.82,551.9 527.43,547.6 528.05,551.9 528.67,551.9 529.28,547.6 529.90,547.6 530.52,543.3 531.13,547.6 531.75,547.6 532.37,547.6 532.98,543.3 533.60,543.3 534.22,543.3 534.84,547.6 535.45,543.3 536.07,547.6 536.69,551.9 537.30,547.6 537.92,543.3 538.54,547.6 539.15,547.6 539.77,543.3 540.39,547.6 541.00,547.6 541.62,547.6 542.24,556.2 542.85,573.5 543.47,590.7 544.09,569.1 544.70,551.9 545.32,543.3 545.94,539.0 546.55,539.0 547.17,534.7 547.79,530.4 548.41,534.7 549.02,530.4 549.64,530.4 550.26,530.4 550.87,530.4 551.49,534.7 552.11,530.4 552.72,534.7 553.34,530.4 553.96,526.1 554.57,526.1 555.19,526.1 555.81,530.4 556.42,530.4 557.04,526.1 557.66,521.8 558.27,526.1 558.89,521.8 559.51,521.8 560.12,526.1 560.74,526.1 561.36,521.8 561.98,521.8 562.59,526.1 563.21,521.8 563.83,526.1 564.44,526.1 565.06,521.8 565.68,526.1 566.29,526.1 566.91,521.8 567.53,521.8 568.14,521.8 568.76,526.1 569.38,526.1 569.99,526.1 570.61,530.4 571.23,530.4 571.84,530.4 572.46,534.7 573.08,526.1 573.69,530.4 574.31,526.1 574.93,526.1 575.55,526.1 576.16,526.1 576.78,521.8 577.40,521.8 578.01,526.1 578.63,521.8 579.25,521.8 579.86,521.8 580.48,521.8 581.10,517.4 581.71,517.4 582.33,513.1 582.95,517.4 583.56,517.4 584.18,517.4 584.80,517.4 585.41,513.1 586.03,517.4 586.65,513.1 587.26,513.1 587.88,513.1 588.50,513.1 589.12,513.1 589.73,513.1 590.35,508.8 590.97,513.1 591.58,513.1 592.20,513.1 592.82,508.8 593.43,508.8 594.05,504.5 594.67,500.2 595.28,500.2 595.90,500.2 596.52,495.9 597.13,495.9 597.75,491.6 598.37,491.6 598.98,495.9 599.60,491.6 600.22,491.6 600.83,487.3 601.45,491.6 602.07,491.6 602.68,491.6 603.30,491.6 603.92,487.3 604.54,483.0 605.15,487.3 605.77,483.0 606.39,483.0 607.00,483.0 607.62,483.0 608.24,478.7 608.85,483.0 609.47,483.0 610.09,487.3 610.70,491.6 611.32,491.6 611.94,491.6 612.55,491.6 613.17,491.6 613.79,500.2 614.40,495.9 615.02,495.9 615.64,500.2 616.25,495.9 616.87,500.2 617.49,500.2 618.11,504.5 618.72,508.8 619.34,521.8 619.96,534.7 620.57,521.8 621.19,504.5 621.81,500.2 622.42,495.9 623.04,487.3 623.66,487.3 624.27,491.6 624.89,487.3 625.51,483.0 626.12,487.3 626.74,478.7 627.36,478.7 627.97,478.7 628.59,478.7 629.21,478.7 629.82,478.7 630.44,474.4 631.06,474.4 631.68,474.4 632.29,478.7 632.91,478.7 633.53,474.4 634.14,474.4 634.76,478.7 635.38,478.7 635.99,478.7 636.61,478.7 637.23,478.7 637.84,478.7 638.46,478.7 639.08,478.7 639.69,478.7 640.31,478.7 640.93,478.7 641.54,474.4 642.16,474.4 642.78,474.4 643.39,474.4 644.01,470.0 644.63,470.0 645.25,470.0 645.86,470.0 646.48,474.4 647.10,474.4 647.71,470.0 648.33,474.4 648.95,470.0 649.56,470.0 650.18,474.4 650.80,465.7 651.41,470.0 652.03,470.0 652.65,470.0 653.26,465.7 653.88,470.0 654.50,465.7 655.11,470.0 655.73,465.7 656.35,465.7 656.96,465.7 657.58,461.4 658.20,465.7 658.82,465.7 659.43,465.7 660.05,465.7 660.67,465.7 661.28,470.0 661.90,465.7 662.52,465.7 663.13,470.0 663.75,470.0 664.37,470.0 664.98,470.0 665.60,470.0 666.22,470.0 666.83,474.4 667.45,470.0 668.07,465.7 668.68,470.0 669.30,465.7 669.92,465.7 670.53,461.4 671.15,461.4 671.77,457.1 672.38,457.1 673.00,457.1 673.62,461.4 674.24,457.1 674.85,457.1 675.47,457.1 676.09,457.1 676.70,457.1 677.32,457.1 677.94,461.4 678.55,457.1 679.17,461.4 679.79,457.1 680.40,452.8 681.02,452.8 681.64,452.8 682.25,448.5 682.87,448.5 683.49,444.2 684.10,448.5 684.72,448.5 685.34,439.9 685.95,448.5 686.57,444.2 687.19,444.2 687.81,444.2 688.42,444.2 689.04,444.2 689.66,444.2 690.27,444.2 690.89,448.5 691.51,452.8 692.12,457.1 692.74,461.4 693.36,470.0 693.97,495.9 694.59,551.9 695.21,612.2 695.82,547.6 696.44,491.6 697.06,470.0 697.67,457.1 698.29,452.8 698.91,448.5 699.52,444.2 700.14,439.9 700.76,439.9 701.38,435.6 701.99,435.6 702.61,435.6 703.23,431.3 703.84,431.3 704.46,431.3 705.08,431.3 705.69,431.3 706.31,431.3 706.93,431.3 707.54,427.0 708.16,427.0 708.78,427.0 709.39,427.0 710.01,427.0 710.63,427.0 711.24,422.7 711.86,418.3 712.48,418.3 713.09,418.3 713.71,422.7 714.33,418.3 714.95,422.7 715.56,427.0 716.18,427.0 716.80,422.7 717.41,427.0 718.03,422.7 718.65,422.7 719.26,422.7 719.88,422.7 720.50,422.7 721.11,422.7 721.73,422.7 722.35,418.3 722.96,418.3 723.58,427.0 724.20,418.3 724.81,418.3 725.43,418.3 726.05,418.3 726.66,418.3 727.28,414.0 727.90,418.3 728.52,414.0 729.13,414.0 729.75,418.3 730.37,418.3 730.98,422.7 731.60,418.3 732.22,418.3 732.83,414.0 733.45,409.7 734.07,409.7 734.68,409.7 735.30,409.7 735.92,414.0 736.53,409.7 737.15,409.7 737.77,409.7 738.38,409.7 739.00,409.7 739.62,409.7 740.23,409.7 740.85,409.7 741.47,405.4 742.08,409.7 742.70,409.7 743.32,405.4 743.94,405.4 744.55,405.4 745.17,405.4 745.79,405.4 746.40,405.4 747.02,405.4 747.64,405.4 748.25,405.4 748.87,401.1 749.49,405.4 750.10,405.4 750.72,405.4 751.34,405.4 751.95,401.1 752.57,401.1 753.19,405.4 753.80,401.1 754.42,401.1 755.04,401.1 755.65,401.1 756.27,396.8 756.89,396.8 757.51,396.8 758.12,396.8 758.74,392.5 759.36,396.8 759.97,401.1 760.59,401.1 761.21,401.1 761.82,401.1 762.44,405.4 763.06,409.7 763.67,418.3 764.29,439.9 764.91,491.6 765.52,551.9 766.14,491.6 766.76,439.9 767.37,418.3 767.99,405.4 768.61,401.1 769.22,396.8 769.84,392.5 770.46,392.5 771.08,388.2 771.69,383.9 772.31,388.2 772.93,388.2 773.54,388.2 774.16,392.5 774.78,392.5 775.39,388.2 776.01,388.2 776.63,383.9 777.24,383.9 777.86,388.2 778.48,388.2 779.09,379.6 779.71,383.9 780.33,383.9 780.94,383.9 781.56,383.9 782.18,383.9 782.79,383.9 783.41,383.9 784.03,379.6 784.65,379.6 785.26,383.9 785.88,379.6 786.50,379.6 787.11,379.6 787.73,379.6 788.35,379.6 788.96,379.6 789.58,383.9 790.20,379.6 790.81,375.3 791.43,375.3 792.05,375.3 792.66,371.0 793.28,375.3 793.90,371.0 794.51,371.0 795.13,371.0 795.75,375.3 796.36,371.0 796.98,371.0 797.60,371.0 798.22,371.0 798.83,371.0 799.45,371.0 800.07,371.0 800.68,371.0 801.30,371.0 801.92,371.0 802.53,371.0 803.15,366.6 803.77,371.0 804.38,371.0 805.00,366.6 805.62,366.6 806.23,366.6 806.85,366.6 807.47,366.6 808.08,366.6 808.70,362.3 809.32,358.0 809.93,362.3 810.55,362.3 811.17,362.3 811.78,362.3 812.40,362.3 813.02,362.3 813.64,362.3 814.25,362.3 814.87,362.3 815.49,362.3 816.10,358.0 816.72,358.0 817.34,358.0 817.95,358.0 818.57,353.7 819.19,358.0 819.80,358.0 820.42,358.0 821.04,358.0 821.65,353.7 822.27,353.7 822.89,353.7 823.50,353.7 824.12,353.7 824.74,353.7 825.35,358.0 825.97,358.0 826.59,358.0 827.21,358.0 827.82,353.7 828.44,353.7 829.06,349.4 829.67,349.4 830.29,349.4 830.91,345.1 831.52,349.4 832.14,349.4 832.76,345.1 833.37,349.4 833.99,349.4 834.61,349.4 835.22,345.1 835.84,349.4 836.46,349.4 837.07,345.1 837.69,349.4 838.31,340.8 838.92,340.8 839.54,345.1 840.16,345.1 840.78,345.1 841.39,349.4 842.01,349.4 842.63,349.4 843.24,353.7 843.86,362.3 844.48,375.3 845.09,401.1 845.71,470.0 846.33,543.3 846.94,470.0 847.56,401.1 848.18,371.0 848.79,358.0 849.41,349.4 850.03,345.1 850.64,345.1 851.26,340.8 851.88,340.8 852.49,340.8 853.11,340.8 853.73,340.8 854.35,340.8 854.96,340.8 855.58,336.5 856.20,332.2 856.81,327.9 857.43,327.9 858.05,323.6 858.66,327.9 859.28,327.9 859.90,323.6 860.51,323.6 861.13,327.9 861.75,323.6 862.36,323.6 862.98,323.6 863.60,319.2 864.21,323.6 864.83,323.6 865.45,323.6 866.06,323.6 866.68,323.6 867.30,319.2 867.92,319.2 868.53,319.2 869.15,323.6 869.77,319.2 870.38,319.2 871.00,319.2 871.62,314.9 872.23,310.6 872.85,310.6 873.47,310.6 874.08,306.3 874.70,310.6 875.32,310.6 875.93,310.6 876.55,306.3 877.17,310.6 877.78,306.3 878.40,306.3 879.02,306.3 879.63,302.0 880.25,302.0 880.87,306.3 881.48,302.0 882.10,302.0 882.72,302.0 883.34,302.0 883.95,302.0 884.57,306.3 885.19,302.0 885.80,302.0 886.42,302.0 887.04,302.0 887.65,302.0 888.27,302.0 888.89,297.7 889.50,297.7 890.12,297.7 890.74,297.7 891.35,297.7 891.97,297.7 892.59,302.0 893.20,302.0 893.82,297.7 894.44,302.0 895.05,302.0 895.67,302.0 896.29,302.0 896.91,297.7 897.52,302.0 898.14,302.0 898.76,297.7 899.37,297.7 899.99,297.7 900.61,297.7 901.22,302.0 901.84,297.7 902.46,297.7 903.07,302.0 903.69,306.3 904.31,306.3 904.92,306.3 905.54,306.3 906.16,306.3 906.77,306.3 907.39,302.0 908.01,302.0 908.62,302.0 909.24,302.0 909.86,297.7 910.48,297.7 911.09,297.7 911.71,297.7 912.33,297.7 912.94,297.7 913.56,297.7 914.18,297.7 914.79,297.7 915.41,293.4 916.03,293.4 916.64,297.7 917.26,297.7 917.88,302.0 918.49,302.0 919.11,302.0 919.73,310.6 920.34,314.9 920.96,319.2 921.58,319.2 922.19,327.9 922.81,336.5 923.43,353.7 924.05,401.1 924.66,517.4 925.28,642.4 925.90,513.1 926.51,396.8 927.13,349.4 927.75,323.6 928.36,310.6 928.98,306.3 929.60,302.0 930.21,293.4 930.83,289.1 931.45,280.5 932.06,280.5 932.68,276.2 933.30,271.9 933.91,267.5 934.53,267.5 935.15,263.2 935.76,267.5 936.38,258.9 937.00,263.2 937.62,258.9 938.23,258.9 938.85,258.9 939.47,254.6 940.08,254.6 940.70,258.9 941.32,258.9 941.93,254.6 942.55,254.6 943.17,254.6 943.78,250.3 944.40,254.6 945.02,254.6 945.63,258.9 946.25,254.6 946.87,258.9 947.48,258.9 948.10,258.9 948.72,258.9 949.33,258.9 949.95,258.9 950.57,258.9 951.18,254.6 951.80,258.9 952.42,258.9 953.04,258.9 953.65,258.9 954.27,258.9 954.89,254.6 955.50,254.6 956.12,254.6 956.74,254.6 957.35,254.6 957.97,258.9 958.59,258.9 959.20,258.9 959.82,258.9 960.44,263.2 961.05,258.9 961.67,258.9 962.29,258.9 962.90,258.9 963.52,258.9 964.14,263.2 964.75,258.9 965.37,258.9 965.99,258.9 966.61,263.2 967.22,263.2 967.84,267.5 968.46,263.2 969.07,267.5 969.69,267.5 970.31,267.5 970.92,271.9 971.54,267.5 972.16,267.5 972.77,267.5 973.39,267.5 974.01,271.9 974.62,271.9 975.24,271.9 975.86,267.5 976.47,267.5 977.09,263.2 977.71,271.9 978.32,267.5 978.94,267.5 979.56,267.5 980.18,267.5 980.79,267.5 981.41,263.2 982.03,263.2 982.64,258.9 983.26,258.9 983.88,258.9 984.49,258.9 985.11,258.9 985.73,258.9 986.34,258.9 986.96,258.9 987.58,254.6 988.19,254.6 988.81,254.6 989.43,254.6 990.04,254.6 990.66,250.3 991.28,254.6 991.89,254.6 992.51,250.3 993.13,250.3 993.75,250.3 994.36,254.6 994.98,254.6 995.60,254.6 996.21,254.6 996.83,254.6 997.45,254.6 998.06,250.3 998.68,254.6 999.30,250.3 999.91,250.3 1000.53,263.2 1001.15,263.2 1001.76,267.5 1002.38,276.2 1003.00,284.8 1003.61,302.0 1004.23,336.5 1004.85,405.4 1005.46,577.8 1006.08,767.3 1006.70,577.8 1007.32,409.7 1007.93,336.5 1008.55,306.3 1009.17,289.1 1009.78,284.8 1010.40,276.2 1011.02,271.9 1011.63,267.5 1012.25,254.6 1012.87,254.6 1013.48,250.3 1014.10,246.0 1014.72,250.3 1015.33,246.0 1015.95,246.0 1016.57,246.0 1017.18,246.0 1017.80,250.3 1018.42,241.7 1019.03,246.0 1019.65,246.0 1020.27,246.0 1020.88,246.0 1021.50,246.0 1022.12,246.0 1022.74,246.0 1023.35,246.0 1023.97,241.7 1024.59,246.0 1025.20,246.0 1025.82,246.0 1026.44,246.0 1027.05,246.0 1027.67,246.0 1028.29,241.7 1028.90,241.7 1029.52,241.7 1030.14,237.4 1030.75,241.7 1031.37,241.7 1031.99,241.7 1032.60,241.7 1033.22,241.7 1033.84,241.7 1034.45,246.0 1035.07,246.0 1035.69,246.0 1036.31,250.3 1036.92,250.3 1037.54,254.6 1038.16,250.3 1038.77,254.6 1039.39,254.6 1040.01,254.6 1040.62,254.6 1041.24,250.3 1041.86,250.3 1042.47,250.3 1043.09,250.3 1043.71,250.3 1044.32,250.3 1044.94,250.3 1045.56,250.3 1046.17,250.3 1046.79,250.3 1047.41,250.3 1048.02,246.0 1048.64,246.0 1049.26,246.0 1049.88,250.3 1050.49,250.3 1051.11,254.6 1051.73,250.3 1052.34,250.3 1052.96,258.9 1053.58,258.9 1054.19,258.9 1054.81,258.9 1055.43,258.9 1056.04,258.9 1056.66,258.9 1057.28,258.9 1057.89,258.9 1058.51,254.6 1059.13,254.6 1059.74,254.6 1060.36,254.6 1060.98,254.6 1061.59,250.3 1062.21,254.6 1062.83,258.9 1063.45,263.2 1064.06,263.2 1064.68,258.9 1065.30,263.2 1065.91,258.9 1066.53,263.2 1067.15,263.2 1067.76,263.2 1068.38,258.9 1069.00,258.9 1069.61,258.9 1070.23,258.9 1070.85,263.2 1071.46,258.9 1072.08,258.9 1072.70,258.9 1073.31,258.9 1073.93,258.9 1074.55,258.9 1075.16,258.9 1075.78,258.9 1076.40,258.9 1077.02,258.9 1077.63,254.6 1078.25,258.9 1078.87,254.6 1079.48,258.9 1080.10,263.2 1080.72,263.2 1081.33,263.2 1081.95,263.2 1082.57,267.5 1083.18,267.5 1083.80,271.9 1084.42,276.2 1085.03,280.5 1085.65,280.5 1086.27,297.7 1086.88,314.9 1087.50,362.3 1088.12,465.7 1088.73,590.7 1089.35,465.7 1089.97,358.0 1090.58,314.9 1091.20,297.7 1091.82,284.8 1092.44,276.2 1093.05,276.2 1093.67,271.9 1094.29,271.9 1094.90,263.2 1095.52,263.2 1096.14,263.2 1096.75,267.5 1097.37,263.2 1097.99,267.5 1098.60,258.9 1099.22,258.9 1099.84,258.9 1100.45,258.9 1101.07,254.6 1101.69,254.6 1102.30,250.3 1102.92,246.0 1103.54,246.0 1104.15,246.0 1104.77,250.3 1105.39,246.0 1106.01,250.3 1106.62,250.3 1107.24,250.3 1107.86,250.3 1108.47,250.3 1109.09,250.3 1109.71,250.3 1110.32,250.3 1110.94,246.0 1111.56,246.0 1112.17,241.7 1112.79,241.7 1113.41,241.7 1114.02,241.7 1114.64,237.4 1115.26,241.7 1115.87,237.4 1116.49,241.7 1117.11,241.7 1117.72,237.4 1118.34,241.7 1118.96,237.4 1119.58,233.1 1120.19,237.4 1120.81,237.4 1121.43,233.1 1122.04,233.1 1122.66,228.8 1123.28,233.1 1123.89,233.1 1124.51,237.4 1125.13,237.4 1125.74,237.4 1126.36,237.4 1126.98,233.1 1127.59,228.8 1128.21,228.8 1128.83,228.8 1129.44,228.8 1130.06,233.1 1130.68,233.1 1131.29,237.4 1131.91,233.1 1132.53,233.1 1133.15,237.4 1133.76,237.4 1134.38,233.1 1135.00,233.1 1135.61,233.1 1136.23,237.4 1136.85,233.1 1137.46,233.1 1138.08,228.8 1138.70,233.1 1139.31,233.1 1139.93,233.1 1140.55,233.1 1141.16,237.4 1141.78,237.4 1142.40,241.7 1143.01,241.7 1143.63,246.0 1144.25,241.7 1144.86,241.7 1145.48,241.7 1146.10,237.4 1146.72,237.4 1147.33,241.7 1147.95,237.4 1148.57,237.4 1149.18,237.4 1149.80,237.4 1150.42,237.4 1151.03,241.7 1151.65,241.7 1152.27,241.7 1152.88,237.4 1153.50,246.0 1154.12,241.7 1154.73,241.7 1155.35,241.7 1155.97,246.0 1156.58,246.0 1157.20,241.7 1157.82,241.7 1158.43,241.7 1159.05,241.7 1159.67,237.4 1160.28,246.0 1160.90,246.0 1161.52,250.3 1162.14,250.3 1162.75,254.6 1163.37,254.6 1163.99,254.6 1164.60,250.3 1165.22,254.6 1165.84,258.9 1166.45,254.6 1167.07,258.9 1167.69,263.2 1168.30,267.5 1168.92,271.9 1169.54,280.5 1170.15,293.4 1170.77,319.2 1171.39,371.0 1172.00,513.1 1172.62,659.6 1173.24,508.8 1173.85,375.3 1174.47,319.2 1175.09,293.4 1175.71,280.5 1176.32,271.9 1176.94,267.5 1177.56,263.2 1178.17,258.9 1178.79,250.3 1179.41,246.0 1180.02,246.0 1180.64,241.7 1181.26,241.7 1181.87,241.7 1182.49,237.4 1183.11,241.7 1183.72,237.4 1184.34,241.7 1184.96,237.4 1185.57,237.4 1186.19,241.7 1186.81,241.7 1187.42,237.4 1188.04,241.7 1188.66,237.4 1189.28,241.7 1189.89,246.0 1190.51,246.0 1191.13,246.0 1191.74,246.0 1192.36,241.7 1192.98,246.0 1193.59,241.7 1194.21,241.7 1194.83,237.4 1195.44,237.4 1196.06,233.1 1196.68,237.4 1197.29,233.1 1197.91,237.4 1198.53,233.1 1199.14,233.1 1199.76,233.1 1200.38,233.1 1200.99,233.1 1201.61,233.1 1202.23,233.1 1202.85,237.4 1203.46,233.1 1204.08,228.8 1204.70,233.1 1205.31,233.1 1205.93,233.1 1206.55,233.1 1207.16,233.1 1207.78,233.1 1208.40,228.8 1209.01,233.1 1209.63,228.8 1210.25,233.1 1210.86,233.1 1211.48,233.1 1212.10,237.4 1212.71,237.4 1213.33,233.1 1213.95,233.1 1214.56,233.1 1215.18,228.8 1215.80,228.8 1216.42,224.5 1217.03,224.5 1217.65,228.8 1218.27,228.8 1218.88,224.5 1219.50,224.5 1220.12,224.5 1220.73,224.5 1221.35,228.8 1221.97,224.5 1222.58,224.5 1223.20,228.8 1223.82,228.8 1224.43,224.5 1225.05,224.5 1225.67,224.5 1226.28,224.5 1226.90,224.5 1227.52,224.5 1228.13,224.5 1228.75,224.5 1229.37,224.5 1229.98,228.8 1230.60,224.5 1231.22,228.8 1231.84,228.8 1232.45,228.8 1233.07,233.1 1233.69,233.1 1234.30,233.1 1234.92,233.1 1235.54,233.1 1236.15,228.8 1236.77,233.1 1237.39,228.8 1238.00,228.8 1238.62,228.8 1239.24,228.8 1239.85,233.1 1240.47,233.1 1241.09,228.8 1241.70,228.8 1242.32,233.1 1242.94,228.8 1243.55,228.8 1244.17,228.8 1244.79,228.8 1245.41,224.5 1246.02,224.5 1246.64,224.5 1247.26,228.8 1247.87,224.5 1248.49,224.5 1249.11,228.8 1249.72,233.1 1250.34,228.8 1250.96,233.1 1251.57,228.8 1252.19,241.7 1252.81,246.0 1253.42,250.3 1254.04,254.6 1254.66,263.2 1255.27,271.9 1255.89,293.4 1256.51,340.8 1257.12,457.1 1257.74,582.1 1258.36,457.1 1258.98,340.8 1259.59,297.7 1260.21,276.2 1260.83,263.2 1261.44,258.9 1262.06,250.3 1262.68,250.3 1263.29,250.3 1263.91,241.7 1264.53,246.0 1265.14,241.7 1265.76,237.4 1266.38,241.7 1266.99,233.1 1267.61,237.4 1268.23,237.4 1268.84,233.1 1269.46,241.7 1270.08,241.7 1270.69,241.7 1271.31,246.0 1271.93,241.7 1272.55,241.7 1273.16,241.7 1273.78,241.7 1274.40,246.0 1275.01,241.7 1275.63,241.7 1276.25,237.4 1276.86,237.4 1277.48,237.4 1278.10,237.4 1278.71,233.1 1279.33,233.1 1279.95,237.4 1280.56,237.4 1281.18,237.4 1281.80,237.4 1282.41,241.7 1283.03,241.7 1283.65,241.7 1284.26,241.7 1284.88,241.7 1285.50,241.7 1286.12,241.7 1286.73,246.0 1287.35,246.0 1287.97,241.7 1288.58,246.0 1289.20,241.7 1289.82,246.0 1290.43,246.0 1291.05,246.0 1291.67,250.3 1292.28,250.3 1292.90,250.3 1293.52,250.3 1294.13,250.3 1294.75,246.0 1295.37,246.0 1295.98,250.3 1296.60,250.3 1297.22,250.3 1297.83,254.6 1298.45,250.3 1299.07,254.6 1299.68,250.3 1300.30,250.3 1300.92,246.0 1301.54,241.7 1302.15,246.0 1302.77,241.7 1303.39,250.3 1304.00,246.0 1304.62,241.7 1305.24,246.0 1305.85,250.3 1306.47,246.0 1307.09,250.3 1307.70,250.3 1308.32,250.3 1308.94,246.0 1309.55,250.3 1310.17,246.0 1310.79,250.3 1311.40,246.0 1312.02,246.0 1312.64,246.0 1313.25,246.0 1313.87,246.0 1314.49,241.7 1315.11,246.0 1315.72,250.3 1316.34,250.3 1316.96,250.3 1317.57,250.3 1318.19,250.3 1318.81,254.6 1319.42,254.6 1320.04,250.3 1320.66,250.3 1321.27,250.3 1321.89,246.0 1322.51,246.0 1323.12,246.0 1323.74,241.7 1324.36,246.0 1324.97,246.0 1325.59,246.0 1326.21,246.0 1326.82,246.0 1327.44,246.0 1328.06,241.7 1328.68,241.7 1329.29,241.7 1329.91,237.4 1330.53,237.4 1331.14,237.4 1331.76,233.1 1332.38,233.1 1332.99,233.1 1333.61,233.1 1334.23,237.4 1334.84,241.7 1335.46,237.4 1336.08,246.0 1336.69,241.7 1337.31,246.0 1337.93,246.0 1338.54,254.6 1339.16,254.6 1339.78,258.9 1340.39,258.9 1341.01,263.2 1341.63,263.2 1342.25,276.2 1342.86,293.4 1343.48,332.2 1344.10,379.6 1344.71,332.2 1345.33,289.1 1345.95,271.9 1346.56,263.2 1347.18,258.9 1347.80,254.6 1348.41,254.6 1349.03,254.6 1349.65,250.3 1350.26,250.3 1350.88,250.3 1351.50,250.3 1352.11,250.3 1352.73,250.3 1353.35,250.3 1353.96,246.0 1354.58,250.3 1355.20,246.0 1355.82,250.3 1356.43,246.0 1357.05,246.0 1357.67,246.0 1358.28,246.0 1358.90,250.3 1359.52,250.3 1360.13,254.6 1360.75,254.6 1361.37,250.3 1361.98,258.9 1362.60,254.6 1363.22,254.6 1363.83,258.9 1364.45,254.6 1365.07,258.9 1365.68,258.9 1366.30,254.6 1366.92,254.6 1367.53,258.9 1368.15,254.6 1368.77,254.6 1369.38,258.9 1370.00,258.9 1370.62,258.9 1371.24,258.9 1371.85,258.9 1372.47,258.9 1373.09,263.2 1373.70,258.9 1374.32,258.9 1374.94,263.2 1375.55,258.9 1376.17,254.6 1376.79,263.2 1377.40,258.9 1378.02,263.2 1378.64,258.9 1379.25,263.2 1379.87,258.9 1380.49,254.6 1381.10,254.6 1381.72,254.6 1382.34,258.9 1382.95,258.9 1383.57,263.2 1384.19,263.2 1384.81,263.2 1385.42,263.2 1386.04,263.2 1386.66,263.2 1387.27,267.5 1387.89,263.2 1388.51,267.5 1389.12,267.5 1389.74,263.2 1390.36,267.5 1390.97,263.2 1391.59,267.5 1392.21,267.5 1392.82,267.5 1393.44,267.5 1394.06,263.2 1394.67,267.5 1395.29,267.5 1395.91,267.5 1396.52,271.9 1397.14,267.5 1397.76,267.5 1398.38,271.9 1398.99,267.5 1399.61,271.9 1400.23,267.5 1400.84,267.5 1401.46,267.5 1402.08,267.5 1402.69,267.5 1403.31,263.2 1403.93,263.2 1404.54,263.2 1405.16,263.2 1405.78,258.9 1406.39,263.2 1407.01,263.2 1407.63,263.2 1408.24,271.9 1408.86,271.9 1409.48,276.2 1410.09,276.2 1410.71,276.2 1411.33,276.2 1411.95,276.2 1412.56,276.2 1413.18,276.2 1413.80,267.5 1414.41,267.5 1415.03,267.5 1415.65,271.9 1416.26,271.9 1416.88,271.9 1417.50,271.9 1418.11,267.5 1418.73,271.9 1419.35,276.2 1419.96,276.2 1420.58,276.2 1421.20,276.2 1421.81,280.5 1422.43,284.8 1423.05,284.8 1423.66,280.5 1424.28,289.1 1424.90,289.1 1425.52,284.8 1426.13,293.4 1426.75,289.1 1427.37,293.4 1427.98,297.7 1428.60,297.7 1429.22,302.0 1429.83,302.0 1430.45,310.6 1431.07,319.2 1431.68,336.5 1432.30,362.3 1432.92,340.8 1433.53,319.2 1434.15,310.6 1434.77,306.3 1435.38,302.0 1436.00,302.0 1436.62,297.7 1437.23,293.4 1437.85,293.4 1438.47,293.4 1439.08,297.7 1439.70,297.7 1440.32,302.0 1440.94,297.7 1441.55,297.7 1442.17,293.4 1442.79,293.4 1443.40,289.1 1444.02,293.4 1444.64,293.4 1445.25,293.4 1445.87,293.4 1446.49,293.4 1447.10,289.1 1447.72,293.4 1448.34,293.4 1448.95,293.4 1449.57,297.7 1450.19,293.4 1450.80,293.4 1451.42,293.4 1452.04,289.1 1452.65,289.1 1453.27,289.1 1453.89,289.1 1454.51,289.1 1455.12,289.1 1455.74,289.1 1456.36,284.8 1456.97,289.1 1457.59,289.1 1458.21,293.4 1458.82,293.4 1459.44,293.4 1460.06,289.1 1460.67,289.1 1461.29,289.1 1461.91,289.1 1462.52,289.1 1463.14,289.1 1463.76,289.1 1464.37,284.8 1464.99,284.8 1465.61,284.8 1466.22,289.1 1466.84,284.8 1467.46,289.1 1468.08,284.8 1468.69,284.8 1469.31,284.8 1469.93,284.8 1470.54,284.8 1471.16,284.8 1471.78,280.5 1472.39,280.5 1473.01,284.8 1473.63,284.8 1474.24,284.8 1474.86,289.1 1475.48,293.4 1476.09,289.1 1476.71,293.4 1477.33,297.7 1477.94,293.4 1478.56,297.7 1479.18,289.1 1479.79,293.4 1480.41,293.4 1481.03,293.4 1481.65,293.4 1482.26,293.4 1482.88,293.4 1483.50,293.4 1484.11,293.4 1484.73,297.7 1485.35,297.7 1485.96,302.0 1486.58,302.0 1487.20,297.7 1487.81,306.3 1488.43,302.0 1489.05,306.3 1489.66,306.3 1490.28,306.3 1490.90,306.3 1491.51,306.3 1492.13,310.6 1492.75,310.6 1493.36,306.3 1493.98,306.3 1494.60,306.3 1495.22,306.3 1495.83,306.3 1496.45,302.0 1497.07,306.3 1497.68,302.0 1498.30,302.0 1498.92,302.0 1499.53,302.0 1500.15,302.0 1500.77,306.3 1501.38,310.6 1502.00,310.6 1502.62,310.6 1503.23,314.9 1503.85,310.6 1504.47,310.6 1505.08,310.6 1505.70,310.6 1506.32,310.6 1506.93,310.6 1507.55,310.6 1508.17,310.6 1508.78,314.9 1509.40,319.2 1510.02,314.9 1510.64,319.2 1511.25,314.9 1511.87,323.6 1512.49,323.6 1513.10,319.2 1513.72,323.6 1514.34,319.2 1514.95,319.2 1515.57,323.6 1516.19,323.6 1516.80,323.6 1517.42,323.6 1518.04,323.6 1518.65,327.9 1519.27,327.9 1519.89,332.2 1520.50,332.2 1521.12,345.1 1521.74,366.6 1522.35,388.2 1522.97,366.6 1523.59,345.1 1524.21,340.8 1524.82,336.5 1525.44,332.2 1526.06,336.5 1526.67,332.2 1527.29,332.2 1527.91,332.2 1528.52,332.2 1529.14,332.2 1529.76,327.9 1530.37,332.2 1530.99,336.5 1531.61,332.2 1532.22,332.2 1532.84,332.2 1533.46,336.5 1534.07,336.5 1534.69,332.2 1535.31,332.2 1535.92,332.2 1536.54,332.2 1537.16,332.2 1537.78,332.2 1538.39,327.9 1539.01,327.9 1539.63,323.6 1540.24,323.6 1540.86,323.6 1541.48,319.2 1542.09,319.2 1542.71,319.2 1543.33,319.2 1543.94,323.6 1544.56,319.2 1545.18,323.6 1545.79,327.9 1546.41,323.6 1547.03,323.6 1547.64,323.6 1548.26,323.6 1548.88,319.2 1549.49,319.2 1550.11,319.2 1550.73,319.2 1551.35,319.2 1551.96,319.2 1552.58,323.6 1553.20,323.6 1553.81,323.6 1554.43,323.6 1555.05,323.6 1555.66,319.2 1556.28,319.2 1556.90,314.9 1557.51,314.9 1558.13,310.6 1558.75,314.9 1559.36,314.9 1559.98,314.9 1560.60,314.9 1561.21,314.9 1561.83,319.2 1562.45,319.2 1563.06,319.2 1563.68,314.9 1564.30,314.9 1564.92,314.9 1565.53,319.2 1566.15,319.2 1566.77,323.6 1567.38,323.6 1568.00,319.2 1568.62,323.6 1569.23,323.6 1569.85,323.6 1570.47,323.6 1571.08,327.9 1571.70,327.9 1572.32,332.2 1572.93,332.2 1573.55,332.2 1574.17,332.2 1574.78,336.5 1575.40,336.5 1576.02,336.5 1576.63,336.5 1577.25,336.5 1577.87,336.5 1578.48,340.8 1579.10,340.8 1579.72,340.8 1580.34,340.8 1580.95,340.8 1581.57,340.8 1582.19,345.1 1582.80,340.8 1583.42,340.8 1584.04,340.8 1584.65,336.5 1585.27,340.8 1585.89,340.8 1586.50,345.1 1587.12,345.1 1587.74,345.1 1588.35,345.1 1588.97,345.1 1589.59,345.1 1590.20,349.4 1590.82,345.1 1591.44,345.1 1592.05,345.1 1592.67,340.8 1593.29,340.8 1593.91,336.5 1594.52,340.8 1595.14,340.8 1595.76,336.5 1596.37,336.5 1596.99,336.5 1597.61,336.5 1598.22,336.5 1598.84,340.8 1599.46,336.5 1600.07,336.5 1600.69,336.5 1601.31,340.8 1601.92,345.1 1602.54,340.8 1603.16,340.8 1603.77,345.1 1604.39,340.8 1605.01,340.8 1605.62,340.8 1606.24,340.8 1606.86,340.8 1607.48,340.8 1608.09,340.8 1608.71,340.8 1609.33,340.8 1609.94,340.8 1610.56,349.4 1611.18,358.0 1611.79,371.0 1612.41,409.7 1613.03,478.7 1613.64,414.0 1614.26,375.3 1614.88,362.3 1615.49,353.7 1616.11,349.4 1616.73,366.6 1617.34,375.3 1617.96,405.4 1618.58,487.3 1619.19,620.8 1619.81,487.3 1620.43,405.4 1621.05,379.6 1621.66,366.6 1622.28,349.4 1622.90,349.4 1623.51,349.4 1624.13,345.1 1624.75,366.6 1625.36,375.3 1625.98,396.8 1626.60,461.4 1627.21,573.5 1627.83,461.4 1628.45,396.8 1629.06,375.3 1629.68,366.6 1630.30,353.7 1630.91,375.3 1631.53,392.5 1632.15,427.0 1632.76,539.0 1633.38,724.3 1634.00,539.0 1634.62,431.3 1635.23,392.5 1635.85,379.6 1636.47,358.0 1637.08,353.7 1637.70,353.7 1638.32,358.0 1638.93,375.3 1639.55,383.9 1640.17,409.7 1640.78,487.3 1641.40,616.5 1642.02,487.3 1642.63,409.7 1643.25,383.9 1643.87,375.3 1644.48,358.0 1645.10,358.0 1645.72,353.7 1646.33,353.7 1646.95,353.7 1647.57,371.0 1648.18,379.6 1648.80,401.1 1649.42,461.4 1650.04,560.5 1650.65,461.4 1651.27,401.1 1651.89,383.9 1652.50,375.3 1653.12,366.6 1653.74,366.6 1654.35,366.6 1654.97,366.6 1655.59,366.6 1656.20,362.3 1656.82,362.3 1657.44,375.3 1658.05,383.9 1658.67,405.4 1659.29,465.7 1659.90,560.5 1660.52,465.7 1661.14,405.4 1661.75,388.2 1662.37,379.6 1662.99,371.0 1663.61,371.0 1664.22,375.3 1664.84,375.3 1665.46,375.3 1666.07,375.3 1666.69,375.3 1667.31,379.6 1667.92,388.2 1668.54,418.3 1669.16,465.7 1669.77,418.3 1670.39,388.2 1671.01,379.6 1671.62,375.3 1672.24,371.0 1672.86,371.0 1673.47,375.3 1674.09,375.3 1674.71,375.3 1675.32,375.3 1675.94,379.6 1676.56,388.2 1677.18,405.4 1677.79,388.2 1678.41,379.6 1679.03,379.6 1679.64,375.3 1680.26,375.3 1680.88,375.3 1681.49,379.6 1682.11,379.6 1682.73,379.6 1683.34,383.9 1683.96,379.6 1684.58,379.6 1685.19,383.9 1685.81,383.9 1686.43,379.6 1687.04,379.6 1687.66,379.6 1688.28,383.9 1688.89,388.2 1689.51,392.5 1690.13,392.5 1690.75,396.8 1691.36,396.8 1691.98,401.1 1692.60,401.1 1693.21,396.8 1693.83,396.8 1694.45,392.5 1695.06,401.1 1695.68,392.5 1696.30,396.8 1696.91,392.5 1697.53,396.8 1698.15,392.5 1698.76,396.8 1699.38,396.8 1700.00,401.1 1700.61,401.1 1701.23,405.4 1701.85,418.3 1702.46,422.7 1703.08,418.3 1703.70,409.7 1704.32,405.4 1704.93,405.4 1705.55,401.1 1706.17,401.1 1706.78,405.4 1707.40,405.4 1708.02,405.4 1708.63,405.4 1709.25,401.1 1709.87,405.4 1710.48,401.1 1711.10,396.8 1711.72,401.1 1712.33,405.4 1712.95,401.1 1713.57,401.1 1714.18,405.4 1714.80,405.4 1715.42,409.7 1716.03,409.7 1716.65,409.7 1717.27,409.7 1717.88,414.0 1718.50,418.3 1719.12,422.7 1719.74,414.0 1720.35,409.7 1720.97,405.4 1721.59,401.1 1722.20,405.4 1722.82,405.4 1723.44,401.1 1724.05,409.7 1724.67,405.4 1725.29,405.4 1725.90,401.1 1726.52,401.1 1727.14,396.8 1727.75,401.1 1728.37,405.4 1728.99,405.4 1729.60,414.0 1730.22,414.0 1730.84,414.0 1731.45,409.7 1732.07,414.0 1732.69,414.0 1733.31,414.0 1733.92,409.7 1734.54,409.7 1735.16,414.0 1735.77,414.0 1736.39,409.7 1737.01,414.0 1737.62,414.0 1738.24,418.3 1738.86,414.0 1739.47,414.0 1740.09,414.0 1740.71,418.3 1741.32,418.3 1741.94,418.3 1742.56,418.3 1743.17,418.3 1743.79,422.7 1744.41,418.3 1745.02,418.3 1745.64,418.3 1746.26,422.7 1746.88,422.7 1747.49,422.7 1748.11,422.7 1748.73,422.7 1749.34,422.7 1749.96,422.7 1750.58,427.0 1751.19,427.0 1751.81,431.3 1752.43,431.3 1753.04,427.0 1753.66,427.0 1754.28,427.0 1754.89,431.3 1755.51,427.0 1756.13,427.0 1756.74,427.0 1757.36,431.3 1757.98,431.3 1758.59,431.3 1759.21,431.3 1759.83,431.3 1760.45,431.3 1761.06,431.3 1761.68,435.6 1762.30,435.6 1762.91,435.6 1763.53,435.6 1764.15,439.9 1764.76,439.9 1765.38,439.9 1766.00,439.9 1766.61,439.9 1767.23,444.2 1767.85,444.2 1768.46,448.5 1769.08,448.5 1769.70,444.2 1770.31,448.5 1770.93,448.5 1771.55,452.8 1772.16,452.8 1772.78,452.8 1773.40,457.1 1774.02,457.1 1774.63,452.8 1775.25,457.1 1775.87,457.1 1776.48,457.1 1777.10,457.1 1777.72,457.1 1778.33,457.1 1778.95,452.8 1779.57,457.1 1780.18,452.8 1780.80,457.1 1781.42,452.8 1782.03,457.1 1782.65,457.1 1783.27,457.1 1783.88,457.1 1784.50,457.1 1785.12,461.4 1785.73,461.4 1786.35,461.4 1786.97,461.4 1787.58,465.7 1788.20,461.4 1788.82,470.0 1789.44,465.7 1790.05,465.7 1790.67,465.7 1791.29,470.0 1791.90,474.4 1792.52,474.4 1793.14,474.4 1793.75,474.4 1794.37,474.4 1794.99,470.0 1795.60,478.7 1796.22,487.3 1796.84,491.6 1797.45,491.6 1798.07,495.9 1798.69,504.5 1799.30,526.1 1799.92,547.6 1800.54,526.1 1801.15,508.8 1801.77,500.2 1802.39,491.6 1803.01,491.6 1803.62,487.3 1804.24,483.0 1804.86,483.0 1805.47,487.3 1806.09,487.3 1806.71,487.3 1807.32,491.6 1807.94,487.3 1808.56,483.0 1809.17,478.7 1809.79,478.7 1810.41,478.7 1811.02,483.0 1811.64,483.0 1812.26,483.0 1812.87,491.6 1813.49,491.6 1814.11,491.6 1814.72,491.6 1815.34,491.6 1815.96,491.6 1816.58,491.6 1817.19,491.6 1817.81,491.6 1818.43,491.6 1819.04,491.6 1819.66,491.6 1820.28,491.6 1820.89,491.6 1821.51,495.9 1822.13,495.9 1822.74,495.9 1823.36,500.2 1823.98,500.2 1824.59,504.5 1825.21,504.5 1825.83,500.2 1826.44,508.8 1827.06,508.8 1827.68,504.5 1828.29,504.5 1828.91,504.5 1829.53,508.8 1830.15,508.8 1830.76,508.8 1831.38,508.8 1832.00,508.8 1832.61,508.8 1833.23,504.5 1833.85,504.5 1834.46,504.5 1835.08,504.5 1835.70,504.5 1836.31,508.8 1836.93,513.1 1837.55,513.1 1838.16,513.1 1838.78,517.4 1839.40,508.8 1840.01,513.1 1840.63,513.1 1841.25,513.1 1841.86,513.1 1842.48,517.4 1843.10,513.1 1843.72,521.8 1844.33,521.8 1844.95,521.8 1845.57,521.8 1846.18,521.8 1846.80,521.8 1847.42,526.1 1848.03,526.1 1848.65,526.1 1849.27,526.1 1849.88,530.4 1850.50,530.4 1851.12,534.7 1851.73,526.1 1852.35,530.4 1852.97,530.4 1853.58,526.1 1854.20,534.7 1854.82,534.7 1855.43,539.0 1856.05,534.7 1856.67,539.0 1857.28,539.0 1857.90,539.0 1858.52,543.3 1859.14,543.3 1859.75,539.0 1860.37,543.3 1860.99,543.3 1861.60,543.3 1862.22,547.6 1862.84,547.6 1863.45,547.6 1864.07,547.6 1864.69,547.6 1865.30,547.6 1865.92,547.6 1866.54,547.6 1867.15,547.6 1867.77,547.6 1868.39,551.9 1869.00,547.6 1869.62,551.9 1870.24,551.9 1870.85,551.9 1871.47,551.9 1872.09,547.6 1872.71,547.6 1873.32,551.9 1873.94,547.6 1874.56,547.6 1875.17,543.3 1875.79,547.6 1876.41,547.6 1877.02,547.6 1877.64,547.6 1878.26,551.9 1878.87,551.9 1879.49,551.9 1880.11,551.9 1880.72,556.2 1881.34,560.5 1881.96,556.2 1882.57,556.2 1883.19,556.2 1883.81,556.2 1884.42,551.9 1885.04,556.2 1885.66,556.2 1886.28,556.2 1886.89,560.5 1887.51,564.8 1888.13,560.5 1888.74,560.5 1889.36,569.1 1889.98,569.1 1890.59,573.5 1891.21,573.5 1891.83,577.8 1892.44,586.4 1893.06,595.0 1893.68,620.8 1894.29,672.6 1894.91,728.6 1895.53,672.6 1896.14,620.8 1896.76,603.6 1897.38,595.0 1897.99,590.7 1898.61,586.4 1899.23,586.4 1899.85,586.4 1900.46,586.4 1901.08,582.1 1901.70,582.1 1902.31,586.4 1902.93,582.1 1903.55,582.1 1904.16,582.1 1904.78,577.8 1905.40,577.8 1906.01,577.8 1906.63,582.1 1907.25,577.8 1907.86,577.8 1908.48,577.8 1909.10,577.8 1909.71,582.1 1910.33,586.4 1910.95,586.4 1911.56,586.4 1912.18,590.7 1912.80,595.0 1913.42,599.3 1914.03,595.0 1914.65,599.3 1915.27,599.3 1915.88,603.6 1916.50,607.9 1917.12,603.6 1917.73,607.9 1918.35,607.9 1918.97,612.2 1919.58,612.2 1920.20,616.5 1920.82,616.5 1921.43,616.5 1922.05,616.5 1922.67,620.8 1923.28,620.8 1923.90,620.8 1924.52,625.2 1925.13,620.8 1925.75,625.2 1926.37,625.2 1926.98,625.2 1927.60,625.2 1928.22,629.5 1928.84,629.5 1929.45,629.5 1930.07,629.5 1930.69,629.5 1931.30,629.5 1931.92,629.5 1932.54,629.5 1933.15,629.5 1933.77,629.5 1934.39,633.8 1935.00,633.8 1935.62,633.8 1936.24,633.8 1936.85,633.8 1937.47,638.1 1938.09,642.4 1938.70,638.1 1939.32,642.4 1939.94,642.4 1940.55,642.4 1941.17,642.4 1941.79,642.4 1942.41,642.4 1943.02,646.7 1943.64,642.4 1944.26,646.7 1944.87,646.7 1945.49,651.0 1946.11,651.0 1946.72,651.0 1947.34,651.0 1947.96,651.0 1948.57,651.0 1949.19,651.0 1949.81,651.0 1950.42,655.3 1951.04,655.3 1951.66,655.3 1952.27,659.6 1952.89,659.6 1953.51,663.9 1954.12,659.6 1954.74,659.6 1955.36,659.6 1955.98,659.6 1956.59,659.6 1957.21,655.3 1957.83,655.3 1958.44,659.6 1959.06,655.3 1959.68,659.6 1960.29,655.3 1960.91,655.3 1961.53,655.3 1962.14,655.3 1962.76,663.9 1963.38,663.9 1963.99,668.2 1964.61,668.2 1965.23,672.6 1965.84,672.6 1966.46,681.2 1967.08,676.9 1967.69,672.6 1968.31,681.2 1968.93,685.5 1969.55,681.2 1970.16,685.5 1970.78,685.5 1971.40,681.2 1972.01,685.5 1972.63,681.2 1973.25,685.5 1973.86,685.5 1974.48,685.5 1975.10,685.5 1975.71,681.2 1976.33,689.8 1976.95,689.8 1977.56,689.8 1978.18,689.8 1978.80,689.8 1979.41,694.1 1980.03,694.1 1980.65,694.1 1981.26,698.4 1981.88,698.4 1982.50,698.4 1983.12,698.4 1983.73,702.7 1984.35,698.4 1984.97,702.7 1985.58,702.7 1986.20,707.0 1986.82,707.0 1987.43,711.3 1988.05,715.6 1988.67,719.9 1989.28,728.6 1989.90,741.5 1990.52,771.6 1991.13,840.6 1991.75,918.1 1992.37,844.9 1992.98,780.3 1993.60,750.1 1994.22,737.2 1994.83,732.9 1995.45,728.6 1996.07,728.6 1996.68,724.3 1997.30,724.3 1997.92,719.9 1998.54,719.9 1999.15,719.9 1999.77,715.6 2000.39,719.9 2001.00,724.3 2001.62,715.6 2002.24,719.9 2002.85,724.3 2003.47,724.3 2004.09,724.3 2004.70,724.3 2005.32,724.3 2005.94,728.6 2006.55,732.9 2007.17,732.9 2007.79,732.9 2008.40,732.9 2009.02,737.2 2009.64,732.9 2010.25,737.2 2010.87,732.9 2011.49,732.9 2012.11,732.9 2012.72,737.2 2013.34,737.2 2013.96,737.2 2014.57,741.5 2015.19,741.5 2015.81,741.5 2016.42,741.5 2017.04,745.8 2017.66,741.5 2018.27,745.8 2018.89,741.5 2019.51,745.8 2020.12,750.1 2020.74,745.8 2021.36,750.1 2021.97,750.1 2022.59,750.1 2023.21,750.1 2023.82,750.1 2024.44,750.1 2025.06,754.4 2025.68,754.4 2026.29,758.7 2026.91,758.7 2027.53,758.7 2028.14,754.4 2028.76,763.0 2029.38,763.0 2029.99,763.0 2030.61,767.3 2031.23,767.3 2031.84,767.3 2032.46,767.3 2033.08,771.6 2033.69,776.0 2034.31,771.6 2034.93,776.0 2035.54,780.3 2036.16,780.3 2036.78,780.3 2037.39,776.0 2038.01,776.0 2038.63,776.0 2039.25,776.0 2039.86,780.3 2040.48,780.3 2041.10,780.3 2041.71,780.3 2042.33,784.6 2042.95,784.6 2043.56,788.9 2044.18,788.9 2044.80,793.2 2045.41,793.2 2046.03,797.5 2046.65,793.2 2047.26,797.5 2047.88,797.5 2048.50,801.8 2049.11,801.8 2049.73,801.8 2050.35,801.8 2050.96,806.1 2051.58,810.4 2052.20,810.4 2052.82,806.1 2053.43,814.7 2054.05,814.7 2054.67,814.7 2055.28,814.7 2055.90,810.4 2056.52,810.4 2057.13,814.7 2057.75,814.7 2058.37,819.0 2058.98,819.0 2059.60,823.4 2060.22,823.4 2060.83,827.7 2061.45,823.4 2062.07,819.0 2062.68,819.0 2063.30,823.4 2063.92,819.0 2064.53,823.4 2065.15,823.4 2065.77,827.7 2066.38,823.4 2067.00,823.4 2067.62,823.4 2068.24,823.4 2068.85,823.4 2069.47,832.0"/>
<polyline stroke="#f00" stroke-width="3.1" marker-start="url(#kA)" marker-mid="url(#kA)" marker-end="url(#kA)" points="219.03,840.6 219.64,840.6 220.26,840.6 220.88,840.6 221.49,844.9 222.11,840.6 222.73,840.6 223.34,844.9 223.96,840.6 224.58,836.3 225.19,836.3 225.81,836.3 226.43,832.0 227.05,840.6 227.66,832.0 228.28,836.3 228.90,832.0 229.51,832.0 230.13,823.4 230.75,823.4 231.36,827.7 231.98,827.7 232.60,827.7 233.21,827.7 233.83,832.0 234.45,827.7 235.06,827.7 235.68,823.4 236.30,823.4 236.91,823.4 237.53,819.0 238.15,819.0 238.76,814.7 239.38,819.0 240.00,819.0 240.62,819.0 241.23,810.4 241.85,810.4 242.47,806.1 243.08,810.4 243.70,806.1 244.32,806.1 244.93,806.1 245.55,814.7 246.17,810.4 246.78,806.1 247.40,810.4 248.02,806.1 248.63,806.1 249.25,806.1 249.87,806.1 250.48,801.8 251.10,801.8 251.72,801.8 252.33,801.8 252.95,801.8 253.57,806.1 254.18,801.8 254.80,801.8 255.42,801.8 256.04,806.1 256.65,797.5 257.27,801.8 257.89,797.5 258.50,801.8 259.12,793.2 259.74,793.2 260.35,793.2 260.97,788.9 261.59,788.9 262.20,788.9 262.82,788.9 263.44,793.2 264.05,784.6 264.67,788.9 265.29,784.6 265.90,784.6 266.52,784.6 267.14,780.3 267.75,780.3 268.37,780.3 268.99,780.3 269.61,780.3 270.22,780.3 270.84,784.6 271.46,780.3 272.07,780.3 272.69,784.6 273.31,776.0 273.92,776.0 274.54,780.3 275.16,776.0 275.77,780.3 276.39,776.0 277.01,780.3 277.62,776.0 278.24,776.0 278.86,776.0 279.47,776.0 280.09,771.6 280.71,771.6 281.32,771.6 281.94,767.3 282.56,771.6 283.18,771.6 283.79,771.6 284.41,771.6 285.03,771.6 285.64,771.6 286.26,771.6 286.88,776.0 287.49,767.3 288.11,776.0 288.73,767.3 289.34,771.6 289.96,767.3 290.58,767.3 291.19,771.6 291.81,763.0 292.43,771.6 293.04,767.3 293.66,763.0 294.28,763.0 294.89,763.0 295.51,767.3 296.13,763.0 296.75,758.7 297.36,758.7 297.98,767.3 298.60,758.7 299.21,758.7 299.83,758.7 300.45,758.7 301.06,763.0 301.68,754.4 302.30,754.4 302.91,754.4 303.53,754.4 304.15,754.4 304.76,750.1 305.38,750.1 306.00,750.1 306.61,750.1 307.23,750.1 307.85,745.8 308.46,745.8 309.08,745.8 309.70,750.1 310.32,745.8 310.93,750.1 311.55,745.8 312.17,745.8 312.78,741.5 313.40,741.5 314.02,741.5 314.63,737.2 315.25,737.2 315.87,737.2 316.48,737.2 317.10,732.9 317.72,732.9 318.33,732.9 318.95,732.9 319.57,728.6 320.18,728.6 320.80,728.6 321.42,724.3 322.03,724.3 322.65,728.6 323.27,724.3 323.88,724.3 324.50,724.3 325.12,724.3 325.74,724.3 326.35,724.3 326.97,719.9 327.59,728.6 328.20,719.9 328.82,728.6 329.44,719.9 330.05,728.6 330.67,719.9 331.29,719.9 331.90,715.6 332.52,719.9 333.14,724.3 333.75,719.9 334.37,715.6 334.99,719.9 335.60,719.9 336.22,724.3 336.84,719.9 337.45,724.3 338.07,719.9 338.69,719.9 339.31,719.9 339.92,715.6 340.54,719.9 341.16,719.9 341.77,719.9 342.39,719.9 343.01,719.9 343.62,715.6 344.24,715.6 344.86,719.9 345.47,711.3 346.09,715.6 346.71,715.6 347.32,715.6 347.94,715.6 348.56,711.3 349.17,715.6 349.79,715.6 350.41,711.3 351.02,711.3 351.64,715.6 352.26,707.0 352.88,715.6 353.49,711.3 354.11,711.3 354.73,711.3 355.34,711.3 355.96,715.6 356.58,707.0 357.19,707.0 357.81,707.0 358.43,711.3 359.04,707.0 359.66,711.3 360.28,707.0 360.89,711.3 361.51,711.3 362.13,702.7 362.74,702.7 363.36,702.7 363.98,711.3 364.59,707.0 365.21,707.0 365.83,702.7 366.45,702.7 367.06,707.0 367.68,702.7 368.30,702.7 368.91,707.0 369.53,702.7 370.15,698.4 370.76,698.4 371.38,694.1 372.00,698.4 372.61,698.4 373.23,702.7 373.85,698.4 374.46,694.1 375.08,698.4 375.70,689.8 376.31,689.8 376.93,685.5 377.55,689.8 378.16,689.8 378.78,689.8 379.40,685.5 380.02,685.5 380.63,689.8 381.25,685.5 381.87,689.8 382.48,689.8 383.10,681.2 383.72,689.8 384.33,685.5 384.95,685.5 385.57,685.5 386.18,689.8 386.80,685.5 387.42,689.8 388.03,685.5 388.65,685.5 389.27,685.5 389.88,685.5 390.50,685.5 391.12,689.8 391.73,689.8 392.35,694.1 392.97,685.5 393.58,694.1 394.20,685.5 394.82,694.1 395.44,689.8 396.05,685.5 396.67,685.5 397.29,685.5 397.90,689.8 398.52,685.5 399.14,681.2 399.75,681.2 400.37,676.9 400.99,685.5 401.60,676.9 402.22,685.5 402.84,681.2 403.45,685.5 404.07,676.9 404.69,681.2 405.30,676.9 405.92,676.9 406.54,681.2 407.15,672.6 407.77,676.9 408.39,672.6 409.01,676.9 409.62,672.6 410.24,676.9 410.86,672.6 411.47,672.6 412.09,672.6 412.71,672.6 413.32,672.6 413.94,672.6 414.56,672.6 415.17,676.9 415.79,676.9 416.41,672.6 417.02,676.9 417.64,676.9 418.26,672.6 418.87,672.6 419.49,676.9 420.11,668.2 420.72,672.6 421.34,668.2 421.96,672.6 422.58,668.2 423.19,676.9 423.81,668.2 424.43,668.2 425.04,672.6 425.66,663.9 426.28,663.9 426.89,668.2 427.51,659.6 428.13,663.9 428.74,659.6 429.36,659.6 429.98,663.9 430.59,659.6 431.21,659.6 431.83,659.6 432.44,659.6 433.06,663.9 433.68,663.9 434.29,663.9 434.91,663.9 435.53,659.6 436.15,663.9 436.76,659.6 437.38,659.6 438.00,659.6 438.61,655.3 439.23,651.0 439.85,659.6 440.46,659.6 441.08,655.3 441.70,655.3 442.31,659.6 442.93,663.9 443.55,659.6 444.16,655.3 444.78,655.3 445.40,655.3 446.01,651.0 446.63,655.3 447.25,651.0 447.86,646.7 448.48,651.0 449.10,646.7 449.72,651.0 450.33,646.7 450.95,646.7 451.57,646.7 452.18,646.7 452.80,646.7 453.42,646.7 454.03,646.7 454.65,651.0 455.27,646.7 455.88,642.4 456.50,642.4 457.12,642.4 457.73,642.4 458.35,642.4 458.97,642.4 459.58,642.4 460.20,638.1 460.82,638.1 461.43,638.1 462.05,638.1 462.67,642.4 463.28,638.1 463.90,638.1 464.52,638.1 465.14,633.8 465.75,642.4 466.37,633.8 466.99,638.1 467.60,642.4 468.22,642.4 468.84,655.3 469.45,672.0 470.07,680.0 470.69,646.7 471.30,633.8 471.92,629.5 472.54,629.5 473.15,625.2 473.77,629.5 474.39,620.8 475.00,629.5 475.62,625.2 476.24,620.8 476.85,620.8 477.47,625.2 478.09,625.2 478.71,616.5 479.32,625.2 479.94,620.8 480.56,616.5 481.17,620.8 481.79,616.5 482.41,620.8 483.02,620.8 483.64,625.2 484.26,620.8 484.87,620.8 485.49,616.5 486.11,620.8 486.72,625.2 487.34,620.8 487.96,616.5 488.57,620.8 489.19,620.8 489.81,620.8 490.42,616.5 491.04,616.5 491.66,616.5 492.28,616.5 492.89,612.2 493.51,612.2 494.13,607.9 494.74,612.2 495.36,612.2 495.98,607.9 496.59,612.2 497.21,607.9 497.83,616.5 498.44,607.9 499.06,607.9 499.68,603.6 500.29,607.9 500.91,607.9 501.53,603.6 502.14,607.9 502.76,607.9 503.38,603.6 503.99,616.5 504.61,603.6 505.23,607.9 505.85,603.6 506.46,603.6 507.08,603.6 507.70,603.6 508.31,603.6 508.93,599.3 509.55,599.3 510.16,603.6 510.78,603.6 511.40,599.3 512.01,595.0 512.63,599.3 513.25,599.3 513.86,603.6 514.48,599.3 515.10,603.6 515.71,599.3 516.33,599.3 516.95,595.0 517.56,595.0 518.18,595.0 518.80,595.0 519.42,595.0 520.03,590.7 520.65,590.7 521.27,590.7 521.88,590.7 522.50,590.7 523.12,586.4 523.73,595.0 524.35,586.4 524.97,590.7 525.58,586.4 526.20,586.4 526.82,582.1 527.43,582.1 528.05,586.4 528.67,586.4 529.28,586.4 529.90,590.7 530.52,590.7 531.13,586.4 531.75,586.4 532.37,586.4 532.98,590.7 533.60,582.1 534.22,586.4 534.84,582.1 535.45,577.8 536.07,582.1 536.69,582.1 537.30,582.1 537.92,582.1 538.54,582.1 539.15,582.1 539.77,577.8 540.39,577.8 541.00,582.1 541.62,586.4 542.24,590.7 542.85,620.0 543.47,651.5 544.09,659.1 544.70,634.8 545.32,577.8 545.94,573.5 546.55,573.5 547.17,569.1 547.79,569.1 548.41,569.1 549.02,569.1 549.64,564.8 550.26,564.8 550.87,569.1 551.49,564.8 552.11,569.1 552.72,564.8 553.34,569.1 553.96,569.1 554.57,564.8 555.19,564.8 555.81,569.1 556.42,564.8 557.04,577.8 557.66,573.5 558.27,569.1 558.89,569.1 559.51,573.5 560.12,564.8 560.74,569.1 561.36,569.1 561.98,569.1 562.59,564.8 563.21,564.8 563.83,564.8 564.44,569.1 565.06,573.5 565.68,564.8 566.29,564.8 566.91,564.8 567.53,569.1 568.14,564.8 568.76,564.8 569.38,564.8 569.99,569.1 570.61,564.8 571.23,560.5 571.84,560.5 572.46,560.5 573.08,560.5 573.69,556.2 574.31,556.2 574.93,560.5 575.55,560.5 576.16,556.2 576.78,560.5 577.40,556.2 578.01,551.9 578.63,556.2 579.25,556.2 579.86,556.2 580.48,551.9 581.10,556.2 581.71,551.9 582.33,556.2 582.95,551.9 583.56,556.2 584.18,551.9 584.80,556.2 585.41,551.9 586.03,551.9 586.65,551.9 587.26,547.6 587.88,543.3 588.50,543.3 589.12,543.3 589.73,539.0 590.35,543.3 590.97,543.3 591.58,534.7 592.20,534.7 592.82,539.0 593.43,534.7 594.05,534.7 594.67,539.0 595.28,534.7 595.90,539.0 596.52,534.7 597.13,534.7 597.75,534.7 598.37,534.7 598.98,534.7 599.60,534.7 600.22,534.7 600.83,534.7 601.45,530.4 602.07,530.4 602.68,530.4 603.30,530.4 603.92,530.4 604.54,534.7 605.15,526.1 605.77,530.4 606.39,526.1 607.00,530.4 607.62,530.4 608.24,526.1 608.85,521.8 609.47,526.1 610.09,526.1 610.70,526.1 611.32,526.1 611.94,526.1 612.55,526.1 613.17,526.1 613.79,526.1 614.40,526.1 615.02,530.4 615.64,517.4 616.25,521.8 616.87,521.8 617.49,521.8 618.11,526.1 618.72,534.7 619.34,570.0 619.96,590.0 620.57,580.0 621.19,530.4 621.81,526.1 622.42,521.8 623.04,521.8 623.66,521.8 624.27,517.4 624.89,517.4 625.51,517.4 626.12,517.4 626.74,521.8 627.36,513.1 627.97,513.1 628.59,517.4 629.21,513.1 629.82,513.1 630.44,513.1 631.06,517.4 631.68,513.1 632.29,513.1 632.91,508.8 633.53,508.8 634.14,513.1 634.76,513.1 635.38,517.4 635.99,513.1 636.61,513.1 637.23,513.1 637.84,513.1 638.46,513.1 639.08,517.4 639.69,513.1 640.31,513.1 640.93,517.4 641.54,513.1 642.16,517.4 642.78,517.4 643.39,517.4 644.01,517.4 644.63,517.4 645.25,513.1 645.86,517.4 646.48,513.1 647.10,517.4 647.71,513.1 648.33,513.1 648.95,517.4 649.56,513.1 650.18,513.1 650.80,517.4 651.41,517.4 652.03,513.1 652.65,517.4 653.26,513.1 653.88,517.4 654.50,521.8 655.11,517.4 655.73,526.1 656.35,521.8 656.96,517.4 657.58,526.1 658.20,517.4 658.82,521.8 659.43,517.4 660.05,517.4 660.67,517.4 661.28,513.1 661.90,508.8 662.52,513.1 663.13,513.1 663.75,504.5 664.37,504.5 664.98,508.8 665.60,504.5 666.22,500.2 666.83,504.5 667.45,504.5 668.07,504.5 668.68,500.2 669.30,500.2 669.92,500.2 670.53,504.5 671.15,500.2 671.77,500.2 672.38,500.2 673.00,500.2 673.62,500.2 674.24,495.9 674.85,495.9 675.47,504.5 676.09,491.6 676.70,491.6 677.32,491.6 677.94,491.6 678.55,491.6 679.17,487.3 679.79,495.9 680.40,491.6 681.02,491.6 681.64,487.3 682.25,491.6 682.87,487.3 683.49,487.3 684.10,491.6 684.72,487.3 685.34,487.3 685.95,487.3 686.57,487.3 687.19,487.3 687.81,487.3 688.42,487.3 689.04,487.3 689.66,487.3 690.27,491.6 690.89,491.6 691.51,491.6 692.12,495.9 692.74,495.9 693.36,513.1 693.97,543.6 694.59,634.4 695.21,737.8 695.82,698.0 696.44,594.4 697.06,500.2 697.67,491.6 698.29,487.3 698.91,483.0 699.52,478.7 700.14,483.0 700.76,474.4 701.38,478.7 701.99,474.4 702.61,470.0 703.23,470.0 703.84,474.4 704.46,474.4 705.08,470.0 705.69,470.0 706.31,465.7 706.93,470.0 707.54,465.7 708.16,470.0 708.78,465.7 709.39,465.7 710.01,465.7 710.63,457.1 711.24,461.4 711.86,461.4 712.48,461.4 713.09,461.4 713.71,461.4 714.33,461.4 714.95,461.4 715.56,461.4 716.18,461.4 716.80,457.1 717.41,461.4 718.03,457.1 718.65,457.1 719.26,457.1 719.88,457.1 720.50,457.1 721.11,452.8 721.73,452.8 722.35,457.1 722.96,457.1 723.58,457.1 724.20,461.4 724.81,457.1 725.43,452.8 726.05,457.1 726.66,448.5 727.28,457.1 727.90,452.8 728.52,452.8 729.13,452.8 729.75,452.8 730.37,448.5 730.98,448.5 731.60,457.1 732.22,448.5 732.83,444.2 733.45,444.2 734.07,448.5 734.68,448.5 735.30,444.2 735.92,444.2 736.53,444.2 737.15,444.2 737.77,448.5 738.38,444.2 739.00,444.2 739.62,444.2 740.23,444.2 740.85,439.9 741.47,448.5 742.08,444.2 742.70,444.2 743.32,439.9 743.94,439.9 744.55,439.9 745.17,444.2 745.79,444.2 746.40,444.2 747.02,444.2 747.64,448.5 748.25,448.5 748.87,448.5 749.49,448.5 750.10,444.2 750.72,448.5 751.34,448.5 751.95,444.2 752.57,448.5 753.19,439.9 753.80,444.2 754.42,444.2 755.04,444.2 755.65,448.5 756.27,448.5 756.89,448.5 757.51,448.5 758.12,448.5 758.74,448.5 759.36,448.5 759.97,452.8 760.59,448.5 761.21,448.5 761.82,448.5 762.44,457.1 763.06,461.4 763.67,494.0 764.29,547.1 764.91,621.5 765.52,683.0 766.14,651.5 766.76,564.4 767.37,517.1 767.99,457.1 768.61,448.5 769.22,448.5 769.84,444.2 770.46,444.2 771.08,444.2 771.69,439.9 772.31,444.2 772.93,444.2 773.54,439.9 774.16,435.6 774.78,444.2 775.39,439.9 776.01,439.9 776.63,439.9 777.24,439.9 777.86,435.6 778.48,439.9 779.09,435.6 779.71,435.6 780.33,439.9 780.94,439.9 781.56,431.3 782.18,435.6 782.79,435.6 783.41,431.3 784.03,435.6 784.65,431.3 785.26,435.6 785.88,431.3 786.50,435.6 787.11,431.3 787.73,427.0 788.35,427.0 788.96,431.3 789.58,427.0 790.20,427.0 790.81,431.3 791.43,422.7 792.05,422.7 792.66,427.0 793.28,427.0 793.90,422.7 794.51,422.7 795.13,427.0 795.75,422.7 796.36,422.7 796.98,422.7 797.60,422.7 798.22,418.3 798.83,418.3 799.45,418.3 800.07,418.3 800.68,418.3 801.30,418.3 801.92,418.3 802.53,418.3 803.15,422.7 803.77,418.3 804.38,418.3 805.00,414.0 805.62,414.0 806.23,414.0 806.85,409.7 807.47,409.7 808.08,414.0 808.70,409.7 809.32,409.7 809.93,409.7 810.55,409.7 811.17,409.7 811.78,409.7 812.40,405.4 813.02,409.7 813.64,405.4 814.25,405.4 814.87,409.7 815.49,401.1 816.10,405.4 816.72,405.4 817.34,401.1 817.95,401.1 818.57,401.1 819.19,401.1 819.80,401.1 820.42,396.8 821.04,396.8 821.65,396.8 822.27,396.8 822.89,396.8 823.50,401.1 824.12,396.8 824.74,396.8 825.35,401.1 825.97,396.8 826.59,396.8 827.21,396.8 827.82,392.5 828.44,392.5 829.06,388.2 829.67,392.5 830.29,396.8 830.91,392.5 831.52,388.2 832.14,388.2 832.76,388.2 833.37,388.2 833.99,383.9 834.61,388.2 835.22,383.9 835.84,383.9 836.46,388.2 837.07,383.9 837.69,388.2 838.31,388.2 838.92,383.9 839.54,383.9 840.16,383.9 840.78,383.9 841.39,388.2 842.01,388.2 842.63,392.5 843.24,392.5 843.86,396.8 844.48,460.5 845.09,581.3 845.71,651.0 846.33,678.7 846.94,695.5 847.56,664.9 848.18,608.3 848.79,565.1 849.41,388.2 850.03,379.6 850.64,379.6 851.26,375.3 851.88,375.3 852.49,375.3 853.11,375.3 853.73,375.3 854.35,371.0 854.96,371.0 855.58,371.0 856.20,366.6 856.81,366.6 857.43,366.6 858.05,366.6 858.66,366.6 859.28,366.6 859.90,362.3 860.51,366.6 861.13,366.6 861.75,362.3 862.36,366.6 862.98,362.3 863.60,358.0 864.21,358.0 864.83,362.3 865.45,362.3 866.06,358.0 866.68,358.0 867.30,358.0 867.92,358.0 868.53,358.0 869.15,353.7 869.77,353.7 870.38,353.7 871.00,353.7 871.62,353.7 872.23,353.7 872.85,353.7 873.47,353.7 874.08,353.7 874.70,349.4 875.32,349.4 875.93,349.4 876.55,349.4 877.17,345.1 877.78,349.4 878.40,345.1 879.02,349.4 879.63,349.4 880.25,345.1 880.87,345.1 881.48,345.1 882.10,349.4 882.72,349.4 883.34,349.4 883.95,353.7 884.57,349.4 885.19,345.1 885.80,349.4 886.42,345.1 887.04,340.8 887.65,349.4 888.27,345.1 888.89,345.1 889.50,345.1 890.12,345.1 890.74,345.1 891.35,340.8 891.97,340.8 892.59,345.1 893.20,345.1 893.82,340.8 894.44,340.8 895.05,345.1 895.67,340.8 896.29,340.8 896.91,340.8 897.52,345.1 898.14,345.1 898.76,340.8 899.37,345.1 899.99,340.8 900.61,345.1 901.22,345.1 901.84,345.1 902.46,349.4 903.07,345.1 903.69,340.8 904.31,340.8 904.92,345.1 905.54,345.1 906.16,345.1 906.77,340.8 907.39,345.1 908.01,340.8 908.62,345.1 909.24,345.1 909.86,345.1 910.48,345.1 911.09,345.1 911.71,349.4 912.33,345.1 912.94,345.1 913.56,345.1 914.18,349.4 914.79,349.4 915.41,353.7 916.03,353.7 916.64,353.7 917.26,349.4 917.88,349.4 918.49,349.4 919.11,349.4 919.73,345.1 920.34,345.1 920.96,349.4 921.58,349.4 922.19,353.7 922.81,373.9 923.43,403.9 924.05,504.4 924.66,664.4 925.28,789.8 925.90,854.0 926.51,737.8 927.13,530.5 927.75,417.8 928.36,390.0 928.98,332.2 929.60,327.9 930.21,319.2 930.83,319.2 931.45,323.6 932.06,314.9 932.68,314.9 933.30,314.9 933.91,310.6 934.53,310.6 935.15,310.6 935.76,306.3 936.38,310.6 937.00,306.3 937.62,306.3 938.23,306.3 938.85,302.0 939.47,302.0 940.08,306.3 940.70,302.0 941.32,306.3 941.93,302.0 942.55,297.7 943.17,302.0 943.78,302.0 944.40,302.0 945.02,297.7 945.63,297.7 946.25,302.0 946.87,297.7 947.48,302.0 948.10,297.7 948.72,302.0 949.33,306.3 949.95,302.0 950.57,297.7 951.18,302.0 951.80,297.7 952.42,302.0 953.04,297.7 953.65,297.7 954.27,297.7 954.89,297.7 955.50,302.0 956.12,297.7 956.74,302.0 957.35,297.7 957.97,302.0 958.59,302.0 959.20,302.0 959.82,302.0 960.44,302.0 961.05,306.3 961.67,302.0 962.29,306.3 962.90,306.3 963.52,306.3 964.14,306.3 964.75,306.3 965.37,306.3 965.99,306.3 966.61,306.3 967.22,306.3 967.84,306.3 968.46,306.3 969.07,306.3 969.69,302.0 970.31,306.3 970.92,306.3 971.54,306.3 972.16,306.3 972.77,306.3 973.39,310.6 974.01,310.6 974.62,306.3 975.24,306.3 975.86,306.3 976.47,306.3 977.09,306.3 977.71,306.3 978.32,306.3 978.94,302.0 979.56,306.3 980.18,302.0 980.79,302.0 981.41,302.0 982.03,302.0 982.64,302.0 983.26,297.7 983.88,297.7 984.49,297.7 985.11,297.7 985.73,297.7 986.34,297.7 986.96,293.4 987.58,293.4 988.19,293.4 988.81,293.4 989.43,297.7 990.04,293.4 990.66,293.4 991.28,297.7 991.89,297.7 992.51,293.4 993.13,293.4 993.75,297.7 994.36,302.0 994.98,297.7 995.60,302.0 996.21,302.0 996.83,297.7 997.45,302.0 998.06,302.0 998.68,306.3 999.30,302.0 999.91,306.3 1000.53,306.3 1001.15,310.6 1001.76,310.6 1002.38,314.9 1003.00,323.6 1003.61,340.8 1004.23,373.9 1004.85,492.1 1005.46,793.5 1006.08,1077.7 1006.70,1022.2 1007.32,706.0 1007.93,457.0 1008.55,336.5 1009.17,319.2 1009.78,310.6 1010.40,302.0 1011.02,302.0 1011.63,297.7 1012.25,297.7 1012.87,297.7 1013.48,293.4 1014.10,293.4 1014.72,293.4 1015.33,293.4 1015.95,293.4 1016.57,289.1 1017.18,293.4 1017.80,284.8 1018.42,289.1 1019.03,289.1 1019.65,284.8 1020.27,289.1 1020.88,284.8 1021.50,284.8 1022.12,284.8 1022.74,284.8 1023.35,289.1 1023.97,284.8 1024.59,284.8 1025.20,289.1 1025.82,289.1 1026.44,284.8 1027.05,284.8 1027.67,284.8 1028.29,289.1 1028.90,289.1 1029.52,289.1 1030.14,289.1 1030.75,284.8 1031.37,289.1 1031.99,284.8 1032.60,289.1 1033.22,284.8 1033.84,284.8 1034.45,289.1 1035.07,284.8 1035.69,284.8 1036.31,284.8 1036.92,289.1 1037.54,289.1 1038.16,289.1 1038.77,284.8 1039.39,284.8 1040.01,289.1 1040.62,289.1 1041.24,289.1 1041.86,289.1 1042.47,289.1 1043.09,293.4 1043.71,293.4 1044.32,293.4 1044.94,293.4 1045.56,293.4 1046.17,293.4 1046.79,293.4 1047.41,293.4 1048.02,293.4 1048.64,297.7 1049.26,293.4 1049.88,293.4 1050.49,297.7 1051.11,297.7 1051.73,297.7 1052.34,297.7 1052.96,293.4 1053.58,297.7 1054.19,297.7 1054.81,297.7 1055.43,293.4 1056.04,297.7 1056.66,297.7 1057.28,297.7 1057.89,297.7 1058.51,297.7 1059.13,297.7 1059.74,297.7 1060.36,297.7 1060.98,293.4 1061.59,293.4 1062.21,297.7 1062.83,297.7 1063.45,293.4 1064.06,297.7 1064.68,297.7 1065.30,297.7 1065.91,297.7 1066.53,302.0 1067.15,302.0 1067.76,302.0 1068.38,297.7 1069.00,297.7 1069.61,297.7 1070.23,297.7 1070.85,297.7 1071.46,302.0 1072.08,297.7 1072.70,302.0 1073.31,297.7 1073.93,297.7 1074.55,302.0 1075.16,302.0 1075.78,302.0 1076.40,297.7 1077.02,297.7 1077.63,302.0 1078.25,302.0 1078.87,302.0 1079.48,302.0 1080.10,302.0 1080.72,306.3 1081.33,306.3 1081.95,306.3 1082.57,306.3 1083.18,310.6 1083.80,310.6 1084.42,314.9 1085.03,314.9 1085.65,323.6 1086.27,332.2 1086.88,353.7 1087.50,393.5 1088.12,521.7 1088.73,758.8 1089.35,802.5 1089.97,586.4 1090.58,413.2 1091.20,332.2 1091.82,323.6 1092.44,314.9 1093.05,310.6 1093.67,310.6 1094.29,306.3 1094.90,306.3 1095.52,302.0 1096.14,302.0 1096.75,302.0 1097.37,297.7 1097.99,302.0 1098.60,297.7 1099.22,297.7 1099.84,297.7 1100.45,297.7 1101.07,293.4 1101.69,293.4 1102.30,289.1 1102.92,289.1 1103.54,289.1 1104.15,289.1 1104.77,289.1 1105.39,289.1 1106.01,289.1 1106.62,289.1 1107.24,289.1 1107.86,284.8 1108.47,289.1 1109.09,289.1 1109.71,284.8 1110.32,289.1 1110.94,284.8 1111.56,284.8 1112.17,284.8 1112.79,280.5 1113.41,284.8 1114.02,284.8 1114.64,280.5 1115.26,280.5 1115.87,280.5 1116.49,280.5 1117.11,276.2 1117.72,280.5 1118.34,280.5 1118.96,276.2 1119.58,276.2 1120.19,276.2 1120.81,276.2 1121.43,271.9 1122.04,276.2 1122.66,276.2 1123.28,276.2 1123.89,276.2 1124.51,271.9 1125.13,271.9 1125.74,276.2 1126.36,276.2 1126.98,271.9 1127.59,271.9 1128.21,267.5 1128.83,271.9 1129.44,271.9 1130.06,271.9 1130.68,271.9 1131.29,271.9 1131.91,276.2 1132.53,271.9 1133.15,276.2 1133.76,276.2 1134.38,276.2 1135.00,276.2 1135.61,276.2 1136.23,280.5 1136.85,284.8 1137.46,280.5 1138.08,280.5 1138.70,276.2 1139.31,276.2 1139.93,271.9 1140.55,276.2 1141.16,276.2 1141.78,276.2 1142.40,276.2 1143.01,276.2 1143.63,276.2 1144.25,276.2 1144.86,276.2 1145.48,276.2 1146.10,280.5 1146.72,280.5 1147.33,271.9 1147.95,276.2 1148.57,280.5 1149.18,276.2 1149.80,280.5 1150.42,280.5 1151.03,280.5 1151.65,280.5 1152.27,280.5 1152.88,280.5 1153.50,276.2 1154.12,280.5 1154.73,280.5 1155.35,276.2 1155.97,276.2 1156.58,276.2 1157.20,280.5 1157.82,280.5 1158.43,284.8 1159.05,280.5 1159.67,289.1 1160.28,284.8 1160.90,284.8 1161.52,284.8 1162.14,284.8 1162.75,284.8 1163.37,289.1 1163.99,289.1 1164.60,289.1 1165.22,293.4 1165.84,293.4 1166.45,293.4 1167.07,297.7 1167.69,297.7 1168.30,302.0 1168.92,306.3 1169.54,314.9 1170.15,327.9 1170.77,357.7 1171.39,427.0 1172.00,629.8 1172.62,918.7 1173.24,867.2 1173.85,560.5 1174.47,401.6 1175.09,327.9 1175.71,310.6 1176.32,302.0 1176.94,293.4 1177.56,293.4 1178.17,293.4 1178.79,289.1 1179.41,293.4 1180.02,284.8 1180.64,284.8 1181.26,284.8 1181.87,284.8 1182.49,284.8 1183.11,280.5 1183.72,284.8 1184.34,280.5 1184.96,284.8 1185.57,276.2 1186.19,280.5 1186.81,280.5 1187.42,276.2 1188.04,276.2 1188.66,276.2 1189.28,280.5 1189.89,280.5 1190.51,276.2 1191.13,276.2 1191.74,276.2 1192.36,276.2 1192.98,276.2 1193.59,276.2 1194.21,271.9 1194.83,276.2 1195.44,271.9 1196.06,271.9 1196.68,271.9 1197.29,271.9 1197.91,276.2 1198.53,271.9 1199.14,271.9 1199.76,271.9 1200.38,271.9 1200.99,271.9 1201.61,271.9 1202.23,276.2 1202.85,271.9 1203.46,276.2 1204.08,271.9 1204.70,271.9 1205.31,276.2 1205.93,276.2 1206.55,276.2 1207.16,271.9 1207.78,271.9 1208.40,271.9 1209.01,271.9 1209.63,276.2 1210.25,271.9 1210.86,271.9 1211.48,267.5 1212.10,271.9 1212.71,271.9 1213.33,267.5 1213.95,271.9 1214.56,271.9 1215.18,271.9 1215.80,267.5 1216.42,267.5 1217.03,271.9 1217.65,267.5 1218.27,267.5 1218.88,267.5 1219.50,263.2 1220.12,263.2 1220.73,267.5 1221.35,263.2 1221.97,263.2 1222.58,267.5 1223.20,267.5 1223.82,263.2 1224.43,258.9 1225.05,263.2 1225.67,263.2 1226.28,267.5 1226.90,263.2 1227.52,267.5 1228.13,263.2 1228.75,263.2 1229.37,267.5 1229.98,267.5 1230.60,267.5 1231.22,263.2 1231.84,267.5 1232.45,263.2 1233.07,267.5 1233.69,267.5 1234.30,263.2 1234.92,267.5 1235.54,267.5 1236.15,267.5 1236.77,267.5 1237.39,267.5 1238.00,271.9 1238.62,267.5 1239.24,271.9 1239.85,271.9 1240.47,276.2 1241.09,267.5 1241.70,276.2 1242.32,276.2 1242.94,271.9 1243.55,271.9 1244.17,267.5 1244.79,267.5 1245.41,271.9 1246.02,271.9 1246.64,276.2 1247.26,271.9 1247.87,271.9 1248.49,276.2 1249.11,276.2 1249.72,276.2 1250.34,276.2 1250.96,276.2 1251.57,276.2 1252.19,276.2 1252.81,280.5 1253.42,289.1 1254.04,289.1 1254.66,297.7 1255.27,306.3 1255.89,337.0 1256.51,414.3 1257.12,603.7 1257.74,811.3 1258.36,698.8 1258.98,457.5 1259.59,355.4 1260.21,310.6 1260.83,297.7 1261.44,293.4 1262.06,289.1 1262.68,289.1 1263.29,289.1 1263.91,284.8 1264.53,284.8 1265.14,284.8 1265.76,284.8 1266.38,284.8 1266.99,284.8 1267.61,280.5 1268.23,284.8 1268.84,280.5 1269.46,280.5 1270.08,280.5 1270.69,284.8 1271.31,284.8 1271.93,284.8 1272.55,284.8 1273.16,284.8 1273.78,284.8 1274.40,280.5 1275.01,284.8 1275.63,280.5 1276.25,284.8 1276.86,280.5 1277.48,280.5 1278.10,284.8 1278.71,284.8 1279.33,284.8 1279.95,289.1 1280.56,284.8 1281.18,284.8 1281.80,280.5 1282.41,284.8 1283.03,280.5 1283.65,284.8 1284.26,289.1 1284.88,284.8 1285.50,284.8 1286.12,280.5 1286.73,284.8 1287.35,280.5 1287.97,284.8 1288.58,284.8 1289.20,280.5 1289.82,284.8 1290.43,284.8 1291.05,289.1 1291.67,284.8 1292.28,284.8 1292.90,289.1 1293.52,289.1 1294.13,289.1 1294.75,284.8 1295.37,293.4 1295.98,284.8 1296.60,289.1 1297.22,284.8 1297.83,284.8 1298.45,289.1 1299.07,284.8 1299.68,284.8 1300.30,284.8 1300.92,284.8 1301.54,289.1 1302.15,289.1 1302.77,289.1 1303.39,289.1 1304.00,289.1 1304.62,289.1 1305.24,289.1 1305.85,289.1 1306.47,293.4 1307.09,293.4 1307.70,289.1 1308.32,293.4 1308.94,289.1 1309.55,289.1 1310.17,289.1 1310.79,289.1 1311.40,293.4 1312.02,289.1 1312.64,289.1 1313.25,289.1 1313.87,289.1 1314.49,293.4 1315.11,289.1 1315.72,289.1 1316.34,289.1 1316.96,289.1 1317.57,289.1 1318.19,284.8 1318.81,289.1 1319.42,289.1 1320.04,284.8 1320.66,284.8 1321.27,284.8 1321.89,284.8 1322.51,280.5 1323.12,284.8 1323.74,284.8 1324.36,284.8 1324.97,280.5 1325.59,276.2 1326.21,280.5 1326.82,280.5 1327.44,280.5 1328.06,284.8 1328.68,280.5 1329.29,284.8 1329.91,280.5 1330.53,280.5 1331.14,280.5 1331.76,280.5 1332.38,280.5 1332.99,280.5 1333.61,280.5 1334.23,280.5 1334.84,280.5 1335.46,280.5 1336.08,280.5 1336.69,289.1 1337.31,284.8 1337.93,289.1 1338.54,284.8 1339.16,289.1 1339.78,284.8 1340.39,284.8 1341.01,289.1 1341.63,297.7 1342.25,306.3 1342.86,323.6 1343.48,370.0 1344.10,389.0 1344.71,479.0 1345.33,385.5 1345.95,306.3 1346.56,297.7 1347.18,297.7 1347.80,297.7 1348.41,293.4 1349.03,289.1 1349.65,293.4 1350.26,293.4 1350.88,289.1 1351.50,289.1 1352.11,293.4 1352.73,293.4 1353.35,289.1 1353.96,289.1 1354.58,284.8 1355.20,284.8 1355.82,289.1 1356.43,293.4 1357.05,289.1 1357.67,284.8 1358.28,289.1 1358.90,289.1 1359.52,289.1 1360.13,289.1 1360.75,289.1 1361.37,284.8 1361.98,280.5 1362.60,284.8 1363.22,289.1 1363.83,289.1 1364.45,289.1 1365.07,289.1 1365.68,293.4 1366.30,293.4 1366.92,293.4 1367.53,297.7 1368.15,293.4 1368.77,293.4 1369.38,297.7 1370.00,297.7 1370.62,297.7 1371.24,293.4 1371.85,297.7 1372.47,297.7 1373.09,293.4 1373.70,306.3 1374.32,297.7 1374.94,302.0 1375.55,302.0 1376.17,302.0 1376.79,302.0 1377.40,302.0 1378.02,297.7 1378.64,302.0 1379.25,302.0 1379.87,302.0 1380.49,302.0 1381.10,302.0 1381.72,302.0 1382.34,302.0 1382.95,302.0 1383.57,306.3 1384.19,302.0 1384.81,306.3 1385.42,302.0 1386.04,302.0 1386.66,302.0 1387.27,302.0 1387.89,302.0 1388.51,302.0 1389.12,297.7 1389.74,302.0 1390.36,297.7 1390.97,297.7 1391.59,297.7 1392.21,297.7 1392.82,297.7 1393.44,302.0 1394.06,297.7 1394.67,297.7 1395.29,302.0 1395.91,302.0 1396.52,306.3 1397.14,297.7 1397.76,302.0 1398.38,302.0 1398.99,302.0 1399.61,302.0 1400.23,302.0 1400.84,302.0 1401.46,302.0 1402.08,306.3 1402.69,302.0 1403.31,302.0 1403.93,306.3 1404.54,302.0 1405.16,306.3 1405.78,306.3 1406.39,310.6 1407.01,310.6 1407.63,310.6 1408.24,310.6 1408.86,310.6 1409.48,310.6 1410.09,310.6 1410.71,310.6 1411.33,314.9 1411.95,314.9 1412.56,310.6 1413.18,310.6 1413.80,314.9 1414.41,314.9 1415.03,319.2 1415.65,314.9 1416.26,319.2 1416.88,319.2 1417.50,314.9 1418.11,314.9 1418.73,319.2 1419.35,319.2 1419.96,319.2 1420.58,323.6 1421.20,323.6 1421.81,323.6 1422.43,327.9 1423.05,323.6 1423.66,327.9 1424.28,327.9 1424.90,323.6 1425.52,327.9 1426.13,327.9 1426.75,327.9 1427.37,323.6 1427.98,327.9 1428.60,332.2 1429.22,332.2 1429.83,332.2 1430.45,345.1 1431.07,353.7 1431.68,401.6 1432.30,427.0 1432.92,414.3 1433.53,349.4 1434.15,340.8 1434.77,340.8 1435.38,336.5 1436.00,336.5 1436.62,336.5 1437.23,332.2 1437.85,336.5 1438.47,336.5 1439.08,332.2 1439.70,332.2 1440.32,336.5 1440.94,336.5 1441.55,332.2 1442.17,332.2 1442.79,332.2 1443.40,332.2 1444.02,336.5 1444.64,327.9 1445.25,332.2 1445.87,327.9 1446.49,332.2 1447.10,332.2 1447.72,327.9 1448.34,332.2 1448.95,327.9 1449.57,327.9 1450.19,327.9 1450.80,332.2 1451.42,327.9 1452.04,327.9 1452.65,327.9 1453.27,327.9 1453.89,327.9 1454.51,327.9 1455.12,327.9 1455.74,323.6 1456.36,332.2 1456.97,323.6 1457.59,327.9 1458.21,323.6 1458.82,323.6 1459.44,323.6 1460.06,327.9 1460.67,323.6 1461.29,323.6 1461.91,327.9 1462.52,327.9 1463.14,323.6 1463.76,327.9 1464.37,323.6 1464.99,323.6 1465.61,323.6 1466.22,323.6 1466.84,323.6 1467.46,327.9 1468.08,327.9 1468.69,327.9 1469.31,327.9 1469.93,323.6 1470.54,327.9 1471.16,323.6 1471.78,327.9 1472.39,327.9 1473.01,332.2 1473.63,327.9 1474.24,327.9 1474.86,327.9 1475.48,327.9 1476.09,327.9 1476.71,327.9 1477.33,323.6 1477.94,327.9 1478.56,323.6 1479.18,332.2 1479.79,327.9 1480.41,327.9 1481.03,332.2 1481.65,332.2 1482.26,332.2 1482.88,332.2 1483.50,332.2 1484.11,332.2 1484.73,332.2 1485.35,332.2 1485.96,332.2 1486.58,332.2 1487.20,332.2 1487.81,336.5 1488.43,336.5 1489.05,336.5 1489.66,336.5 1490.28,336.5 1490.90,340.8 1491.51,340.8 1492.13,336.5 1492.75,336.5 1493.36,340.8 1493.98,345.1 1494.60,345.1 1495.22,340.8 1495.83,345.1 1496.45,349.4 1497.07,345.1 1497.68,345.1 1498.30,345.1 1498.92,345.1 1499.53,345.1 1500.15,345.1 1500.77,345.1 1501.38,349.4 1502.00,353.7 1502.62,349.4 1503.23,349.4 1503.85,353.7 1504.47,358.0 1505.08,349.4 1505.70,353.7 1506.32,353.7 1506.93,353.7 1507.55,353.7 1508.17,353.7 1508.78,353.7 1509.40,353.7 1510.02,353.7 1510.64,349.4 1511.25,353.7 1511.87,353.7 1512.49,353.7 1513.10,353.7 1513.72,353.7 1514.34,358.0 1514.95,358.0 1515.57,353.7 1516.19,358.0 1516.80,362.3 1517.42,362.3 1518.04,366.6 1518.65,366.6 1519.27,366.6 1519.89,375.3 1520.50,375.3 1521.12,383.9 1521.74,430.0 1522.35,465.5 1522.97,448.8 1523.59,388.2 1524.21,379.6 1524.82,371.0 1525.44,371.0 1526.06,371.0 1526.67,371.0 1527.29,366.6 1527.91,366.6 1528.52,362.3 1529.14,366.6 1529.76,366.6 1530.37,362.3 1530.99,366.6 1531.61,362.3 1532.22,371.0 1532.84,366.6 1533.46,371.0 1534.07,366.6 1534.69,366.6 1535.31,358.0 1535.92,362.3 1536.54,358.0 1537.16,358.0 1537.78,366.6 1538.39,366.6 1539.01,358.0 1539.63,362.3 1540.24,362.3 1540.86,358.0 1541.48,358.0 1542.09,358.0 1542.71,358.0 1543.33,358.0 1543.94,358.0 1544.56,358.0 1545.18,353.7 1545.79,358.0 1546.41,358.0 1547.03,353.7 1547.64,358.0 1548.26,353.7 1548.88,358.0 1549.49,358.0 1550.11,358.0 1550.73,353.7 1551.35,353.7 1551.96,353.7 1552.58,358.0 1553.20,353.7 1553.81,358.0 1554.43,358.0 1555.05,358.0 1555.66,353.7 1556.28,358.0 1556.90,358.0 1557.51,358.0 1558.13,358.0 1558.75,353.7 1559.36,362.3 1559.98,358.0 1560.60,358.0 1561.21,358.0 1561.83,358.0 1562.45,358.0 1563.06,353.7 1563.68,358.0 1564.30,358.0 1564.92,358.0 1565.53,358.0 1566.15,353.7 1566.77,358.0 1567.38,358.0 1568.00,358.0 1568.62,362.3 1569.23,362.3 1569.85,362.3 1570.47,362.3 1571.08,362.3 1571.70,362.3 1572.32,366.6 1572.93,362.3 1573.55,366.6 1574.17,366.6 1574.78,366.6 1575.40,371.0 1576.02,366.6 1576.63,366.6 1577.25,371.0 1577.87,371.0 1578.48,371.0 1579.10,375.3 1579.72,375.3 1580.34,371.0 1580.95,375.3 1581.57,375.3 1582.19,375.3 1582.80,375.3 1583.42,375.3 1584.04,383.9 1584.65,375.3 1585.27,383.9 1585.89,379.6 1586.50,379.6 1587.12,379.6 1587.74,375.3 1588.35,379.6 1588.97,379.6 1589.59,379.6 1590.20,379.6 1590.82,379.6 1591.44,379.6 1592.05,379.6 1592.67,379.6 1593.29,379.6 1593.91,383.9 1594.52,383.9 1595.14,379.6 1595.76,383.9 1596.37,379.6 1596.99,379.6 1597.61,379.6 1598.22,379.6 1598.84,383.9 1599.46,379.6 1600.07,383.9 1600.69,379.6 1601.31,379.6 1601.92,379.6 1602.54,383.9 1603.16,383.9 1603.77,383.9 1604.39,379.6 1605.01,383.9 1605.62,383.9 1606.24,383.9 1606.86,379.6 1607.48,383.9 1608.09,383.9 1608.71,383.9 1609.33,383.9 1609.94,383.9 1610.56,383.9 1611.18,470.0 1611.79,508.8 1612.41,560.5 1613.03,599.3 1613.64,573.5 1614.26,521.8 1614.88,478.7 1615.49,388.2 1616.11,388.2 1616.73,388.2 1617.34,500.2 1617.96,620.8 1618.58,732.9 1619.19,797.5 1619.81,832.0 1620.43,767.3 1621.05,633.8 1621.66,539.0 1622.28,435.6 1622.90,439.9 1623.51,439.9 1624.13,444.2 1624.75,439.9 1625.36,439.9 1625.98,470.0 1626.60,599.3 1627.21,780.3 1627.83,698.4 1628.45,521.8 1629.06,439.9 1629.68,435.6 1630.30,431.3 1630.91,431.3 1631.53,478.7 1632.15,651.0 1632.76,823.4 1633.38,991.4 1634.00,905.2 1634.62,758.7 1635.23,539.0 1635.85,431.3 1636.47,427.0 1637.08,427.0 1637.70,422.7 1638.32,422.7 1638.93,422.7 1639.55,422.7 1640.17,470.0 1640.78,620.8 1641.40,780.3 1642.02,823.4 1642.63,732.9 1643.25,521.8 1643.87,422.7 1644.48,418.3 1645.10,422.7 1645.72,422.7 1646.33,422.7 1646.95,418.3 1647.57,422.7 1648.18,427.0 1648.80,465.7 1649.42,599.3 1650.04,741.5 1650.65,685.5 1651.27,508.8 1651.89,418.3 1652.50,422.7 1653.12,422.7 1653.74,418.3 1654.35,422.7 1654.97,418.3 1655.59,422.7 1656.20,422.7 1656.82,418.3 1657.44,418.3 1658.05,418.3 1658.67,461.4 1659.29,590.7 1659.90,719.9 1660.52,659.6 1661.14,504.5 1661.75,422.7 1662.37,422.7 1662.99,422.7 1663.61,427.0 1664.22,422.7 1664.84,431.3 1665.46,422.7 1666.07,422.7 1666.69,422.7 1667.31,422.7 1667.92,422.7 1668.54,457.1 1669.16,539.0 1669.77,577.8 1670.39,500.2 1671.01,422.7 1671.62,422.7 1672.24,427.0 1672.86,422.7 1673.47,422.7 1674.09,418.3 1674.71,422.7 1675.32,422.7 1675.94,422.7 1676.56,448.5 1677.18,483.0 1677.79,470.0 1678.41,427.0 1679.03,422.7 1679.64,422.7 1680.26,422.7 1680.88,427.0 1681.49,427.0 1682.11,427.0 1682.73,431.3 1683.34,431.3 1683.96,427.0 1684.58,427.0 1685.19,431.3 1685.81,422.7 1686.43,427.0 1687.04,427.0 1687.66,431.3 1688.28,427.0 1688.89,427.0 1689.51,427.0 1690.13,427.0 1690.75,431.3 1691.36,427.0 1691.98,427.0 1692.60,427.0 1693.21,427.0 1693.83,431.3 1694.45,431.3 1695.06,427.0 1695.68,431.3 1696.30,435.6 1696.91,431.3 1697.53,431.3 1698.15,435.6 1698.76,431.3 1699.38,435.6 1700.00,439.9 1700.61,439.9 1701.23,444.2 1701.85,457.1 1702.46,470.0 1703.08,457.1 1703.70,448.5 1704.32,444.2 1704.93,444.2 1705.55,439.9 1706.17,448.5 1706.78,444.2 1707.40,444.2 1708.02,448.5 1708.63,444.2 1709.25,444.2 1709.87,448.5 1710.48,448.5 1711.10,448.5 1711.72,444.2 1712.33,444.2 1712.95,444.2 1713.57,444.2 1714.18,448.5 1714.80,444.2 1715.42,444.2 1716.03,444.2 1716.65,444.2 1717.27,448.5 1717.88,448.5 1718.50,457.1 1719.12,468.0 1719.74,461.4 1720.35,448.5 1720.97,448.5 1721.59,448.5 1722.20,448.5 1722.82,444.2 1723.44,448.5 1724.05,448.5 1724.67,448.5 1725.29,448.5 1725.90,448.5 1726.52,448.5 1727.14,448.5 1727.75,448.5 1728.37,448.5 1728.99,448.5 1729.60,452.8 1730.22,448.5 1730.84,448.5 1731.45,448.5 1732.07,457.1 1732.69,448.5 1733.31,448.5 1733.92,452.8 1734.54,448.5 1735.16,452.8 1735.77,448.5 1736.39,452.8 1737.01,448.5 1737.62,448.5 1738.24,452.8 1738.86,452.8 1739.47,457.1 1740.09,457.1 1740.71,457.1 1741.32,457.1 1741.94,461.4 1742.56,465.7 1743.17,461.4 1743.79,465.7 1744.41,470.0 1745.02,465.7 1745.64,465.7 1746.26,470.0 1746.88,470.0 1747.49,465.7 1748.11,470.0 1748.73,470.0 1749.34,465.7 1749.96,470.0 1750.58,470.0 1751.19,474.4 1751.81,470.0 1752.43,470.0 1753.04,470.0 1753.66,474.4 1754.28,470.0 1754.89,474.4 1755.51,474.4 1756.13,474.4 1756.74,474.4 1757.36,478.7 1757.98,474.4 1758.59,474.4 1759.21,478.7 1759.83,474.4 1760.45,474.4 1761.06,478.7 1761.68,478.7 1762.30,478.7 1762.91,483.0 1763.53,487.3 1764.15,478.7 1764.76,487.3 1765.38,483.0 1766.00,483.0 1766.61,483.0 1767.23,483.0 1767.85,487.3 1768.46,483.0 1769.08,483.0 1769.70,483.0 1770.31,487.3 1770.93,495.9 1771.55,491.6 1772.16,491.6 1772.78,487.3 1773.40,491.6 1774.02,495.9 1774.63,495.9 1775.25,495.9 1775.87,495.9 1776.48,500.2 1777.10,495.9 1777.72,500.2 1778.33,504.5 1778.95,504.5 1779.57,508.8 1780.18,500.2 1780.80,504.5 1781.42,504.5 1782.03,504.5 1782.65,504.5 1783.27,504.5 1783.88,504.5 1784.50,513.1 1785.12,508.8 1785.73,504.5 1786.35,513.1 1786.97,508.8 1787.58,513.1 1788.20,513.1 1788.82,513.1 1789.44,508.8 1790.05,508.8 1790.67,517.4 1791.29,513.1 1791.90,513.1 1792.52,513.1 1793.14,517.4 1793.75,517.4 1794.37,513.1 1794.99,517.4 1795.60,517.4 1796.22,521.8 1796.84,521.8 1797.45,521.8 1798.07,530.4 1798.69,534.7 1799.30,560.5 1799.92,583.2 1800.54,599.4 1801.15,539.0 1801.77,530.4 1802.39,530.4 1803.01,530.4 1803.62,526.1 1804.24,530.4 1804.86,526.1 1805.47,530.4 1806.09,530.4 1806.71,530.4 1807.32,534.7 1807.94,530.4 1808.56,530.4 1809.17,534.7 1809.79,530.4 1810.41,530.4 1811.02,534.7 1811.64,534.7 1812.26,534.7 1812.87,534.7 1813.49,530.4 1814.11,534.7 1814.72,534.7 1815.34,539.0 1815.96,534.7 1816.58,539.0 1817.19,539.0 1817.81,539.0 1818.43,539.0 1819.04,539.0 1819.66,543.3 1820.28,539.0 1820.89,539.0 1821.51,543.3 1822.13,543.3 1822.74,543.3 1823.36,547.6 1823.98,547.6 1824.59,547.6 1825.21,547.6 1825.83,547.6 1826.44,556.2 1827.06,543.3 1827.68,547.6 1828.29,547.6 1828.91,547.6 1829.53,547.6 1830.15,547.6 1830.76,551.9 1831.38,556.2 1832.00,547.6 1832.61,551.9 1833.23,551.9 1833.85,556.2 1834.46,556.2 1835.08,556.2 1835.70,556.2 1836.31,556.2 1836.93,560.5 1837.55,560.5 1838.16,560.5 1838.78,560.5 1839.40,560.5 1840.01,560.5 1840.63,564.8 1841.25,564.8 1841.86,564.8 1842.48,560.5 1843.10,560.5 1843.72,564.8 1844.33,573.5 1844.95,569.1 1845.57,573.5 1846.18,569.1 1846.80,569.1 1847.42,569.1 1848.03,573.5 1848.65,573.5 1849.27,573.5 1849.88,569.1 1850.50,569.1 1851.12,577.8 1851.73,573.5 1852.35,577.8 1852.97,573.5 1853.58,577.8 1854.20,577.8 1854.82,573.5 1855.43,573.5 1856.05,577.8 1856.67,586.4 1857.28,582.1 1857.90,582.1 1858.52,577.8 1859.14,582.1 1859.75,582.1 1860.37,586.4 1860.99,590.7 1861.60,582.1 1862.22,582.1 1862.84,582.1 1863.45,586.4 1864.07,590.7 1864.69,586.4 1865.30,590.7 1865.92,586.4 1866.54,590.7 1867.15,595.0 1867.77,595.0 1868.39,590.7 1869.00,590.7 1869.62,590.7 1870.24,595.0 1870.85,595.0 1871.47,595.0 1872.09,595.0 1872.71,599.3 1873.32,599.3 1873.94,599.3 1874.56,599.3 1875.17,599.3 1875.79,595.0 1876.41,595.0 1877.02,603.6 1877.64,599.3 1878.26,603.6 1878.87,603.6 1879.49,603.6 1880.11,603.6 1880.72,599.3 1881.34,599.3 1881.96,599.3 1882.57,603.6 1883.19,603.6 1883.81,599.3 1884.42,599.3 1885.04,599.3 1885.66,603.6 1886.28,599.3 1886.89,603.6 1887.51,607.9 1888.13,603.6 1888.74,603.6 1889.36,607.9 1889.98,612.2 1890.59,616.5 1891.21,616.5 1891.83,625.2 1892.44,625.2 1893.06,638.1 1893.68,659.6 1894.29,716.0 1894.91,815.1 1895.53,849.7 1896.14,741.8 1896.76,646.7 1897.38,638.1 1897.99,633.8 1898.61,629.5 1899.23,629.5 1899.85,629.5 1900.46,629.5 1901.08,629.5 1901.70,633.8 1902.31,629.5 1902.93,629.5 1903.55,629.5 1904.16,633.8 1904.78,633.8 1905.40,633.8 1906.01,638.1 1906.63,638.1 1907.25,638.1 1907.86,642.4 1908.48,633.8 1909.10,633.8 1909.71,638.1 1910.33,638.1 1910.95,638.1 1911.56,642.4 1912.18,646.7 1912.80,642.4 1913.42,642.4 1914.03,642.4 1914.65,642.4 1915.27,642.4 1915.88,642.4 1916.50,646.7 1917.12,651.0 1917.73,646.7 1918.35,651.0 1918.97,646.7 1919.58,651.0 1920.20,651.0 1920.82,646.7 1921.43,651.0 1922.05,651.0 1922.67,651.0 1923.28,655.3 1923.90,655.3 1924.52,659.6 1925.13,655.3 1925.75,663.9 1926.37,668.2 1926.98,668.2 1927.60,668.2 1928.22,668.2 1928.84,668.2 1929.45,668.2 1930.07,676.9 1930.69,676.9 1931.30,676.9 1931.92,681.2 1932.54,676.9 1933.15,676.9 1933.77,681.2 1934.39,681.2 1935.00,676.9 1935.62,676.9 1936.24,681.2 1936.85,676.9 1937.47,676.9 1938.09,681.2 1938.70,685.5 1939.32,681.2 1939.94,689.8 1940.55,685.5 1941.17,681.2 1941.79,685.5 1942.41,689.8 1943.02,689.8 1943.64,689.8 1944.26,694.1 1944.87,689.8 1945.49,689.8 1946.11,694.1 1946.72,694.1 1947.34,689.8 1947.96,689.8 1948.57,698.4 1949.19,694.1 1949.81,702.7 1950.42,702.7 1951.04,702.7 1951.66,702.7 1952.27,702.7 1952.89,702.7 1953.51,707.0 1954.12,702.7 1954.74,707.0 1955.36,711.3 1955.98,707.0 1956.59,707.0 1957.21,702.7 1957.83,707.0 1958.44,711.3 1959.06,707.0 1959.68,707.0 1960.29,711.3 1960.91,711.3 1961.53,711.3 1962.14,711.3 1962.76,719.9 1963.38,711.3 1963.99,719.9 1964.61,715.6 1965.23,719.9 1965.84,719.9 1966.46,719.9 1967.08,719.9 1967.69,719.9 1968.31,719.9 1968.93,719.9 1969.55,724.3 1970.16,724.3 1970.78,724.3 1971.40,719.9 1972.01,732.9 1972.63,724.3 1973.25,728.6 1973.86,728.6 1974.48,732.9 1975.10,732.9 1975.71,728.6 1976.33,732.9 1976.95,737.2 1977.56,732.9 1978.18,741.5 1978.80,732.9 1979.41,737.2 1980.03,737.2 1980.65,737.2 1981.26,737.2 1981.88,737.2 1982.50,745.8 1983.12,745.8 1983.73,741.5 1984.35,745.8 1984.97,745.8 1985.58,750.1 1986.20,750.1 1986.82,750.1 1987.43,758.7 1988.05,758.7 1988.67,763.0 1989.28,771.6 1989.90,784.6 1990.52,835.7 1991.13,936.0 1991.75,1064.9 1992.37,1000.6 1992.98,871.7 1993.60,793.2 1994.22,784.6 1994.83,780.3 1995.45,776.0 1996.07,776.0 1996.68,771.6 1997.30,771.6 1997.92,776.0 1998.54,776.0 1999.15,776.0 1999.77,780.3 2000.39,780.3 2001.00,780.3 2001.62,776.0 2002.24,780.3 2002.85,776.0 2003.47,788.9 2004.09,780.3 2004.70,780.3 2005.32,784.6 2005.94,784.6 2006.55,780.3 2007.17,784.6 2007.79,784.6 2008.40,788.9 2009.02,784.6 2009.64,784.6 2010.25,788.9 2010.87,788.9 2011.49,788.9 2012.11,793.2 2012.72,793.2 2013.34,788.9 2013.96,793.2 2014.57,788.9 2015.19,793.2 2015.81,793.2 2016.42,797.5 2017.04,793.2 2017.66,793.2 2018.27,797.5 2018.89,793.2 2019.51,793.2 2020.12,793.2 2020.74,793.2 2021.36,797.5 2021.97,797.5 2022.59,797.5 2023.21,797.5 2023.82,797.5 2024.44,801.8 2025.06,801.8 2025.68,801.8 2026.29,806.1 2026.91,801.8 2027.53,797.5 2028.14,806.1 2028.76,806.1 2029.38,806.1 2029.99,801.8 2030.61,801.8 2031.23,801.8 2031.84,810.4 2032.46,806.1 2033.08,810.4 2033.69,806.1 2034.31,810.4 2034.93,810.4 2035.54,810.4 2036.16,814.7 2036.78,814.7 2037.39,823.4 2038.01,819.0 2038.63,819.0 2039.25,823.4 2039.86,827.7 2040.48,827.7 2041.10,836.3 2041.71,827.7 2042.33,827.7 2042.95,832.0 2043.56,832.0 2044.18,832.0 2044.80,836.3 2045.41,840.6 2046.03,836.3 2046.65,840.6 2047.26,844.9 2047.88,840.6 2048.50,840.6 2049.11,844.9 2049.73,840.6 2050.35,844.9 2050.96,849.2 2051.58,853.5 2052.20,849.2 2052.82,853.5 2053.43,853.5 2054.05,853.5 2054.67,853.5 2055.28,857.8 2055.90,862.1 2056.52,862.1 2057.13,862.1 2057.75,866.4 2058.37,862.1 2058.98,866.4 2059.60,866.4 2060.22,866.4 2060.83,866.4 2061.45,866.4 2062.07,870.7 2062.68,875.1 2063.30,870.7 2063.92,875.1 2064.53,870.7 2065.15,870.7 2065.77,870.7 2066.38,879.4 2067.00,875.1 2067.62,879.4 2068.24,879.4 2068.85,879.4 2069.47,883.7"/>
<polyline stroke="#00bfbf" stroke-width="3.1" marker-start="url(#kP)" marker-mid="url(#kP)" marker-end="url(#kP)" points="219.03,879.4 219.64,883.7 220.26,879.4 220.88,875.1 221.49,879.4 222.11,879.4 222.73,875.1 223.34,875.1 223.96,875.1 224.58,870.7 225.19,875.1 225.81,866.4 226.43,870.7 227.05,866.4 227.66,870.7 228.28,870.7 228.90,866.4 229.51,866.4 230.13,870.7 230.75,862.1 231.36,866.4 231.98,866.4 232.60,857.8 233.21,862.1 233.83,853.5 234.45,857.8 235.06,857.8 235.68,862.1 236.30,857.8 236.91,849.2 237.53,853.5 238.15,853.5 238.76,853.5 239.38,849.2 240.00,849.2 240.62,849.2 241.23,853.5 241.85,849.2 242.47,844.9 243.08,844.9 243.70,844.9 244.32,844.9 244.93,844.9 245.55,840.6 246.17,844.9 246.78,836.3 247.40,836.3 248.02,840.6 248.63,840.6 249.25,836.3 249.87,836.3 250.48,840.6 251.10,840.6 251.72,836.3 252.33,836.3 252.95,836.3 253.57,836.3 254.18,832.0 254.80,832.0 255.42,836.3 256.04,832.0 256.65,827.7 257.27,832.0 257.89,832.0 258.50,827.7 259.12,827.7 259.74,827.7 260.35,827.7 260.97,832.0 261.59,827.7 262.20,827.7 262.82,823.4 263.44,823.4 264.05,823.4 264.67,823.4 265.29,819.0 265.90,823.4 266.52,827.7 267.14,823.4 267.75,823.4 268.37,823.4 268.99,823.4 269.61,814.7 270.22,819.0 270.84,814.7 271.46,819.0 272.07,819.0 272.69,814.7 273.31,814.7 273.92,814.7 274.54,814.7 275.16,814.7 275.77,810.4 276.39,810.4 277.01,810.4 277.62,814.7 278.24,806.1 278.86,810.4 279.47,806.1 280.09,806.1 280.71,806.1 281.32,810.4 281.94,810.4 282.56,806.1 283.18,806.1 283.79,806.1 284.41,806.1 285.03,801.8 285.64,801.8 286.26,806.1 286.88,797.5 287.49,797.5 288.11,806.1 288.73,801.8 289.34,806.1 289.96,801.8 290.58,797.5 291.19,797.5 291.81,797.5 292.43,797.5 293.04,797.5 293.66,793.2 294.28,801.8 294.89,793.2 295.51,793.2 296.13,793.2 296.75,793.2 297.36,793.2 297.98,793.2 298.60,793.2 299.21,793.2 299.83,793.2 300.45,788.9 301.06,784.6 301.68,793.2 302.30,788.9 302.91,788.9 303.53,788.9 304.15,788.9 304.76,784.6 305.38,788.9 306.00,784.6 306.61,788.9 307.23,784.6 307.85,780.3 308.46,780.3 309.08,784.6 309.70,780.3 310.32,780.3 310.93,780.3 311.55,780.3 312.17,780.3 312.78,780.3 313.40,780.3 314.02,784.6 314.63,780.3 315.25,784.6 315.87,780.3 316.48,780.3 317.10,780.3 317.72,776.0 318.33,776.0 318.95,767.3 319.57,776.0 320.18,771.6 320.80,767.3 321.42,771.6 322.03,771.6 322.65,763.0 323.27,771.6 323.88,763.0 324.50,763.0 325.12,763.0 325.74,758.7 326.35,758.7 326.97,758.7 327.59,767.3 328.20,754.4 328.82,758.7 329.44,763.0 330.05,754.4 330.67,754.4 331.29,763.0 331.90,758.7 332.52,763.0 333.14,767.3 333.75,758.7 334.37,758.7 334.99,758.7 335.60,758.7 336.22,758.7 336.84,767.3 337.45,758.7 338.07,758.7 338.69,754.4 339.31,763.0 339.92,754.4 340.54,754.4 341.16,758.7 341.77,754.4 342.39,754.4 343.01,758.7 343.62,754.4 344.24,754.4 344.86,750.1 345.47,754.4 346.09,754.4 346.71,754.4 347.32,754.4 347.94,758.7 348.56,750.1 349.17,750.1 349.79,754.4 350.41,750.1 351.02,750.1 351.64,750.1 352.26,754.4 352.88,745.8 353.49,745.8 354.11,745.8 354.73,750.1 355.34,745.8 355.96,750.1 356.58,745.8 357.19,741.5 357.81,745.8 358.43,750.1 359.04,745.8 359.66,745.8 360.28,745.8 360.89,741.5 361.51,741.5 362.13,741.5 362.74,741.5 363.36,737.2 363.98,741.5 364.59,741.5 365.21,741.5 365.83,741.5 366.45,741.5 367.06,741.5 367.68,741.5 368.30,737.2 368.91,745.8 369.53,741.5 370.15,741.5 370.76,741.5 371.38,737.2 372.00,741.5 372.61,737.2 373.23,732.9 373.85,741.5 374.46,732.9 375.08,737.2 375.70,737.2 376.31,741.5 376.93,732.9 377.55,732.9 378.16,732.9 378.78,732.9 379.40,732.9 380.02,728.6 380.63,732.9 381.25,728.6 381.87,728.6 382.48,728.6 383.10,728.6 383.72,728.6 384.33,724.3 384.95,728.6 385.57,728.6 386.18,728.6 386.80,728.6 387.42,728.6 388.03,724.3 388.65,719.9 389.27,724.3 389.88,724.3 390.50,724.3 391.12,724.3 391.73,728.6 392.35,724.3 392.97,724.3 393.58,724.3 394.20,724.3 394.82,719.9 395.44,724.3 396.05,724.3 396.67,724.3 397.29,719.9 397.90,719.9 398.52,724.3 399.14,719.9 399.75,719.9 400.37,724.3 400.99,719.9 401.60,719.9 402.22,719.9 402.84,715.6 403.45,715.6 404.07,719.9 404.69,719.9 405.30,724.3 405.92,715.6 406.54,715.6 407.15,715.6 407.77,719.9 408.39,715.6 409.01,711.3 409.62,715.6 410.24,711.3 410.86,707.0 411.47,711.3 412.09,711.3 412.71,707.0 413.32,707.0 413.94,707.0 414.56,707.0 415.17,715.6 415.79,711.3 416.41,702.7 417.02,707.0 417.64,707.0 418.26,707.0 418.87,702.7 419.49,711.3 420.11,702.7 420.72,698.4 421.34,698.4 421.96,698.4 422.58,698.4 423.19,698.4 423.81,698.4 424.43,702.7 425.04,698.4 425.66,698.4 426.28,698.4 426.89,702.7 427.51,707.0 428.13,698.4 428.74,694.1 429.36,694.1 429.98,694.1 430.59,694.1 431.21,694.1 431.83,694.1 432.44,698.4 433.06,694.1 433.68,694.1 434.29,694.1 434.91,694.1 435.53,694.1 436.15,694.1 436.76,694.1 437.38,689.8 438.00,685.5 438.61,689.8 439.23,689.8 439.85,689.8 440.46,689.8 441.08,685.5 441.70,685.5 442.31,694.1 442.93,685.5 443.55,689.8 444.16,689.8 444.78,689.8 445.40,685.5 446.01,685.5 446.63,685.5 447.25,681.2 447.86,685.5 448.48,685.5 449.10,681.2 449.72,681.2 450.33,689.8 450.95,676.9 451.57,681.2 452.18,681.2 452.80,681.2 453.42,681.2 454.03,676.9 454.65,672.6 455.27,672.6 455.88,676.9 456.50,672.6 457.12,676.9 457.73,672.6 458.35,676.9 458.97,663.9 459.58,668.2 460.20,668.2 460.82,668.2 461.43,668.2 462.05,668.2 462.67,668.2 463.28,668.2 463.90,672.6 464.52,672.6 465.14,672.6 465.75,668.2 466.37,672.6 466.99,672.6 467.60,676.9 468.22,676.9 468.84,698.6 469.45,715.9 470.07,706.9 470.69,672.6 471.30,672.6 471.92,668.2 472.54,663.9 473.15,663.9 473.77,668.2 474.39,663.9 475.00,663.9 475.62,663.9 476.24,659.6 476.85,663.9 477.47,663.9 478.09,655.3 478.71,655.3 479.32,655.3 479.94,655.3 480.56,651.0 481.17,651.0 481.79,651.0 482.41,646.7 483.02,646.7 483.64,651.0 484.26,655.3 484.87,646.7 485.49,651.0 486.11,646.7 486.72,646.7 487.34,651.0 487.96,646.7 488.57,646.7 489.19,646.7 489.81,651.0 490.42,646.7 491.04,646.7 491.66,642.4 492.28,646.7 492.89,646.7 493.51,642.4 494.13,642.4 494.74,638.1 495.36,638.1 495.98,638.1 496.59,642.4 497.21,638.1 497.83,638.1 498.44,638.1 499.06,633.8 499.68,633.8 500.29,638.1 500.91,638.1 501.53,638.1 502.14,633.8 502.76,633.8 503.38,633.8 503.99,633.8 504.61,633.8 505.23,633.8 505.85,629.5 506.46,629.5 507.08,633.8 507.70,633.8 508.31,633.8 508.93,633.8 509.55,638.1 510.16,633.8 510.78,633.8 511.40,629.5 512.01,629.5 512.63,629.5 513.25,629.5 513.86,629.5 514.48,633.8 515.10,629.5 515.71,629.5 516.33,629.5 516.95,629.5 517.56,625.2 518.18,629.5 518.80,629.5 519.42,625.2 520.03,629.5 520.65,629.5 521.27,629.5 521.88,629.5 522.50,629.5 523.12,625.2 523.73,625.2 524.35,633.8 524.97,625.2 525.58,620.8 526.20,625.2 526.82,620.8 527.43,620.8 528.05,620.8 528.67,620.8 529.28,625.2 529.90,625.2 530.52,620.8 531.13,620.8 531.75,620.8 532.37,625.2 532.98,620.8 533.60,616.5 534.22,620.8 534.84,616.5 535.45,620.8 536.07,616.5 536.69,616.5 537.30,616.5 537.92,616.5 538.54,616.5 539.15,616.5 539.77,616.5 540.39,620.8 541.00,620.8 541.62,643.1 542.24,655.6 542.85,672.9 543.47,694.4 544.09,715.9 544.70,680.6 545.32,659.8 545.94,647.6 546.55,616.5 547.17,612.2 547.79,612.2 548.41,607.9 549.02,607.9 549.64,603.6 550.26,607.9 550.87,607.9 551.49,603.6 552.11,603.6 552.72,599.3 553.34,599.3 553.96,599.3 554.57,599.3 555.19,599.3 555.81,599.3 556.42,603.6 557.04,599.3 557.66,607.9 558.27,599.3 558.89,603.6 559.51,595.0 560.12,603.6 560.74,603.6 561.36,599.3 561.98,599.3 562.59,599.3 563.21,599.3 563.83,599.3 564.44,599.3 565.06,595.0 565.68,599.3 566.29,603.6 566.91,599.3 567.53,599.3 568.14,599.3 568.76,595.0 569.38,603.6 569.99,599.3 570.61,603.6 571.23,603.6 571.84,599.3 572.46,599.3 573.08,599.3 573.69,599.3 574.31,595.0 574.93,599.3 575.55,599.3 576.16,599.3 576.78,603.6 577.40,595.0 578.01,599.3 578.63,599.3 579.25,599.3 579.86,590.7 580.48,595.0 581.10,595.0 581.71,595.0 582.33,590.7 582.95,590.7 583.56,590.7 584.18,586.4 584.80,586.4 585.41,586.4 586.03,586.4 586.65,582.1 587.26,582.1 587.88,577.8 588.50,582.1 589.12,577.8 589.73,577.8 590.35,577.8 590.97,577.8 591.58,573.5 592.20,573.5 592.82,573.5 593.43,573.5 594.05,577.8 594.67,569.1 595.28,573.5 595.90,569.1 596.52,569.1 597.13,569.1 597.75,569.1 598.37,569.1 598.98,569.1 599.60,569.1 600.22,569.1 600.83,564.8 601.45,573.5 602.07,564.8 602.68,569.1 603.30,564.8 603.92,564.8 604.54,564.8 605.15,569.1 605.77,564.8 606.39,569.1 607.00,564.8 607.62,569.1 608.24,569.1 608.85,569.1 609.47,564.8 610.09,569.1 610.70,564.8 611.32,564.8 611.94,569.1 612.55,564.8 613.17,569.1 613.79,564.8 614.40,569.1 615.02,569.1 615.64,564.8 616.25,569.1 616.87,564.8 617.49,569.1 618.11,593.3 618.72,608.5 619.34,626.5 619.96,638.3 620.57,630.0 621.19,621.0 621.81,600.2 622.42,564.8 623.04,560.5 623.66,560.5 624.27,560.5 624.89,564.8 625.51,560.5 626.12,560.5 626.74,560.5 627.36,560.5 627.97,556.2 628.59,556.2 629.21,551.9 629.82,560.5 630.44,556.2 631.06,556.2 631.68,551.9 632.29,551.9 632.91,551.9 633.53,560.5 634.14,556.2 634.76,556.2 635.38,556.2 635.99,551.9 636.61,551.9 637.23,556.2 637.84,556.2 638.46,556.2 639.08,551.9 639.69,556.2 640.31,551.9 640.93,560.5 641.54,556.2 642.16,551.9 642.78,556.2 643.39,551.9 644.01,556.2 644.63,560.5 645.25,556.2 645.86,551.9 646.48,556.2 647.10,551.9 647.71,551.9 648.33,551.9 648.95,551.9 649.56,547.6 650.18,547.6 650.80,547.6 651.41,547.6 652.03,547.6 652.65,547.6 653.26,547.6 653.88,547.6 654.50,547.6 655.11,547.6 655.73,547.6 656.35,547.6 656.96,547.6 657.58,547.6 658.20,543.3 658.82,551.9 659.43,551.9 660.05,551.9 660.67,543.3 661.28,547.6 661.90,547.6 662.52,547.6 663.13,551.9 663.75,551.9 664.37,547.6 664.98,547.6 665.60,547.6 666.22,547.6 666.83,547.6 667.45,547.6 668.07,543.3 668.68,543.3 669.30,543.3 669.92,539.0 670.53,543.3 671.15,543.3 671.77,539.0 672.38,539.0 673.00,543.3 673.62,543.3 674.24,539.0 674.85,534.7 675.47,539.0 676.09,534.7 676.70,534.7 677.32,530.4 677.94,530.4 678.55,526.1 679.17,530.4 679.79,530.4 680.40,534.7 681.02,530.4 681.64,530.4 682.25,530.4 682.87,526.1 683.49,526.1 684.10,521.8 684.72,521.8 685.34,530.4 685.95,526.1 686.57,521.8 687.19,526.1 687.81,526.1 688.42,526.1 689.04,526.1 689.66,526.1 690.27,526.1 690.89,526.1 691.51,530.4 692.12,534.7 692.74,543.6 693.36,573.2 693.97,669.0 694.59,806.6 695.21,854.0 695.82,810.1 696.44,725.1 697.06,608.3 697.67,551.7 698.29,526.1 698.91,521.8 699.52,517.4 700.14,517.4 700.76,513.1 701.38,513.1 701.99,513.1 702.61,517.4 703.23,513.1 703.84,513.1 704.46,513.1 705.08,504.5 705.69,508.8 706.31,513.1 706.93,504.5 707.54,504.5 708.16,504.5 708.78,500.2 709.39,500.2 710.01,500.2 710.63,500.2 711.24,495.9 711.86,504.5 712.48,500.2 713.09,504.5 713.71,500.2 714.33,500.2 714.95,500.2 715.56,504.5 716.18,500.2 716.80,500.2 717.41,495.9 718.03,491.6 718.65,495.9 719.26,495.9 719.88,495.9 720.50,491.6 721.11,491.6 721.73,491.6 722.35,491.6 722.96,495.9 723.58,491.6 724.20,487.3 724.81,495.9 725.43,491.6 726.05,495.9 726.66,491.6 727.28,491.6 727.90,487.3 728.52,487.3 729.13,491.6 729.75,487.3 730.37,487.3 730.98,487.3 731.60,487.3 732.22,487.3 732.83,483.0 733.45,487.3 734.07,487.3 734.68,487.3 735.30,483.0 735.92,487.3 736.53,487.3 737.15,487.3 737.77,483.0 738.38,487.3 739.00,483.0 739.62,483.0 740.23,483.0 740.85,487.3 741.47,483.0 742.08,487.3 742.70,483.0 743.32,483.0 743.94,478.7 744.55,491.6 745.17,483.0 745.79,487.3 746.40,483.0 747.02,483.0 747.64,483.0 748.25,483.0 748.87,483.0 749.49,483.0 750.10,483.0 750.72,483.0 751.34,483.0 751.95,487.3 752.57,487.3 753.19,487.3 753.80,487.3 754.42,487.3 755.04,483.0 755.65,487.3 756.27,487.3 756.89,487.3 757.51,487.3 758.12,495.9 758.74,487.3 759.36,491.6 759.97,491.6 760.59,491.6 761.21,500.9 761.82,521.7 762.44,539.0 763.06,578.3 763.67,608.3 764.29,642.9 764.91,758.8 765.52,802.5 766.14,789.3 766.76,711.9 767.37,634.4 767.99,582.4 768.61,556.3 769.22,530.5 769.84,509.0 770.46,478.7 771.08,478.7 771.69,474.4 772.31,478.7 772.93,474.4 773.54,474.4 774.16,470.0 774.78,470.0 775.39,470.0 776.01,470.0 776.63,470.0 777.24,470.0 777.86,465.7 778.48,465.7 779.09,465.7 779.71,465.7 780.33,465.7 780.94,465.7 781.56,461.4 782.18,457.1 782.79,461.4 783.41,461.4 784.03,461.4 784.65,457.1 785.26,461.4 785.88,461.4 786.50,457.1 787.11,461.4 787.73,452.8 788.35,457.1 788.96,461.4 789.58,465.7 790.20,452.8 790.81,452.8 791.43,452.8 792.05,457.1 792.66,448.5 793.28,448.5 793.90,452.8 794.51,448.5 795.13,452.8 795.75,448.5 796.36,452.8 796.98,444.2 797.60,448.5 798.22,448.5 798.83,448.5 799.45,448.5 800.07,448.5 800.68,448.5 801.30,448.5 801.92,448.5 802.53,448.5 803.15,448.5 803.77,448.5 804.38,444.2 805.00,444.2 805.62,444.2 806.23,444.2 806.85,448.5 807.47,444.2 808.08,444.2 808.70,444.2 809.32,448.5 809.93,444.2 810.55,444.2 811.17,452.8 811.78,439.9 812.40,444.2 813.02,448.5 813.64,448.5 814.25,439.9 814.87,439.9 815.49,439.9 816.10,444.2 816.72,435.6 817.34,439.9 817.95,439.9 818.57,439.9 819.19,435.6 819.80,435.6 820.42,435.6 821.04,439.9 821.65,431.3 822.27,435.6 822.89,435.6 823.50,435.6 824.12,435.6 824.74,431.3 825.35,435.6 825.97,431.3 826.59,435.6 827.21,435.6 827.82,431.3 828.44,431.3 829.06,431.3 829.67,427.0 830.29,431.3 830.91,427.0 831.52,427.0 832.14,427.0 832.76,431.3 833.37,422.7 833.99,427.0 834.61,427.0 835.22,422.7 835.84,427.0 836.46,427.0 837.07,427.0 837.69,427.0 838.31,427.0 838.92,427.0 839.54,422.7 840.16,427.0 840.78,427.0 841.39,427.0 842.01,427.0 842.63,427.0 843.24,452.4 843.86,517.1 844.48,660.3 845.09,720.5 845.71,793.5 846.33,828.1 846.94,806.6 847.56,776.6 848.18,690.5 848.79,525.8 849.41,470.2 850.03,436.2 850.64,422.7 851.26,418.3 851.88,418.3 852.49,418.3 853.11,418.3 853.73,414.0 854.35,418.3 854.96,414.0 855.58,414.0 856.20,414.0 856.81,414.0 857.43,409.7 858.05,409.7 858.66,409.7 859.28,401.1 859.90,409.7 860.51,405.4 861.13,405.4 861.75,401.1 862.36,409.7 862.98,405.4 863.60,405.4 864.21,401.1 864.83,401.1 865.45,401.1 866.06,401.1 866.68,401.1 867.30,396.8 867.92,401.1 868.53,401.1 869.15,396.8 869.77,392.5 870.38,392.5 871.00,396.8 871.62,396.8 872.23,392.5 872.85,392.5 873.47,392.5 874.08,392.5 874.70,388.2 875.32,392.5 875.93,388.2 876.55,388.2 877.17,383.9 877.78,388.2 878.40,383.9 879.02,388.2 879.63,388.2 880.25,388.2 880.87,388.2 881.48,388.2 882.10,383.9 882.72,379.6 883.34,388.2 883.95,383.9 884.57,388.2 885.19,383.9 885.80,383.9 886.42,379.6 887.04,383.9 887.65,383.9 888.27,383.9 888.89,383.9 889.50,383.9 890.12,383.9 890.74,379.6 891.35,383.9 891.97,383.9 892.59,383.9 893.20,379.6 893.82,379.6 894.44,379.6 895.05,383.9 895.67,375.3 896.29,379.6 896.91,379.6 897.52,379.6 898.14,379.6 898.76,379.6 899.37,379.6 899.99,379.6 900.61,383.9 901.22,383.9 901.84,383.9 902.46,388.2 903.07,383.9 903.69,383.9 904.31,388.2 904.92,388.2 905.54,383.9 906.16,388.2 906.77,392.5 907.39,392.5 908.01,392.5 908.62,392.5 909.24,388.2 909.86,388.2 910.48,388.2 911.09,388.2 911.71,388.2 912.33,383.9 912.94,388.2 913.56,388.2 914.18,388.2 914.79,388.2 915.41,383.9 916.03,388.2 916.64,388.2 917.26,383.9 917.88,388.2 918.49,383.9 919.11,388.2 919.73,383.9 920.34,388.2 920.96,388.2 921.58,367.0 922.19,392.4 922.81,414.3 923.43,461.2 924.05,603.7 924.66,806.6 925.28,974.5 925.90,1052.0 926.51,897.2 927.13,629.8 927.75,479.0 928.36,423.1 928.98,409.7 929.60,379.7 930.21,366.6 930.83,362.3 931.45,362.3 932.06,353.7 932.68,358.0 933.30,353.7 933.91,349.4 934.53,353.7 935.15,349.4 935.76,349.4 936.38,349.4 937.00,349.4 937.62,349.4 938.23,345.1 938.85,345.1 939.47,340.8 940.08,340.8 940.70,340.8 941.32,340.8 941.93,340.8 942.55,340.8 943.17,340.8 943.78,336.5 944.40,340.8 945.02,336.5 945.63,345.1 946.25,332.2 946.87,336.5 947.48,336.5 948.10,336.5 948.72,332.2 949.33,332.2 949.95,336.5 950.57,332.2 951.18,336.5 951.80,336.5 952.42,336.5 953.04,336.5 953.65,340.8 954.27,336.5 954.89,340.8 955.50,336.5 956.12,336.5 956.74,340.8 957.35,340.8 957.97,345.1 958.59,345.1 959.20,340.8 959.82,345.1 960.44,340.8 961.05,340.8 961.67,340.8 962.29,340.8 962.90,345.1 963.52,340.8 964.14,345.1 964.75,345.1 965.37,349.4 965.99,345.1 966.61,349.4 967.22,349.4 967.84,349.4 968.46,349.4 969.07,349.4 969.69,349.4 970.31,349.4 970.92,349.4 971.54,349.4 972.16,345.1 972.77,349.4 973.39,349.4 974.01,349.4 974.62,345.1 975.24,349.4 975.86,349.4 976.47,345.1 977.09,349.4 977.71,349.4 978.32,345.1 978.94,345.1 979.56,345.1 980.18,345.1 980.79,345.1 981.41,345.1 982.03,345.1 982.64,345.1 983.26,345.1 983.88,340.8 984.49,345.1 985.11,336.5 985.73,340.8 986.34,336.5 986.96,340.8 987.58,345.1 988.19,340.8 988.81,340.8 989.43,340.8 990.04,340.8 990.66,340.8 991.28,336.5 991.89,336.5 992.51,340.8 993.13,336.5 993.75,336.5 994.36,336.5 994.98,345.1 995.60,345.1 996.21,340.8 996.83,340.8 997.45,340.8 998.06,345.1 998.68,349.4 999.30,345.1 999.91,349.4 1000.53,349.4 1001.15,358.0 1001.76,362.3 1002.38,366.6 1003.00,362.3 1003.61,392.8 1004.23,444.3 1004.85,599.5 1005.46,983.3 1006.08,1357.6 1006.70,1284.4 1007.32,875.5 1007.93,551.7 1008.55,431.6 1009.17,384.3 1009.78,362.3 1010.40,358.0 1011.02,349.4 1011.63,349.4 1012.25,345.1 1012.87,340.8 1013.48,340.8 1014.10,340.8 1014.72,332.2 1015.33,336.5 1015.95,332.2 1016.57,332.2 1017.18,332.2 1017.80,332.2 1018.42,327.9 1019.03,327.9 1019.65,327.9 1020.27,327.9 1020.88,327.9 1021.50,327.9 1022.12,327.9 1022.74,327.9 1023.35,327.9 1023.97,327.9 1024.59,327.9 1025.20,327.9 1025.82,327.9 1026.44,327.9 1027.05,323.6 1027.67,327.9 1028.29,327.9 1028.90,323.6 1029.52,323.6 1030.14,327.9 1030.75,323.6 1031.37,323.6 1031.99,323.6 1032.60,319.2 1033.22,323.6 1033.84,327.9 1034.45,327.9 1035.07,327.9 1035.69,327.9 1036.31,327.9 1036.92,332.2 1037.54,332.2 1038.16,336.5 1038.77,336.5 1039.39,332.2 1040.01,332.2 1040.62,336.5 1041.24,332.2 1041.86,332.2 1042.47,336.5 1043.09,332.2 1043.71,332.2 1044.32,332.2 1044.94,336.5 1045.56,332.2 1046.17,336.5 1046.79,336.5 1047.41,336.5 1048.02,336.5 1048.64,336.5 1049.26,336.5 1049.88,336.5 1050.49,336.5 1051.11,332.2 1051.73,336.5 1052.34,332.2 1052.96,336.5 1053.58,332.2 1054.19,332.2 1054.81,332.2 1055.43,336.5 1056.04,336.5 1056.66,336.5 1057.28,336.5 1057.89,336.5 1058.51,336.5 1059.13,336.5 1059.74,336.5 1060.36,332.2 1060.98,336.5 1061.59,336.5 1062.21,345.1 1062.83,340.8 1063.45,336.5 1064.06,336.5 1064.68,336.5 1065.30,336.5 1065.91,336.5 1066.53,336.5 1067.15,332.2 1067.76,332.2 1068.38,336.5 1069.00,336.5 1069.61,340.8 1070.23,340.8 1070.85,340.8 1071.46,340.8 1072.08,336.5 1072.70,336.5 1073.31,336.5 1073.93,336.5 1074.55,336.5 1075.16,336.5 1075.78,345.1 1076.40,345.1 1077.02,345.1 1077.63,345.1 1078.25,345.1 1078.87,345.1 1079.48,345.1 1080.10,349.4 1080.72,349.4 1081.33,353.7 1081.95,353.7 1082.57,349.4 1083.18,353.7 1083.80,358.0 1084.42,362.3 1085.03,371.0 1085.65,362.4 1086.27,375.1 1086.88,401.6 1087.50,465.8 1088.12,638.3 1088.73,939.9 1089.35,996.0 1089.97,715.9 1090.58,495.8 1091.20,414.3 1091.82,379.7 1092.44,368.1 1093.05,353.7 1093.67,349.4 1094.29,345.1 1094.90,345.1 1095.52,340.8 1096.14,340.8 1096.75,336.5 1097.37,336.5 1097.99,336.5 1098.60,336.5 1099.22,336.5 1099.84,336.5 1100.45,332.2 1101.07,332.2 1101.69,327.9 1102.30,327.9 1102.92,323.6 1103.54,327.9 1104.15,327.9 1104.77,327.9 1105.39,323.6 1106.01,327.9 1106.62,323.6 1107.24,327.9 1107.86,323.6 1108.47,327.9 1109.09,323.6 1109.71,323.6 1110.32,319.2 1110.94,323.6 1111.56,319.2 1112.17,323.6 1112.79,323.6 1113.41,323.6 1114.02,319.2 1114.64,319.2 1115.26,319.2 1115.87,319.2 1116.49,319.2 1117.11,319.2 1117.72,319.2 1118.34,319.2 1118.96,314.9 1119.58,314.9 1120.19,314.9 1120.81,314.9 1121.43,314.9 1122.04,314.9 1122.66,314.9 1123.28,319.2 1123.89,319.2 1124.51,319.2 1125.13,319.2 1125.74,319.2 1126.36,314.9 1126.98,319.2 1127.59,314.9 1128.21,314.9 1128.83,314.9 1129.44,314.9 1130.06,310.6 1130.68,314.9 1131.29,319.2 1131.91,319.2 1132.53,314.9 1133.15,310.6 1133.76,314.9 1134.38,314.9 1135.00,314.9 1135.61,314.9 1136.23,314.9 1136.85,310.6 1137.46,314.9 1138.08,314.9 1138.70,314.9 1139.31,314.9 1139.93,314.9 1140.55,310.6 1141.16,314.9 1141.78,314.9 1142.40,319.2 1143.01,310.6 1143.63,314.9 1144.25,314.9 1144.86,310.6 1145.48,314.9 1146.10,319.2 1146.72,314.9 1147.33,314.9 1147.95,314.9 1148.57,314.9 1149.18,314.9 1149.80,314.9 1150.42,314.9 1151.03,314.9 1151.65,319.2 1152.27,314.9 1152.88,319.2 1153.50,323.6 1154.12,327.9 1154.73,319.2 1155.35,319.2 1155.97,323.6 1156.58,323.6 1157.20,323.6 1157.82,319.2 1158.43,323.6 1159.05,327.9 1159.67,327.9 1160.28,327.9 1160.90,332.2 1161.52,332.2 1162.14,332.2 1162.75,336.5 1163.37,336.5 1163.99,336.5 1164.60,336.5 1165.22,336.5 1165.84,345.1 1166.45,340.8 1167.07,340.8 1167.69,349.4 1168.30,349.4 1168.92,362.3 1169.54,354.3 1170.15,371.6 1170.77,405.1 1171.39,479.0 1172.00,685.9 1172.62,1077.7 1173.24,1146.6 1173.85,772.0 1174.47,517.6 1175.09,423.6 1175.71,379.7 1176.32,357.7 1176.94,349.4 1177.56,340.8 1178.17,345.1 1178.79,336.5 1179.41,336.5 1180.02,332.2 1180.64,332.2 1181.26,332.2 1181.87,327.9 1182.49,332.2 1183.11,332.2 1183.72,327.9 1184.34,327.9 1184.96,323.6 1185.57,323.6 1186.19,323.6 1186.81,323.6 1187.42,319.2 1188.04,323.6 1188.66,323.6 1189.28,323.6 1189.89,323.6 1190.51,319.2 1191.13,319.2 1191.74,323.6 1192.36,319.2 1192.98,319.2 1193.59,319.2 1194.21,314.9 1194.83,319.2 1195.44,319.2 1196.06,319.2 1196.68,314.9 1197.29,319.2 1197.91,319.2 1198.53,314.9 1199.14,314.9 1199.76,314.9 1200.38,319.2 1200.99,314.9 1201.61,314.9 1202.23,306.3 1202.85,314.9 1203.46,310.6 1204.08,310.6 1204.70,306.3 1205.31,310.6 1205.93,306.3 1206.55,310.6 1207.16,310.6 1207.78,310.6 1208.40,310.6 1209.01,310.6 1209.63,314.9 1210.25,314.9 1210.86,319.2 1211.48,314.9 1212.10,319.2 1212.71,310.6 1213.33,310.6 1213.95,310.6 1214.56,314.9 1215.18,310.6 1215.80,302.0 1216.42,310.6 1217.03,306.3 1217.65,310.6 1218.27,310.6 1218.88,310.6 1219.50,310.6 1220.12,310.6 1220.73,310.6 1221.35,310.6 1221.97,314.9 1222.58,306.3 1223.20,310.6 1223.82,306.3 1224.43,306.3 1225.05,302.0 1225.67,306.3 1226.28,306.3 1226.90,306.3 1227.52,302.0 1228.13,306.3 1228.75,302.0 1229.37,306.3 1229.98,306.3 1230.60,306.3 1231.22,306.3 1231.84,310.6 1232.45,306.3 1233.07,306.3 1233.69,306.3 1234.30,302.0 1234.92,310.6 1235.54,306.3 1236.15,310.6 1236.77,306.3 1237.39,310.6 1238.00,306.3 1238.62,310.6 1239.24,310.6 1239.85,310.6 1240.47,310.6 1241.09,310.6 1241.70,310.6 1242.32,306.3 1242.94,310.6 1243.55,314.9 1244.17,314.9 1244.79,314.9 1245.41,314.9 1246.02,319.2 1246.64,314.9 1247.26,314.9 1247.87,314.9 1248.49,319.2 1249.11,319.2 1249.72,319.2 1250.34,323.6 1250.96,319.2 1251.57,323.6 1252.19,327.9 1252.81,332.2 1253.42,332.2 1254.04,336.5 1254.66,341.6 1255.27,357.7 1255.89,397.0 1256.51,495.8 1257.12,742.0 1257.74,1008.7 1258.36,870.9 1258.98,556.4 1259.59,418.5 1260.21,371.6 1260.83,349.7 1261.44,345.1 1262.06,332.2 1262.68,332.2 1263.29,332.2 1263.91,323.6 1264.53,323.6 1265.14,327.9 1265.76,327.9 1266.38,323.6 1266.99,327.9 1267.61,323.6 1268.23,323.6 1268.84,323.6 1269.46,323.6 1270.08,323.6 1270.69,319.2 1271.31,323.6 1271.93,323.6 1272.55,319.2 1273.16,323.6 1273.78,319.2 1274.40,323.6 1275.01,319.2 1275.63,319.2 1276.25,319.2 1276.86,323.6 1277.48,323.6 1278.10,323.6 1278.71,319.2 1279.33,319.2 1279.95,323.6 1280.56,319.2 1281.18,319.2 1281.80,319.2 1282.41,323.6 1283.03,319.2 1283.65,323.6 1284.26,323.6 1284.88,323.6 1285.50,323.6 1286.12,323.6 1286.73,323.6 1287.35,327.9 1287.97,323.6 1288.58,327.9 1289.20,327.9 1289.82,336.5 1290.43,327.9 1291.05,327.9 1291.67,327.9 1292.28,327.9 1292.90,323.6 1293.52,327.9 1294.13,327.9 1294.75,332.2 1295.37,327.9 1295.98,327.9 1296.60,332.2 1297.22,332.2 1297.83,332.2 1298.45,332.2 1299.07,332.2 1299.68,332.2 1300.30,332.2 1300.92,332.2 1301.54,336.5 1302.15,327.9 1302.77,332.2 1303.39,332.2 1304.00,327.9 1304.62,332.2 1305.24,323.6 1305.85,327.9 1306.47,332.2 1307.09,332.2 1307.70,327.9 1308.32,327.9 1308.94,327.9 1309.55,327.9 1310.17,327.9 1310.79,327.9 1311.40,327.9 1312.02,327.9 1312.64,327.9 1313.25,327.9 1313.87,332.2 1314.49,327.9 1315.11,327.9 1315.72,327.9 1316.34,327.9 1316.96,327.9 1317.57,332.2 1318.19,336.5 1318.81,332.2 1319.42,332.2 1320.04,327.9 1320.66,327.9 1321.27,327.9 1321.89,327.9 1322.51,332.2 1323.12,327.9 1323.74,327.9 1324.36,327.9 1324.97,327.9 1325.59,327.9 1326.21,327.9 1326.82,327.9 1327.44,327.9 1328.06,327.9 1328.68,327.9 1329.29,323.6 1329.91,327.9 1330.53,327.9 1331.14,327.9 1331.76,323.6 1332.38,327.9 1332.99,323.6 1333.61,327.9 1334.23,327.9 1334.84,327.9 1335.46,327.9 1336.08,327.9 1336.69,332.2 1337.31,327.9 1337.93,327.9 1338.54,332.2 1339.16,327.9 1339.78,332.2 1340.39,336.5 1341.01,340.8 1341.63,345.1 1342.25,354.3 1342.86,379.7 1343.48,452.9 1344.10,581.8 1344.71,461.7 1345.33,393.1 1345.95,362.4 1346.56,353.7 1347.18,340.8 1347.80,340.8 1348.41,336.5 1349.03,332.2 1349.65,336.5 1350.26,332.2 1350.88,327.9 1351.50,332.2 1352.11,327.9 1352.73,327.9 1353.35,323.6 1353.96,327.9 1354.58,327.9 1355.20,327.9 1355.82,327.9 1356.43,327.9 1357.05,327.9 1357.67,332.2 1358.28,327.9 1358.90,323.6 1359.52,332.2 1360.13,327.9 1360.75,327.9 1361.37,332.2 1361.98,332.2 1362.60,336.5 1363.22,332.2 1363.83,332.2 1364.45,332.2 1365.07,327.9 1365.68,327.9 1366.30,340.8 1366.92,336.5 1367.53,332.2 1368.15,336.5 1368.77,336.5 1369.38,336.5 1370.00,340.8 1370.62,340.8 1371.24,336.5 1371.85,336.5 1372.47,340.8 1373.09,340.8 1373.70,340.8 1374.32,340.8 1374.94,336.5 1375.55,336.5 1376.17,340.8 1376.79,336.5 1377.40,336.5 1378.02,336.5 1378.64,340.8 1379.25,340.8 1379.87,340.8 1380.49,336.5 1381.10,345.1 1381.72,345.1 1382.34,340.8 1382.95,340.8 1383.57,340.8 1384.19,340.8 1384.81,340.8 1385.42,340.8 1386.04,340.8 1386.66,336.5 1387.27,340.8 1387.89,340.8 1388.51,336.5 1389.12,345.1 1389.74,336.5 1390.36,340.8 1390.97,340.8 1391.59,340.8 1392.21,340.8 1392.82,340.8 1393.44,340.8 1394.06,340.8 1394.67,340.8 1395.29,340.8 1395.91,340.8 1396.52,345.1 1397.14,340.8 1397.76,340.8 1398.38,345.1 1398.99,340.8 1399.61,345.1 1400.23,345.1 1400.84,340.8 1401.46,340.8 1402.08,336.5 1402.69,336.5 1403.31,340.8 1403.93,340.8 1404.54,340.8 1405.16,340.8 1405.78,340.8 1406.39,345.1 1407.01,345.1 1407.63,349.4 1408.24,349.4 1408.86,349.4 1409.48,349.4 1410.09,353.7 1410.71,353.7 1411.33,353.7 1411.95,349.4 1412.56,349.4 1413.18,353.7 1413.80,353.7 1414.41,349.4 1415.03,353.7 1415.65,353.7 1416.26,353.7 1416.88,353.7 1417.50,353.7 1418.11,353.7 1418.73,358.0 1419.35,358.0 1419.96,358.0 1420.58,358.0 1421.20,358.0 1421.81,362.3 1422.43,362.3 1423.05,362.3 1423.66,362.3 1424.28,362.3 1424.90,366.6 1425.52,366.6 1426.13,375.3 1426.75,366.6 1427.37,371.0 1427.98,375.3 1428.60,371.0 1429.22,375.3 1429.83,375.3 1430.45,379.7 1431.07,410.2 1431.68,452.9 1432.30,495.8 1432.92,479.0 1433.53,418.5 1434.15,393.1 1434.77,383.9 1435.38,383.9 1436.00,379.6 1436.62,379.6 1437.23,379.6 1437.85,383.9 1438.47,383.9 1439.08,379.6 1439.70,375.3 1440.32,379.6 1440.94,379.6 1441.55,375.3 1442.17,375.3 1442.79,379.6 1443.40,375.3 1444.02,375.3 1444.64,375.3 1445.25,366.6 1445.87,371.0 1446.49,366.6 1447.10,371.0 1447.72,371.0 1448.34,371.0 1448.95,371.0 1449.57,366.6 1450.19,366.6 1450.80,371.0 1451.42,366.6 1452.04,366.6 1452.65,366.6 1453.27,366.6 1453.89,371.0 1454.51,375.3 1455.12,362.3 1455.74,371.0 1456.36,371.0 1456.97,362.3 1457.59,366.6 1458.21,362.3 1458.82,366.6 1459.44,366.6 1460.06,366.6 1460.67,362.3 1461.29,362.3 1461.91,366.6 1462.52,358.0 1463.14,366.6 1463.76,362.3 1464.37,362.3 1464.99,362.3 1465.61,362.3 1466.22,362.3 1466.84,362.3 1467.46,358.0 1468.08,362.3 1468.69,366.6 1469.31,366.6 1469.93,366.6 1470.54,366.6 1471.16,366.6 1471.78,362.3 1472.39,362.3 1473.01,362.3 1473.63,362.3 1474.24,362.3 1474.86,362.3 1475.48,362.3 1476.09,362.3 1476.71,358.0 1477.33,362.3 1477.94,362.3 1478.56,366.6 1479.18,366.6 1479.79,371.0 1480.41,371.0 1481.03,371.0 1481.65,371.0 1482.26,375.3 1482.88,375.3 1483.50,366.6 1484.11,366.6 1484.73,371.0 1485.35,371.0 1485.96,371.0 1486.58,375.3 1487.20,366.6 1487.81,375.3 1488.43,375.3 1489.05,375.3 1489.66,375.3 1490.28,375.3 1490.90,379.6 1491.51,379.6 1492.13,375.3 1492.75,379.6 1493.36,375.3 1493.98,379.6 1494.60,379.6 1495.22,379.6 1495.83,379.6 1496.45,379.6 1497.07,379.6 1497.68,383.9 1498.30,379.6 1498.92,383.9 1499.53,383.9 1500.15,383.9 1500.77,388.2 1501.38,388.2 1502.00,383.9 1502.62,383.9 1503.23,392.5 1503.85,388.2 1504.47,388.2 1505.08,388.2 1505.70,388.2 1506.32,392.5 1506.93,392.5 1507.55,388.2 1508.17,396.8 1508.78,392.5 1509.40,396.8 1510.02,396.8 1510.64,396.8 1511.25,405.4 1511.87,396.8 1512.49,401.1 1513.10,396.8 1513.72,396.8 1514.34,405.4 1514.95,401.1 1515.57,401.1 1516.19,405.4 1516.80,401.1 1517.42,405.4 1518.04,409.7 1518.65,409.7 1519.27,414.0 1519.89,414.0 1520.50,422.7 1521.12,429.7 1521.74,474.2 1522.35,534.7 1522.97,517.9 1523.59,453.4 1524.21,422.7 1524.82,418.3 1525.44,418.3 1526.06,414.0 1526.67,414.0 1527.29,409.7 1527.91,414.0 1528.52,414.0 1529.14,414.0 1529.76,409.7 1530.37,409.7 1530.99,414.0 1531.61,414.0 1532.22,409.7 1532.84,414.0 1533.46,409.7 1534.07,409.7 1534.69,405.4 1535.31,405.4 1535.92,405.4 1536.54,405.4 1537.16,401.1 1537.78,405.4 1538.39,401.1 1539.01,405.4 1539.63,396.8 1540.24,405.4 1540.86,401.1 1541.48,401.1 1542.09,401.1 1542.71,409.7 1543.33,401.1 1543.94,401.1 1544.56,401.1 1545.18,396.8 1545.79,396.8 1546.41,396.8 1547.03,392.5 1547.64,396.8 1548.26,392.5 1548.88,392.5 1549.49,392.5 1550.11,392.5 1550.73,396.8 1551.35,396.8 1551.96,392.5 1552.58,388.2 1553.20,392.5 1553.81,396.8 1554.43,392.5 1555.05,392.5 1555.66,392.5 1556.28,392.5 1556.90,392.5 1557.51,392.5 1558.13,388.2 1558.75,392.5 1559.36,392.5 1559.98,396.8 1560.60,401.1 1561.21,396.8 1561.83,396.8 1562.45,401.1 1563.06,401.1 1563.68,401.1 1564.30,401.1 1564.92,396.8 1565.53,401.1 1566.15,396.8 1566.77,401.1 1567.38,401.1 1568.00,401.1 1568.62,405.4 1569.23,401.1 1569.85,405.4 1570.47,401.1 1571.08,405.4 1571.70,405.4 1572.32,405.4 1572.93,405.4 1573.55,409.7 1574.17,409.7 1574.78,405.4 1575.40,409.7 1576.02,418.3 1576.63,409.7 1577.25,409.7 1577.87,418.3 1578.48,409.7 1579.10,414.0 1579.72,414.0 1580.34,418.3 1580.95,414.0 1581.57,418.3 1582.19,418.3 1582.80,418.3 1583.42,414.0 1584.04,422.7 1584.65,422.7 1585.27,422.7 1585.89,422.7 1586.50,422.7 1587.12,418.3 1587.74,422.7 1588.35,414.0 1588.97,422.7 1589.59,422.7 1590.20,427.0 1590.82,418.3 1591.44,422.7 1592.05,418.3 1592.67,422.7 1593.29,418.3 1593.91,418.3 1594.52,422.7 1595.14,422.7 1595.76,418.3 1596.37,418.3 1596.99,418.3 1597.61,418.3 1598.22,418.3 1598.84,418.3 1599.46,427.0 1600.07,422.7 1600.69,418.3 1601.31,422.7 1601.92,422.7 1602.54,422.7 1603.16,422.7 1603.77,422.7 1604.39,422.7 1605.01,422.7 1605.62,422.7 1606.24,427.0 1606.86,427.0 1607.48,427.0 1608.09,427.0 1608.71,427.0 1609.33,427.0 1609.94,427.0 1610.56,422.7 1611.18,444.2 1611.79,495.9 1612.41,586.4 1613.03,655.3 1613.64,689.8 1614.26,603.6 1614.88,547.6 1615.49,452.8 1616.11,444.2 1616.73,439.9 1617.34,500.2 1617.96,681.2 1618.58,922.4 1619.19,1008.6 1619.81,961.2 1620.43,879.4 1621.05,560.5 1621.66,491.6 1622.28,495.9 1622.90,500.2 1623.51,495.9 1624.13,495.9 1624.75,495.9 1625.36,495.9 1625.98,521.8 1626.60,698.4 1627.21,931.1 1627.83,801.8 1628.45,599.3 1629.06,487.3 1629.68,487.3 1630.30,487.3 1630.91,487.3 1631.53,487.3 1632.15,530.4 1632.76,758.7 1633.38,1099.1 1634.00,1215.4 1634.62,905.2 1635.23,638.1 1635.85,478.7 1636.47,478.7 1637.08,478.7 1637.70,478.7 1638.32,478.7 1638.93,474.4 1639.55,474.4 1640.17,478.7 1640.78,599.3 1641.40,939.7 1642.02,991.4 1642.63,719.9 1643.25,521.8 1643.87,470.0 1644.48,470.0 1645.10,470.0 1645.72,470.0 1646.33,470.0 1646.95,465.7 1647.57,465.7 1648.18,465.7 1648.80,478.7 1649.42,582.1 1650.04,844.9 1650.65,862.1 1651.27,681.2 1651.89,513.1 1652.50,461.4 1653.12,461.4 1653.74,461.4 1654.35,461.4 1654.97,470.0 1655.59,465.7 1656.20,465.7 1656.82,465.7 1657.44,461.4 1658.05,470.0 1658.67,474.4 1659.29,569.1 1659.90,810.4 1660.52,853.5 1661.14,659.6 1661.75,508.8 1662.37,461.4 1662.99,461.4 1663.61,461.4 1664.22,470.0 1664.84,465.7 1665.46,465.7 1666.07,470.0 1666.69,470.0 1667.31,465.7 1667.92,474.4 1668.54,551.9 1669.16,659.6 1669.77,599.3 1670.39,504.5 1671.01,474.4 1671.62,474.4 1672.24,474.4 1672.86,474.4 1673.47,474.4 1674.09,474.4 1674.71,470.0 1675.32,465.7 1675.94,465.7 1676.56,495.9 1677.18,530.4 1677.79,517.4 1678.41,470.0 1679.03,465.7 1679.64,461.4 1680.26,465.7 1680.88,465.7 1681.49,461.4 1682.11,461.4 1682.73,461.4 1683.34,461.4 1683.96,465.7 1684.58,461.4 1685.19,461.4 1685.81,465.7 1686.43,465.7 1687.04,461.4 1687.66,465.7 1688.28,465.7 1688.89,465.7 1689.51,465.7 1690.13,470.0 1690.75,465.7 1691.36,474.4 1691.98,470.0 1692.60,470.0 1693.21,470.0 1693.83,478.7 1694.45,474.4 1695.06,478.7 1695.68,474.4 1696.30,478.7 1696.91,478.7 1697.53,478.7 1698.15,478.7 1698.76,483.0 1699.38,487.3 1700.00,487.3 1700.61,487.3 1701.23,495.9 1701.85,504.5 1702.46,512.0 1703.08,526.0 1703.70,495.9 1704.32,491.6 1704.93,487.3 1705.55,487.3 1706.17,483.0 1706.78,487.3 1707.40,495.9 1708.02,491.6 1708.63,487.3 1709.25,487.3 1709.87,491.6 1710.48,491.6 1711.10,487.3 1711.72,487.3 1712.33,491.6 1712.95,487.3 1713.57,487.3 1714.18,487.3 1714.80,487.3 1715.42,487.3 1716.03,487.3 1716.65,487.3 1717.27,491.6 1717.88,495.9 1718.50,504.5 1719.12,510.0 1719.74,522.0 1720.35,495.9 1720.97,491.6 1721.59,491.6 1722.20,487.3 1722.82,487.3 1723.44,487.3 1724.05,487.3 1724.67,487.3 1725.29,487.3 1725.90,487.3 1726.52,487.3 1727.14,487.3 1727.75,487.3 1728.37,487.3 1728.99,487.3 1729.60,487.3 1730.22,487.3 1730.84,487.3 1731.45,491.6 1732.07,491.6 1732.69,491.6 1733.31,491.6 1733.92,495.9 1734.54,495.9 1735.16,500.2 1735.77,491.6 1736.39,495.9 1737.01,500.2 1737.62,500.2 1738.24,495.9 1738.86,500.2 1739.47,504.5 1740.09,504.5 1740.71,504.5 1741.32,504.5 1741.94,500.2 1742.56,500.2 1743.17,500.2 1743.79,500.2 1744.41,504.5 1745.02,504.5 1745.64,504.5 1746.26,504.5 1746.88,504.5 1747.49,504.5 1748.11,508.8 1748.73,513.1 1749.34,508.8 1749.96,508.8 1750.58,504.5 1751.19,513.1 1751.81,513.1 1752.43,513.1 1753.04,513.1 1753.66,513.1 1754.28,513.1 1754.89,517.4 1755.51,517.4 1756.13,513.1 1756.74,517.4 1757.36,508.8 1757.98,513.1 1758.59,517.4 1759.21,517.4 1759.83,517.4 1760.45,517.4 1761.06,513.1 1761.68,521.8 1762.30,513.1 1762.91,521.8 1763.53,517.4 1764.15,521.8 1764.76,517.4 1765.38,517.4 1766.00,521.8 1766.61,517.4 1767.23,517.4 1767.85,526.1 1768.46,526.1 1769.08,526.1 1769.70,521.8 1770.31,526.1 1770.93,530.4 1771.55,526.1 1772.16,521.8 1772.78,521.8 1773.40,526.1 1774.02,526.1 1774.63,521.8 1775.25,530.4 1775.87,526.1 1776.48,526.1 1777.10,526.1 1777.72,530.4 1778.33,534.7 1778.95,534.7 1779.57,534.7 1780.18,534.7 1780.80,539.0 1781.42,539.0 1782.03,539.0 1782.65,543.3 1783.27,539.0 1783.88,543.3 1784.50,539.0 1785.12,543.3 1785.73,543.3 1786.35,547.6 1786.97,547.6 1787.58,543.3 1788.20,543.3 1788.82,547.6 1789.44,547.6 1790.05,547.6 1790.67,551.9 1791.29,547.6 1791.90,556.2 1792.52,551.9 1793.14,551.9 1793.75,556.2 1794.37,556.2 1794.99,556.2 1795.60,556.2 1796.22,556.2 1796.84,560.5 1797.45,560.5 1798.07,569.1 1798.69,577.8 1799.30,591.3 1799.92,643.3 1800.54,669.1 1801.15,630.1 1801.77,569.1 1802.39,564.8 1803.01,564.8 1803.62,569.1 1804.24,569.1 1804.86,569.1 1805.47,564.8 1806.09,569.1 1806.71,569.1 1807.32,569.1 1807.94,573.5 1808.56,573.5 1809.17,577.8 1809.79,573.5 1810.41,577.8 1811.02,577.8 1811.64,582.1 1812.26,573.5 1812.87,577.8 1813.49,573.5 1814.11,577.8 1814.72,577.8 1815.34,577.8 1815.96,582.1 1816.58,577.8 1817.19,586.4 1817.81,577.8 1818.43,582.1 1819.04,577.8 1819.66,582.1 1820.28,582.1 1820.89,577.8 1821.51,586.4 1822.13,586.4 1822.74,582.1 1823.36,582.1 1823.98,582.1 1824.59,582.1 1825.21,582.1 1825.83,586.4 1826.44,590.7 1827.06,586.4 1827.68,586.4 1828.29,590.7 1828.91,595.0 1829.53,586.4 1830.15,595.0 1830.76,595.0 1831.38,590.7 1832.00,595.0 1832.61,595.0 1833.23,595.0 1833.85,595.0 1834.46,599.3 1835.08,595.0 1835.70,595.0 1836.31,595.0 1836.93,599.3 1837.55,599.3 1838.16,603.6 1838.78,599.3 1839.40,599.3 1840.01,607.9 1840.63,607.9 1841.25,603.6 1841.86,603.6 1842.48,603.6 1843.10,603.6 1843.72,607.9 1844.33,607.9 1844.95,607.9 1845.57,607.9 1846.18,607.9 1846.80,612.2 1847.42,607.9 1848.03,616.5 1848.65,616.5 1849.27,612.2 1849.88,612.2 1850.50,616.5 1851.12,612.2 1851.73,612.2 1852.35,612.2 1852.97,616.5 1853.58,616.5 1854.20,620.8 1854.82,620.8 1855.43,620.8 1856.05,620.8 1856.67,625.2 1857.28,620.8 1857.90,616.5 1858.52,620.8 1859.14,620.8 1859.75,620.8 1860.37,625.2 1860.99,620.8 1861.60,625.2 1862.22,625.2 1862.84,625.2 1863.45,629.5 1864.07,625.2 1864.69,625.2 1865.30,625.2 1865.92,620.8 1866.54,625.2 1867.15,633.8 1867.77,629.5 1868.39,629.5 1869.00,633.8 1869.62,633.8 1870.24,633.8 1870.85,633.8 1871.47,629.5 1872.09,629.5 1872.71,629.5 1873.32,633.8 1873.94,638.1 1874.56,638.1 1875.17,633.8 1875.79,633.8 1876.41,633.8 1877.02,633.8 1877.64,633.8 1878.26,638.1 1878.87,638.1 1879.49,642.4 1880.11,642.4 1880.72,638.1 1881.34,642.4 1881.96,638.1 1882.57,638.1 1883.19,642.4 1883.81,642.4 1884.42,642.4 1885.04,642.4 1885.66,646.7 1886.28,651.0 1886.89,646.7 1887.51,646.7 1888.13,651.0 1888.74,651.0 1889.36,655.3 1889.98,655.3 1890.59,659.6 1891.21,659.6 1891.83,663.9 1892.44,668.2 1893.06,681.2 1893.68,687.2 1894.29,793.6 1894.91,923.1 1895.53,961.7 1896.14,823.8 1896.76,726.4 1897.38,676.9 1897.99,672.6 1898.61,672.6 1899.23,668.2 1899.85,668.2 1900.46,668.2 1901.08,672.6 1901.70,668.2 1902.31,668.2 1902.93,668.2 1903.55,668.2 1904.16,668.2 1904.78,668.2 1905.40,668.2 1906.01,672.6 1906.63,672.6 1907.25,672.6 1907.86,676.9 1908.48,672.6 1909.10,676.9 1909.71,681.2 1910.33,676.9 1910.95,676.9 1911.56,681.2 1912.18,681.2 1912.80,676.9 1913.42,676.9 1914.03,681.2 1914.65,681.2 1915.27,681.2 1915.88,685.5 1916.50,685.5 1917.12,685.5 1917.73,694.1 1918.35,689.8 1918.97,689.8 1919.58,689.8 1920.20,685.5 1920.82,685.5 1921.43,689.8 1922.05,689.8 1922.67,698.4 1923.28,694.1 1923.90,698.4 1924.52,694.1 1925.13,698.4 1925.75,698.4 1926.37,702.7 1926.98,702.7 1927.60,702.7 1928.22,702.7 1928.84,707.0 1929.45,711.3 1930.07,707.0 1930.69,707.0 1931.30,711.3 1931.92,711.3 1932.54,711.3 1933.15,715.6 1933.77,715.6 1934.39,715.6 1935.00,715.6 1935.62,715.6 1936.24,719.9 1936.85,719.9 1937.47,719.9 1938.09,719.9 1938.70,724.3 1939.32,724.3 1939.94,724.3 1940.55,732.9 1941.17,728.6 1941.79,724.3 1942.41,728.6 1943.02,724.3 1943.64,732.9 1944.26,728.6 1944.87,728.6 1945.49,732.9 1946.11,732.9 1946.72,732.9 1947.34,737.2 1947.96,732.9 1948.57,737.2 1949.19,737.2 1949.81,737.2 1950.42,737.2 1951.04,741.5 1951.66,741.5 1952.27,741.5 1952.89,741.5 1953.51,741.5 1954.12,745.8 1954.74,741.5 1955.36,741.5 1955.98,737.2 1956.59,741.5 1957.21,745.8 1957.83,745.8 1958.44,741.5 1959.06,754.4 1959.68,750.1 1960.29,750.1 1960.91,750.1 1961.53,754.4 1962.14,754.4 1962.76,750.1 1963.38,754.4 1963.99,754.4 1964.61,754.4 1965.23,754.4 1965.84,754.4 1966.46,754.4 1967.08,763.0 1967.69,758.7 1968.31,763.0 1968.93,763.0 1969.55,758.7 1970.16,763.0 1970.78,758.7 1971.40,758.7 1972.01,767.3 1972.63,771.6 1973.25,767.3 1973.86,771.6 1974.48,763.0 1975.10,767.3 1975.71,767.3 1976.33,767.3 1976.95,771.6 1977.56,771.6 1978.18,771.6 1978.80,771.6 1979.41,776.0 1980.03,771.6 1980.65,776.0 1981.26,776.0 1981.88,776.0 1982.50,780.3 1983.12,784.6 1983.73,780.3 1984.35,784.6 1984.97,788.9 1985.58,788.9 1986.20,793.2 1986.82,793.2 1987.43,793.2 1988.05,797.5 1988.67,801.8 1989.28,814.7 1989.90,832.0 1990.52,848.2 1991.13,948.8 1991.75,1121.0 1992.37,1203.6 1992.98,1039.4 1993.60,910.5 1994.22,823.4 1994.83,814.7 1995.45,810.4 1996.07,806.1 1996.68,806.1 1997.30,810.4 1997.92,806.1 1998.54,806.1 1999.15,806.1 1999.77,810.4 2000.39,806.1 2001.00,810.4 2001.62,810.4 2002.24,810.4 2002.85,810.4 2003.47,810.4 2004.09,810.4 2004.70,814.7 2005.32,823.4 2005.94,814.7 2006.55,823.4 2007.17,819.0 2007.79,819.0 2008.40,819.0 2009.02,819.0 2009.64,819.0 2010.25,823.4 2010.87,827.7 2011.49,823.4 2012.11,827.7 2012.72,836.3 2013.34,823.4 2013.96,827.7 2014.57,827.7 2015.19,827.7 2015.81,832.0 2016.42,827.7 2017.04,832.0 2017.66,827.7 2018.27,832.0 2018.89,836.3 2019.51,840.6 2020.12,840.6 2020.74,840.6 2021.36,840.6 2021.97,844.9 2022.59,840.6 2023.21,840.6 2023.82,840.6 2024.44,844.9 2025.06,844.9 2025.68,844.9 2026.29,844.9 2026.91,849.2 2027.53,853.5 2028.14,849.2 2028.76,853.5 2029.38,857.8 2029.99,857.8 2030.61,857.8 2031.23,857.8 2031.84,857.8 2032.46,853.5 2033.08,857.8 2033.69,857.8 2034.31,862.1 2034.93,862.1 2035.54,870.7 2036.16,866.4 2036.78,866.4 2037.39,862.1 2038.01,862.1 2038.63,870.7 2039.25,866.4 2039.86,866.4 2040.48,870.7 2041.10,875.1 2041.71,870.7 2042.33,870.7 2042.95,879.4 2043.56,875.1 2044.18,879.4 2044.80,879.4 2045.41,883.7 2046.03,883.7 2046.65,892.3 2047.26,888.0 2047.88,883.7 2048.50,888.0 2049.11,888.0 2049.73,892.3 2050.35,888.0 2050.96,892.3 2051.58,888.0 2052.20,888.0 2052.82,888.0 2053.43,896.6 2054.05,888.0 2054.67,892.3 2055.28,892.3 2055.90,892.3 2056.52,900.9 2057.13,896.6 2057.75,896.6 2058.37,900.9 2058.98,905.2 2059.60,905.2 2060.22,900.9 2060.83,909.5 2061.45,905.2 2062.07,909.5 2062.68,909.5 2063.30,909.5 2063.92,913.8 2064.53,918.1 2065.15,918.1 2065.77,918.1 2066.38,922.4 2067.00,922.4 2067.62,918.1 2068.24,922.4 2068.85,922.4 2069.47,918.1"/>
</g>
<rect x="377.8" y="1022.5" width="415.4" height="259.7" fill="#fff" stroke="#000" stroke-width="3.5"/>
<path d="M390.9 1059.0H533.1" stroke="#00f" stroke-width="4.4" fill="none"/>
<path d="M390.9 1121.5H523" stroke="#008000" stroke-width="3.2" stroke-dasharray="5.1 9" fill="none"/>
<path d="M390.8 1183.5H533" stroke="#f00" stroke-width="3.1" fill="none"/>
<use href="#mA" transform="translate(462.4 1183.5) scale(1.13 1)"/>
<path d="M390.8 1245.5H533" stroke="#00bfbf" stroke-width="3.1" fill="none"/>
<use href="#mP" transform="translate(462.4 1245.5) scale(1.13 1)"/>
<g fill="#000" font-size="50">
<text transform="translate(543.2 1077.1) scale(1.093 1)">4000ppm</text>
<text transform="translate(543.2 1139.4) scale(1.093 1)">8000ppm</text>
<text transform="translate(544.5 1201.4) scale(1.093 1)">12000ppm</text>
<text transform="translate(544.5 1263.4) scale(1.093 1)">16000ppm</text>
</g>
</svg></body></html>
